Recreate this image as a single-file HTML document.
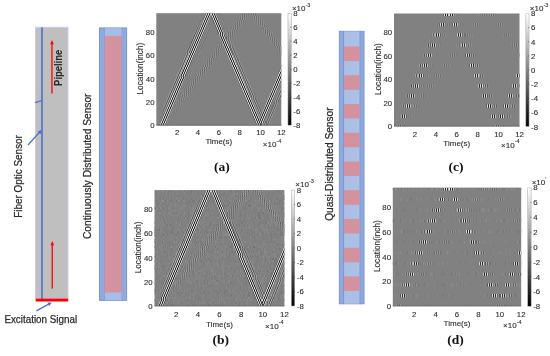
<!DOCTYPE html>
<html><head><meta charset="utf-8"><style>
html,body{margin:0;padding:0;background:#fff;}
svg{display:block;}
</style></head><body>
<svg width="550" height="356" viewBox="0 0 550 356">
<rect width="550" height="356" fill="#fff"/>
<rect x="35.5" y="27.3" width="32.5" height="271.5" fill="#bfbfbf" stroke="#c8cdf0" stroke-width="1"/>
<rect x="41.2" y="27.3" width="1.6" height="272.5" fill="#4a74c8"/>
<line x1="35" y1="102.7" x2="41.5" y2="100.6" stroke="#4a72c8" stroke-width="1.3"/>
<line x1="28" y1="145" x2="39.5" y2="132.3" stroke="#4a72c8" stroke-width="1.3"/>
<polygon points="41.8,129.8 37.6,131.6 40.6,134.3" fill="#4a72c8"/>
<line x1="36.4" y1="310.9" x2="49.2" y2="303.9" stroke="#4a72c8" stroke-width="1.3"/>
<polygon points="51.8,302.5 47.4,302.4 49.3,305.9" fill="#4a72c8"/>
<rect x="51.3" y="43.5" width="1.3" height="50" fill="#ff0000"/>
<polygon points="52,40 50.2,44.2 53.8,44.2" fill="#ff0000"/>
<rect x="51.6" y="244.5" width="1.3" height="44.2" fill="#ff0000"/>
<polygon points="52.3,241 50.5,245.2 54.1,245.2" fill="#ff0000"/>
<rect x="35.7" y="298.6" width="32.5" height="2.9" fill="#ff0000"/>
<text x="4.4" y="323" font-family="Liberation Sans, sans-serif" font-size="10.5" fill="#2b2b2b" stroke="#2b2b2b" stroke-width="0.25" textLength="72.7" lengthAdjust="spacingAndGlyphs">Excitation Signal</text>
<text transform="translate(22,217.7) rotate(-90)" font-family="Liberation Sans, sans-serif" font-size="10.2" fill="#2b2b2b" stroke="#2b2b2b" stroke-width="0.25" textLength="82.6" lengthAdjust="spacingAndGlyphs">Fiber Optic Sensor</text>
<text transform="translate(62.3,85.9) rotate(-90)" font-family="Liberation Sans, sans-serif" font-weight="bold" font-size="10.2" fill="#2b2b2b" stroke="#2b2b2b" stroke-width="0.08" textLength="36.1" lengthAdjust="spacingAndGlyphs">Pipeline</text>
<rect x="99.4" y="27.9" width="27.3" height="272.4" fill="#8eaadc" stroke="#6f89c6" stroke-width="0.8"/>
<rect x="104.6" y="27.9" width="17.2" height="272.2" fill="#a8bce8"/>
<rect x="104.6" y="36" width="17.2" height="256.4" fill="#d4929f"/>
<rect x="105.9" y="36" width="1.6" height="256.4" fill="#dc90a2"/>
<rect x="104.3" y="27.9" width="0.7" height="272.4" fill="#8a94c4" fill-opacity="0.8"/>
<rect x="121.5" y="27.9" width="0.7" height="272.4" fill="#8a94c4" fill-opacity="0.6"/>
<text transform="translate(90.8,239) rotate(-90)" font-family="Liberation Sans, sans-serif" font-size="10" fill="#2b2b2b" stroke="#2b2b2b" stroke-width="0.25" textLength="145.5" lengthAdjust="spacingAndGlyphs">Continuously Distributed Sensor</text>
<rect x="339.2" y="31.2" width="24.9" height="272.7" fill="#8eaadc" stroke="#6f89c6" stroke-width="0.7"/>
<rect x="343.8" y="31.4" width="16.4" height="272.3" fill="#abbfe7"/>
<rect x="343.3" y="30.9" width="0.8" height="273.3" fill="#7892cc"/>
<rect x="359.6" y="30.9" width="0.8" height="273.3" fill="#7892cc"/>
<rect x="344.1" y="46.50" width="15.5" height="14.5" fill="#d4919e"/>
<rect x="344.1" y="75.25" width="15.5" height="14.5" fill="#d4919e"/>
<rect x="344.1" y="104.00" width="15.5" height="14.5" fill="#d4919e"/>
<rect x="344.1" y="132.75" width="15.5" height="14.5" fill="#d4919e"/>
<rect x="344.1" y="161.50" width="15.5" height="14.5" fill="#d4919e"/>
<rect x="344.1" y="190.25" width="15.5" height="14.5" fill="#d4919e"/>
<rect x="344.1" y="219.00" width="15.5" height="14.5" fill="#d4919e"/>
<rect x="344.1" y="247.75" width="15.5" height="14.5" fill="#d4919e"/>
<rect x="344.1" y="276.50" width="15.5" height="14.5" fill="#d4919e"/>
<text transform="translate(332.7,220.8) rotate(-90)" font-family="Liberation Sans, sans-serif" font-size="10" fill="#2b2b2b" stroke="#2b2b2b" stroke-width="0.25" textLength="113.4" lengthAdjust="spacingAndGlyphs">Quasi-Distributed Sensor</text>
<rect x="156.3" y="13.2" width="125.00" height="112.40" fill="#818181"/>
<defs><clipPath id="cpa"><rect x="156.3" y="13.2" width="125.00" height="112.40"/></clipPath>
<filter id="bla" x="154.3" y="11.2" width="129.00" height="116.40" filterUnits="userSpaceOnUse" color-interpolation-filters="sRGB"><feConvolveMatrix order="3" kernelMatrix="0 0 0 0 1 0 0 0 0" divisor="1" edgeMode="none"/></filter>
</defs>
<g clip-path="url(#cpa)">
<g filter="url(#bla)">
<path fill="#292929" d="M207 13.50h1v1.74h-1zm2 0h1v1.74h-1zm3 0h1v1.74h-1zm2 0h1v1.74h-1zm-8 2.34h1v1.74h-1zm2 0h1v1.74h-1zm5 0h1v1.74h-1zm2 0h1v1.74h-1zm-10 2.34h1v1.74h-1zm2 0h1v1.74h-1zm7 0h1v1.74h-1zm2 0h1v1.74h-1zm-12 2.34h1v1.74h-1zm2 0h1v1.74h-1zm9 0h1v1.74h-1zm2 0h1v1.74h-1zm-14 2.34h1v1.74h-1zm2 0h1v1.74h-1zm11 0h1v1.74h-1zm2 0h1v1.74h-1zm-16 2.34h1v1.74h-1zm2 0h1v1.74h-1zm13 0h1v1.74h-1zm2 0h1v1.74h-1zm-18 2.34h1v1.74h-1zm2 0h1v1.74h-1zm15 0h1v1.74h-1zm2 0h1v1.74h-1zm-20 2.34h1v1.74h-1zm2 0h1v1.74h-1zm17 0h1v1.74h-1zm2 0h1v1.74h-1zm-22 2.34h1v1.74h-1zm2 0h1v1.74h-1zm19 0h1v1.74h-1zm2 0h1v1.74h-1zm-24 2.34h1v1.74h-1zm2 0h1v1.74h-1zm20 0h1v1.74h-1zm2 0h1v1.74h-1zm-25 2.34h1v1.74h-1zm2 0h1v1.74h-1zm22 0h1v1.74h-1zm2 0h1v1.74h-1zm-27 2.34h1v1.74h-1zm2 0h1v1.74h-1zm24 0h1v1.74h-1zm2 0h1v1.74h-1zm-29 2.34h1v1.74h-1zm2 0h1v1.74h-1zm26 0h1v1.74h-1zm2 0h1v1.74h-1zm-31 2.34h1v1.74h-1zm2 0h1v1.74h-1zm28 0h1v1.74h-1zm2 0h1v1.74h-1zm-33 2.34h1v1.74h-1zm2 0h1v1.74h-1zm30 0h1v1.74h-1zm2 0h1v1.74h-1zm-35 2.34h1v1.74h-1zm2 0h1v1.74h-1zm32 0h1v1.74h-1zm2 0h1v1.74h-1zm-37 2.34h1v1.74h-1zm2 0h1v1.74h-1zm34 0h1v1.74h-1zm2 0h1v1.74h-1zm-39 2.34h1v1.74h-1zm2 0h1v1.74h-1zm36 0h1v1.74h-1zm2 0h1v1.74h-1zm-41 2.34h1v1.74h-1zm2 0h1v1.74h-1zm38 0h1v1.74h-1zm2 0h1v1.74h-1zm-43 2.34h1v1.74h-1zm2 0h1v1.74h-1zm40 0h1v1.74h-1zm2 0h1v1.74h-1zm-45 2.34h1v1.74h-1zm2 0h1v1.74h-1zm42 0h1v1.74h-1zm2 0h1v1.74h-1zm-47 2.34h1v1.74h-1zm2 0h1v1.74h-1zm44 0h1v1.74h-1zm2 0h1v1.74h-1zm-49 2.34h1v1.74h-1zm2 0h1v1.74h-1zm46 0h1v1.74h-1zm2 0h1v1.74h-1zm-51 2.34h1v1.74h-1zm2 0h1v1.74h-1zm48 0h1v1.74h-1zm2 0h1v1.74h-1zm-53 2.34h1v1.74h-1zm2 0h1v1.74h-1zm50 0h1v1.74h-1zm2 0h1v1.74h-1zm44 0h1v1.74h-1zm-99 2.34h1v1.74h-1zm2 0h1v1.74h-1zm52 0h1v1.74h-1zm2 0h1v1.74h-1zm42 0h1v1.74h-1zm-99 2.34h1v1.74h-1zm2 0h1v1.74h-1zm54 0h1v1.74h-1zm2 0h1v1.74h-1zm40 0h1v1.74h-1zm2 0h1v1.74h-1zm-100 2.34h1v1.74h-1zm2 0h1v1.74h-1zm55 0h1v1.74h-1zm2 0h1v1.74h-1zm38 0h1v1.74h-1zm2 0h1v1.74h-1zm-100 2.34h1v1.74h-1zm2 0h1v1.74h-1zm57 0h1v1.74h-1zm2 0h1v1.74h-1zm36 0h1v1.74h-1zm2 0h1v1.74h-1zm-100 2.34h1v1.74h-1zm2 0h1v1.74h-1zm59 0h1v1.74h-1zm2 0h1v1.74h-1zm34 0h1v1.74h-1zm2 0h1v1.74h-1zm-100 2.34h1v1.74h-1zm2 0h1v1.74h-1zm61 0h1v1.74h-1zm2 0h1v1.74h-1zm32 0h1v1.74h-1zm2 0h1v1.74h-1zm-100 2.34h1v1.74h-1zm2 0h1v1.74h-1zm63 0h1v1.74h-1zm2 0h1v1.74h-1zm30 0h1v1.74h-1zm2 0h1v1.74h-1zm-100 2.34h1v1.74h-1zm2 0h1v1.74h-1zm65 0h1v1.74h-1zm2 0h1v1.74h-1zm28 0h1v1.74h-1zm2 0h1v1.74h-1zm-100 2.34h1v1.74h-1zm2 0h1v1.74h-1zm67 0h1v1.74h-1zm2 0h1v1.74h-1zm26 0h1v1.74h-1zm2 0h1v1.74h-1zm-100 2.34h1v1.74h-1zm2 0h1v1.74h-1zm69 0h1v1.74h-1zm2 0h1v1.74h-1zm24 0h1v1.74h-1zm2 0h1v1.74h-1zm-100 2.34h1v1.74h-1zm2 0h1v1.74h-1zm71 0h1v1.74h-1zm2 0h1v1.74h-1zm22 0h1v1.74h-1zm2 0h1v1.74h-1zm-100 2.34h1v1.74h-1zm2 0h1v1.74h-1zm73 0h1v1.74h-1zm2 0h1v1.74h-1zm20 0h1v1.74h-1zm2 0h1v1.74h-1zm-100 2.34h1v1.74h-1zm2 0h1v1.74h-1zm75 0h1v1.74h-1zm2 0h1v1.74h-1zm18 0h1v1.74h-1zm2 0h1v1.74h-1zm-100 2.34h1v1.74h-1zm2 0h1v1.74h-1zm77 0h1v1.74h-1zm2 0h1v1.74h-1zm16 0h1v1.74h-1zm2 0h1v1.74h-1zm-100 2.34h1v1.74h-1zm2 0h1v1.74h-1zm79 0h1v1.74h-1zm2 0h1v1.74h-1zm14 0h1v1.74h-1zm2 0h1v1.74h-1zm-100 2.34h1v1.74h-1zm2 0h1v1.74h-1zm81 0h1v1.74h-1zm2 0h1v1.74h-1zm12 0h1v1.74h-1zm2 0h1v1.74h-1zm-100 2.34h1v1.74h-1zm2 0h1v1.74h-1zm83 0h1v1.74h-1zm2 0h1v1.74h-1zm10 0h1v1.74h-1zm2 0h1v1.74h-1zm-100 2.34h1v1.74h-1zm2 0h1v1.74h-1zm85 0h1v1.74h-1zm2 0h1v1.74h-1zm8 0h1v1.74h-1zm2 0h1v1.74h-1zm-100 2.34h1v1.74h-1zm2 0h1v1.74h-1zm87 0h1v1.74h-1zm2 0h1v1.74h-1zm6 0h1v1.74h-1zm2 0h1v1.74h-1zm-100 2.34h1v1.74h-1zm2 0h1v1.74h-1zm89 0h1v1.74h-1zm2 0h1v1.74h-1zm4 0h1v1.74h-1zm2 0h1v1.74h-1zm-100 2.34h1v1.74h-1zm2 0h1v1.74h-1zm91 0h1v1.74h-1zm2 0h1v1.74h-1zm2 0h1v1.74h-1zm2 0h1v1.74h-1zm-100 2.34h1v1.74h-1zm2 0h1v1.74h-1zm93 0h1v1.74h-1zm2 0h1v1.74h-1zm2 0h1v1.74h-1zm-100 2.34h1v1.74h-1zm2 0h1v1.74h-1zm95 0h1v1.74h-1zm2 0h1v1.74h-1zm1 0h1v1.74h-1z"/>
<path fill="#555555" d="M217 29.89h1v1.74h-1zm1 2.34h1v1.74h-1zm-24 2.34h1v1.74h-1zm2 0h1v1.74h-1zm28 0h1v1.74h-1zm-31 2.34h1v1.74h-1zm2 0h1v1.74h-1zm30 0h1v1.74h-1zm-33 2.34h1v1.74h-1zm2 0h1v1.74h-1zm32 0h1v1.74h-1zm-35 2.34h1v1.74h-1zm2 0h1v1.74h-1zm-3 2.34h1v1.74h-1zm2 0h1v1.74h-1zm-3 2.34h1v1.74h-1zm2 0h1v1.74h-1zm-3 2.34h1v1.74h-1zm2 0h1v1.74h-1zm-1 2.34h1v1.74h-1zm-2 2.34h1v1.74h-1zm-1 2.34h1v1.74h-1zm-1 2.34h1v1.74h-1zm-1 2.34h1v1.74h-1zm-1 2.34h1v1.74h-1zm-1 2.34h1v1.74h-1zm-1 2.34h1v1.74h-1zm-1 2.34h1v1.74h-1zm7 0h1v1.74h-1zm-8 2.34h1v1.74h-1zm7 0h1v1.74h-1zm-8 2.34h1v1.74h-1zm7 0h1v1.74h-1zm-8 2.34h1v1.74h-1zm2 0h1v1.74h-1zm-3 2.34h1v1.74h-1zm2 0h1v1.74h-1zm-3 2.34h1v1.74h-1zm2 0h1v1.74h-1zm-3 2.34h1v1.74h-1zm2 0h1v1.74h-1zm-3 2.34h1v1.74h-1zm2 0h1v1.74h-1zm-3 2.34h1v1.74h-1zm2 0h1v1.74h-1zm-3 2.34h1v1.74h-1zm2 0h1v1.74h-1zm-3 2.34h1v1.74h-1zm2 0h1v1.74h-1zm-3 2.34h1v1.74h-1zm2 0h1v1.74h-1zm-3 2.34h1v1.74h-1zm2 0h1v1.74h-1zm-3 2.34h1v1.74h-1zm2 0h1v1.74h-1zm-3 2.34h1v1.74h-1zm2 0h1v1.74h-1zm97 14.05h1v1.74h-1zm-1 2.34h1v1.74h-1zm-1 2.34h1v1.74h-1zm-7 2.34h1v1.74h-1z"/>
<path fill="#5e5e5e" d="M212 18.18h1v1.74h-1zm1 2.34h1v1.74h-1zm1 2.34h1v1.74h-1zm1 2.34h1v1.74h-1zm1 2.34h1v1.74h-1zm-20 2.34h1v1.74h-1zm2 0h1v1.74h-1zm-3 2.34h1v1.74h-1zm2 0h1v1.74h-1zm30 9.37h1v1.74h-1zm1 2.34h1v1.74h-1zm1 2.34h1v1.74h-1zm1 0h1v1.74h-1zm0 2.34h1v1.74h-1zm1 0h1v1.74h-1zm2 0h1v1.74h-1zm-46 2.34h1v1.74h-1zm45 0h1v1.74h-1zm2 0h1v1.74h-1zm-1 2.34h1v1.74h-1zm2 0h1v1.74h-1zm-1 2.34h1v1.74h-1zm2 0h1v1.74h-1zm-1 2.34h1v1.74h-1zm2 0h1v1.74h-1zm-46 2.34h1v1.74h-1zm45 0h1v1.74h-1zm2 0h1v1.74h-1zm-48 2.34h1v1.74h-1zm47 0h1v1.74h-1zm2 0h1v1.74h-1zm-50 2.34h1v1.74h-1zm49 0h1v1.74h-1zm2 0h1v1.74h-1zm-52 2.34h1v1.74h-1zm51 0h1v1.74h-1zm2 0h1v1.74h-1zm-1 2.34h1v1.74h-1zm2 0h1v1.74h-1zm-1 2.34h1v1.74h-1zm2 0h1v1.74h-1zm-1 2.34h1v1.74h-1zm2 0h1v1.74h-1zm-1 2.34h1v1.74h-1zm2 0h1v1.74h-1zm-1 2.34h1v1.74h-1zm2 0h1v1.74h-1zm-1 2.34h1v1.74h-1zm2 0h1v1.74h-1zm-1 2.34h1v1.74h-1zm2 0h1v1.74h-1zm-1 2.34h1v1.74h-1zm2 0h1v1.74h-1zm-1 2.34h1v1.74h-1zm2 0h1v1.74h-1zm31 0h1v1.74h-1zm-32 2.34h1v1.74h-1zm2 0h1v1.74h-1zm29 0h1v1.74h-1zm-30 2.34h1v1.74h-1zm2 0h1v1.74h-1zm27 0h1v1.74h-1zm2 0h1v1.74h-1zm-30 2.34h1v1.74h-1zm2 0h1v1.74h-1zm25 0h1v1.74h-1zm2 0h1v1.74h-1zm-27 2.34h1v1.74h-1zm2 0h1v1.74h-1zm22 0h1v1.74h-1zm2 0h1v1.74h-1zm-25 2.34h1v1.74h-1zm2 0h1v1.74h-1zm20 0h1v1.74h-1zm2 0h1v1.74h-1zm-23 2.34h1v1.74h-1zm2 0h1v1.74h-1zm17 0h1v1.74h-1zm2 0h1v1.74h-1zm-111 2.34h1v1.74h-1zm2 0h1v1.74h-1zm89 0h1v1.74h-1zm2 0h1v1.74h-1zm15 0h1v1.74h-1zm2 0h1v1.74h-1zm-18 2.34h1v1.74h-1zm2 0h1v1.74h-1zm10 0h1v1.74h-1zm3 0h1v1.74h-1zm2 0h1v1.74h-1zm-16 2.34h1v1.74h-1zm2 0h1v1.74h-1zm8 0h1v1.74h-1zm3 0h1v1.74h-1zm2 0h1v1.74h-1zm-22 2.34h1v1.74h-1zm8 0h1v1.74h-1zm2 0h1v1.74h-1zm6 0h1v1.74h-1zm3 0h1v1.74h-1zm2 0h1v1.74h-1zm-20 2.34h1v1.74h-1zm8 0h1v1.74h-1zm6 0h1v1.74h-1zm3 0h1v1.74h-1zm2 0h1v1.74h-1zm-18 2.34h1v1.74h-1zm15 0h1v1.74h-1zm2 0h1v1.74h-1zm-16 2.34h1v1.74h-1zm13 0h1v1.74h-1zm2 0h1v1.74h-1zm-14 2.34h1v1.74h-1zm10 0h1v1.74h-1zm1 0h1v1.74h-1zm2 0h1v1.74h-1zm-4 2.34h1v1.74h-1zm2 0h1v1.74h-1zm1 0h1v1.74h-1z"/>
<path fill="#676767" d="M244 13.50h1v1.74h-1zm2 0h1v1.74h-1zm7 0h1v1.74h-1zm2 0h1v1.74h-1zm-44 2.34h1v1.74h-1zm31 0h1v1.74h-1zm2 0h1v1.74h-1zm10 0h1v1.74h-1zm2 0h1v1.74h-1zm-16 2.34h1v1.74h-1zm2 0h1v1.74h-1zm14 0h1v1.74h-1zm2 0h1v1.74h-1zm-19 2.34h1v1.74h-1zm2 0h1v1.74h-1zm17 0h1v1.74h-1zm2 0h1v1.74h-1zm-23 2.34h1v1.74h-1zm2 0h1v1.74h-1zm21 0h1v1.74h-1zm2 0h1v1.74h-1zm-27 2.34h1v1.74h-1zm2 0h1v1.74h-1zm25 0h1v1.74h-1zm2 0h1v1.74h-1zm-67 2.34h1v1.74h-1zm2 0h1v1.74h-1zm34 0h1v1.74h-1zm2 0h1v1.74h-1zm28 0h1v1.74h-1zm2 0h1v1.74h-1zm-33 2.34h1v1.74h-1zm2 0h1v1.74h-1zm31 0h1v1.74h-1zm2 0h1v1.74h-1zm-37 2.34h1v1.74h-1zm2 0h1v1.74h-1zm35 0h1v1.74h-1zm2 0h1v1.74h-1zm-41 2.34h1v1.74h-1zm2 0h1v1.74h-1zm39 0h1v1.74h-1zm2 0h1v1.74h-1zm-45 2.34h1v1.74h-1zm2 0h1v1.74h-1zm42 0h1v1.74h-1zm2 0h1v1.74h-1zm-44 2.34h1v1.74h-1zm44 0h1v1.74h-1zm2 0h1v1.74h-1zm-45 2.34h1v1.74h-1zm45 0h1v1.74h-1zm2 0h1v1.74h-1zm-55 2.34h1v1.74h-1zm9 0h1v1.74h-1zm46 0h1v1.74h-1zm2 0h1v1.74h-1zm-81 2.34h1v1.74h-1zm22 0h1v1.74h-1zm2 0h1v1.74h-1zm11 0h1v1.74h-1zm45 0h1v1.74h-1zm2 0h1v1.74h-1zm-83 2.34h1v1.74h-1zm22 0h1v1.74h-1zm2 0h1v1.74h-1zm59 0h1v1.74h-1zm2 0h1v1.74h-1zm-86 2.34h1v1.74h-1zm21 0h1v1.74h-1zm2 0h1v1.74h-1zm13 0h1v1.74h-1zm50 0h1v1.74h-1zm-87 2.34h1v1.74h-1zm20 0h1v1.74h-1zm2 0h1v1.74h-1zm16 0h1v1.74h-1zm-39 2.34h1v1.74h-1zm19 0h1v1.74h-1zm2 0h1v1.74h-1zm-22 2.34h1v1.74h-1zm19 0h1v1.74h-1zm2 0h1v1.74h-1zm-4 2.34h1v1.74h-1zm2 0h1v1.74h-1zm-4 2.34h1v1.74h-1zm2 0h1v1.74h-1zm-4 2.34h1v1.74h-1zm2 0h1v1.74h-1zm-3 2.34h1v1.74h-1zm2 0h1v1.74h-1zm-4 2.34h1v1.74h-1zm2 0h1v1.74h-1zm-4 2.34h1v1.74h-1zm2 0h1v1.74h-1zm-4 2.34h1v1.74h-1zm2 0h1v1.74h-1zm-3 2.34h1v1.74h-1zm2 0h1v1.74h-1zm-4 2.34h1v1.74h-1zm2 0h1v1.74h-1zm-4 2.34h1v1.74h-1zm2 0h1v1.74h-1zm-4 2.34h1v1.74h-1zm2 0h1v1.74h-1zm-3 2.34h1v1.74h-1zm2 0h1v1.74h-1zm-4 2.34h1v1.74h-1zm2 0h1v1.74h-1zm-4 2.34h1v1.74h-1zm2 0h1v1.74h-1zm-4 2.34h1v1.74h-1zm2 0h1v1.74h-1zm89 0h1v1.74h-1zm-93 2.34h1v1.74h-1zm2 0h1v1.74h-1zm90 0h1v1.74h-1zm-93 2.34h1v1.74h-1zm92 0h1v1.74h-1zm-27 2.34h1v1.74h-1zm26 0h1v1.74h-1zm-25 2.34h1v1.74h-1zm24 0h1v1.74h-1zm-23 2.34h1v1.74h-1zm22 0h1v1.74h-1zm-106 2.34h1v1.74h-1zm2 0h1v1.74h-1zm83 0h1v1.74h-1zm-86 2.34h1v1.74h-1zm2 0h1v1.74h-1zm85 0h1v1.74h-1z"/>
<path fill="#6f6f6f" d="M205 13.50h1v1.74h-1zm37 0h1v1.74h-1zm9 0h1v1.74h-1zm-47 2.34h1v1.74h-1zm42 0h1v1.74h-1zm12 0h1v1.74h-1zm-55 2.34h1v1.74h-1zm41 0h1v1.74h-1zm16 0h1v1.74h-1zm-58 2.34h1v1.74h-1zm35 0h1v1.74h-1zm-38 2.34h1v1.74h-1zm2 0h1v1.74h-1zm34 0h1v1.74h-1zm23 0h1v1.74h-1zm-60 2.34h1v1.74h-1zm2 0h1v1.74h-1zm39 0h1v1.74h-1zm21 0h1v1.74h-1zm-23 2.34h1v1.74h-1zm30 0h1v1.74h-1zm-37 2.34h1v1.74h-1zm39 0h1v1.74h-1zm-66 2.34h1v1.74h-1zm22 0h1v1.74h-1zm3 0h1v1.74h-1zm37 0h1v1.74h-1zm-63 2.34h1v1.74h-1zm24 0h1v1.74h-1zm6 0h1v1.74h-1zm35 0h1v1.74h-1zm-66 2.34h1v1.74h-1zm29 0h1v1.74h-1zm44 0h1v1.74h-1zm-74 2.34h1v1.74h-1zm76 0h1v1.74h-1zm-77 2.34h1v1.74h-1zm22 0h1v1.74h-1zm51 0h1v1.74h-1zm-74 2.34h1v1.74h-1zm76 0h1v1.74h-1zm-51 2.34h1v1.74h-1zm58 0h1v1.74h-1zm-65 2.34h1v1.74h-1zm-2 2.34h1v1.74h-1zm65 0h1v1.74h-1zm-61 2.34h1v1.74h-1zm63 0h1v1.74h-1zm-65 2.34h1v1.74h-1zm-7 2.34h1v1.74h-1zm-2 2.34h1v1.74h-1zm4 2.34h1v1.74h-1zm-2 2.34h1v1.74h-1zm72 0h1v1.74h-1zm-79 2.34h1v1.74h-1zm78 0h1v1.74h-1zm-80 2.34h1v1.74h-1zm79 0h1v1.74h-1zm-75 2.34h1v1.74h-1zm-2 2.34h1v1.74h-1zm-7 2.34h1v1.74h-1zm-2 2.34h1v1.74h-1zm88 0h1v1.74h-1zm-1 2.34h1v1.74h-1zm-85 2.34h1v1.74h-1zm84 0h1v1.74h-1zm-91 2.34h1v1.74h-1zm52 0h1v1.74h-1zm38 0h1v1.74h-1zm-92 2.34h1v1.74h-1zm55 0h1v1.74h-1zm36 0h1v1.74h-1zm-35 2.34h1v1.74h-1zm34 0h1v1.74h-1zm-88 2.34h1v1.74h-1zm55 0h1v1.74h-1zm-57 2.34h1v1.74h-1zm58 0h1v1.74h-1zm-61 2.34h1v1.74h-1zm62 0h1v1.74h-1zm-66 2.34h1v1.74h-1zm2 0h1v1.74h-1zm-4 2.34h1v1.74h-1zm2 0h1v1.74h-1zm-2 2.34h1v1.74h-1zm-15 7.02h1v1.74h-1zm2 0h1v1.74h-1zm-1 2.34h1v1.74h-1zm-1 2.34h1v1.74h-1z"/>
<path fill="#787878" d="M216 13.50h1v1.74h-1zm2 0h1v1.74h-1zm2 0h1v1.74h-1zm28 0h1v1.74h-1zm9 0h1v1.74h-1zm-47 2.34h1v1.74h-1zm7 0h1v1.74h-1zm2 0h1v1.74h-1zm2 0h1v1.74h-1zm19 0h1v1.74h-1zm12 0h1v1.74h-1zm-43 2.34h1v1.74h-1zm2 0h1v1.74h-1zm7 0h1v1.74h-1zm2 0h1v1.74h-1zm2 0h1v1.74h-1zm16 0h1v1.74h-1zm16 0h1v1.74h-1zm-54 2.34h1v1.74h-1zm8 0h1v1.74h-1zm2 0h1v1.74h-1zm2 0h1v1.74h-1zm7 0h1v1.74h-1zm2 0h1v1.74h-1zm2 0h1v1.74h-1zm20 0h1v1.74h-1zm13 0h1v1.74h-1zm6 0h1v1.74h-1zm-55 2.34h1v1.74h-1zm2 0h1v1.74h-1zm2 0h1v1.74h-1zm9 0h1v1.74h-1zm2 0h1v1.74h-1zm2 0h1v1.74h-1zm17 0h1v1.74h-1zm23 0h1v1.74h-1zm-58 2.34h1v1.74h-1zm2 0h1v1.74h-1zm2 0h1v1.74h-1zm11 0h1v1.74h-1zm2 0h1v1.74h-1zm2 0h1v1.74h-1zm8 0h1v1.74h-1zm33 0h1v1.74h-1zm-61 2.34h1v1.74h-1zm2 0h1v1.74h-1zm2 0h1v1.74h-1zm13 0h1v1.74h-1zm1 0h1v1.74h-1zm1 0h1v1.74h-1zm2 0h1v1.74h-1zm5 0h1v1.74h-1zm30 0h1v1.74h-1zm-57 2.34h1v1.74h-1zm2 0h1v1.74h-1zm2 0h1v1.74h-1zm16 0h1v1.74h-1zm3 0h1v1.74h-1zm9 0h1v1.74h-1zm27 0h1v1.74h-1zm-58 2.34h1v1.74h-1zm2 0h1v1.74h-1zm27 0h1v1.74h-1zm37 0h1v1.74h-1zm-67 2.34h1v1.74h-1zm2 0h1v1.74h-1zm67 0h1v1.74h-1zm-70 2.34h1v1.74h-1zm2 0h1v1.74h-1zm63 0h1v1.74h-1zm-66 2.34h1v1.74h-1zm2 0h1v1.74h-1zm26 0h1v1.74h-1zm40 0h1v1.74h-1zm-69 2.34h1v1.74h-1zm2 0h1v1.74h-1zm28 0h1v1.74h-1zm47 0h1v1.74h-1zm-78 2.34h1v1.74h-1zm2 0h1v1.74h-1zm17 0h1v1.74h-1zm13 0h1v1.74h-1zm48 0h1v1.74h-1zm-81 2.34h1v1.74h-1zm2 0h1v1.74h-1zm16 0h1v1.74h-1zm58 0h1v1.74h-1zm-77 2.34h1v1.74h-1zm2 0h1v1.74h-1zm22 0h1v1.74h-1zm55 0h1v1.74h-1zm-80 2.34h1v1.74h-1zm2 0h1v1.74h-1zm21 0h1v1.74h-1zm-35 2.34h1v1.74h-1zm11 0h1v1.74h-1zm2 0h1v1.74h-1zm14 0h1v1.74h-1zm-28 2.34h1v1.74h-1zm11 0h1v1.74h-1zm2 0h1v1.74h-1zm13 0h1v1.74h-1zm-27 2.34h1v1.74h-1zm11 0h1v1.74h-1zm2 0h1v1.74h-1zm19 0h1v1.74h-1zm-33 2.34h1v1.74h-1zm11 0h1v1.74h-1zm2 0h1v1.74h-1zm18 0h1v1.74h-1zm-32 2.34h1v1.74h-1zm11 0h1v1.74h-1zm2 0h1v1.74h-1zm11 0h1v1.74h-1zm-25 2.34h1v1.74h-1zm11 0h1v1.74h-1zm2 0h1v1.74h-1zm10 0h1v1.74h-1zm28 0h1v1.74h-1zm-52 2.34h1v1.74h-1zm11 0h1v1.74h-1zm2 0h1v1.74h-1zm16 0h1v1.74h-1zm24 0h1v1.74h-1zm-54 2.34h1v1.74h-1zm11 0h1v1.74h-1zm2 0h1v1.74h-1zm15 0h1v1.74h-1zm27 0h1v1.74h-1zm-45 2.34h1v1.74h-1zm2 0h1v1.74h-1zm8 0h1v1.74h-1zm36 0h1v1.74h-1zm44 0h1v1.74h-1zm-91 2.34h1v1.74h-1zm2 0h1v1.74h-1zm7 0h1v1.74h-1zm39 0h1v1.74h-1zm42 0h1v1.74h-1zm-92 2.34h1v1.74h-1zm2 0h1v1.74h-1zm2 0h1v1.74h-1zm12 0h1v1.74h-1zm35 0h1v1.74h-1zm40 0h1v1.74h-1zm-92 2.34h1v1.74h-1zm2 0h1v1.74h-1zm2 0h1v1.74h-1zm11 0h1v1.74h-1zm38 0h1v1.74h-1zm38 0h1v1.74h-1zm-92 2.34h1v1.74h-1zm2 0h1v1.74h-1zm2 0h1v1.74h-1zm4 0h1v1.74h-1zm6 0h1v1.74h-1zm41 0h1v1.74h-1zm36 0h1v1.74h-1zm-92 2.34h1v1.74h-1zm2 0h1v1.74h-1zm2 0h1v1.74h-1zm3 0h1v1.74h-1zm50 0h1v1.74h-1zm34 0h1v1.74h-1zm8 0h1v1.74h-1zm-100 2.34h1v1.74h-1zm2 0h1v1.74h-1zm2 0h1v1.74h-1zm9 0h1v1.74h-1zm78 0h1v1.74h-1zm8 0h1v1.74h-1zm-100 2.34h1v1.74h-1zm2 0h1v1.74h-1zm2 0h1v1.74h-1zm8 0h1v1.74h-1zm79 0h1v1.74h-1zm8 0h1v1.74h-1zm-100 2.34h1v1.74h-1zm2 0h1v1.74h-1zm3 0h1v1.74h-1zm6 0h1v1.74h-1zm63 0h1v1.74h-1zm17 0h1v1.74h-1zm8 0h1v1.74h-1zm-100 2.34h1v1.74h-1zm2 0h1v1.74h-1zm2 0h1v1.74h-1zm67 0h1v1.74h-1zm5 0h1v1.74h-1zm23 0h1v1.74h-1zm-100 2.34h1v1.74h-1zm2 0h1v1.74h-1zm1 0h1v1.74h-1zm70 0h1v1.74h-1zm5 0h1v1.74h-1zm21 0h1v1.74h-1zm-100 2.34h1v1.74h-1zm2 0h1v1.74h-1zm1 0h1v1.74h-1zm6 0h1v1.74h-1zm66 0h1v1.74h-1zm24 0h1v1.74h-1zm-100 2.34h1v1.74h-1zm2 0h1v1.74h-1zm6 0h1v1.74h-1zm69 0h1v1.74h-1zm22 0h1v1.74h-1zm-100 2.34h1v1.74h-1zm7 0h1v1.74h-1zm72 0h1v1.74h-1zm20 0h1v1.74h-1zm5 0h1v1.74h-1zm-105 2.34h1v1.74h-1zm2 0h1v1.74h-1zm4 0h1v1.74h-1zm75 0h1v1.74h-1zm18 0h1v1.74h-1zm5 0h1v1.74h-1zm-105 2.34h1v1.74h-1zm2 0h1v1.74h-1zm2 0h1v1.74h-1zm2 0h1v1.74h-1zm77 0h1v1.74h-1zm16 0h1v1.74h-1zm5 0h1v1.74h-1zm-105 2.34h1v1.74h-1zm3 0h1v1.74h-1zm2 0h1v1.74h-1zm80 0h1v1.74h-1zm-86 2.34h1v1.74h-1zm2 0h1v1.74h-1zm2 0h1v1.74h-1zm83 0h1v1.74h-1zm-96 2.34h1v1.74h-1zm8 0h1v1.74h-1zm2 0h1v1.74h-1zm2 0h1v1.74h-1zm85 0h1v1.74h-1zm-98 2.34h1v1.74h-1zm8 0h1v1.74h-1zm2 0h1v1.74h-1zm2 0h1v1.74h-1zm87 0h1v1.74h-1zm-98 2.34h1v1.74h-1zm6 0h1v1.74h-1zm2 0h1v1.74h-1zm2 0h1v1.74h-1zm-11 2.34h1v1.74h-1zm6 0h1v1.74h-1zm2 0h1v1.74h-1zm2 0h1v1.74h-1zm-11 2.34h1v1.74h-1zm6 0h1v1.74h-1zm2 0h1v1.74h-1zm2 0h1v1.74h-1z"/>
<path fill="#8a8a8a" d="M217 13.50h1v1.74h-1zm2 0h1v1.74h-1zm22 0h1v1.74h-1zm8 0h1v1.74h-1zm1 0h1v1.74h-1zm-32 2.34h1v1.74h-1zm2 0h1v1.74h-1zm19 0h1v1.74h-1zm8 0h1v1.74h-1zm12 0h1v1.74h-1zm-49 2.34h1v1.74h-1zm9 0h1v1.74h-1zm2 0h1v1.74h-1zm24 0h1v1.74h-1zm8 0h1v1.74h-1zm8 0h1v1.74h-1zm-60 2.34h1v1.74h-1zm8 0h1v1.74h-1zm2 0h1v1.74h-1zm9 0h1v1.74h-1zm2 0h1v1.74h-1zm14 0h1v1.74h-1zm19 0h1v1.74h-1zm8 0h1v1.74h-1zm-65 2.34h1v1.74h-1zm10 0h1v1.74h-1zm2 0h1v1.74h-1zm11 0h1v1.74h-1zm2 0h1v1.74h-1zm11 0h1v1.74h-1zm8 0h1v1.74h-1zm15 0h1v1.74h-1zm8 0h1v1.74h-1zm-68 2.34h1v1.74h-1zm10 0h1v1.74h-1zm2 0h1v1.74h-1zm13 0h1v1.74h-1zm2 0h1v1.74h-1zm8 0h1v1.74h-1zm8 0h1v1.74h-1zm19 0h1v1.74h-1zm-63 2.34h1v1.74h-1zm10 0h1v1.74h-1zm2 0h1v1.74h-1zm17 0h1v1.74h-1zm13 0h1v1.74h-1zm30 0h1v1.74h-1zm-73 2.34h1v1.74h-1zm10 0h1v1.74h-1zm2 0h1v1.74h-1zm16 0h1v1.74h-1zm2 0h1v1.74h-1zm1 0h1v1.74h-1zm3 0h1v1.74h-1zm33 0h1v1.74h-1zm8 0h1v1.74h-1zm-76 2.34h1v1.74h-1zm10 0h1v1.74h-1zm2 0h1v1.74h-1zm20 0h1v1.74h-1zm1 0h1v1.74h-1zm8 0h1v1.74h-1zm29 0h1v1.74h-1zm8 0h1v1.74h-1zm-69 2.34h1v1.74h-1zm2 0h1v1.74h-1zm28 0h1v1.74h-1zm33 0h1v1.74h-1zm-64 2.34h1v1.74h-1zm2 0h1v1.74h-1zm27 0h1v1.74h-1zm44 0h1v1.74h-1zm-84 2.34h1v1.74h-1zm10 0h1v1.74h-1zm2 0h1v1.74h-1zm28 0h1v1.74h-1zm38 0h1v1.74h-1zm8 0h1v1.74h-1zm-87 2.34h1v1.74h-1zm10 0h1v1.74h-1zm2 0h1v1.74h-1zm18 0h1v1.74h-1zm12 0h1v1.74h-1zm39 0h1v1.74h-1zm8 0h1v1.74h-1zm-90 2.34h1v1.74h-1zm10 0h1v1.74h-1zm2 0h1v1.74h-1zm17 0h1v1.74h-1zm15 0h1v1.74h-1zm40 0h1v1.74h-1zm-85 2.34h1v1.74h-1zm10 0h1v1.74h-1zm2 0h1v1.74h-1zm33 0h1v1.74h-1zm1 0h1v1.74h-1zm-47 2.34h1v1.74h-1zm10 0h1v1.74h-1zm2 0h1v1.74h-1zm16 0h1v1.74h-1zm19 0h1v1.74h-1zm1 0h1v1.74h-1zm41 0h1v1.74h-1zm-90 2.34h1v1.74h-1zm10 0h1v1.74h-1zm2 0h1v1.74h-1zm2 0h1v1.74h-1zm13 0h1v1.74h-1zm8 0h1v1.74h-1zm14 0h1v1.74h-1zm1 0h1v1.74h-1zm42 0h1v1.74h-1zm-83 2.34h1v1.74h-1zm2 0h1v1.74h-1zm2 0h1v1.74h-1zm12 0h1v1.74h-1zm8 0h1v1.74h-1zm17 0h1v1.74h-1zm1 0h1v1.74h-1zm43 0h1v1.74h-1zm-86 2.34h1v1.74h-1zm2 0h1v1.74h-1zm2 0h1v1.74h-1zm19 0h1v1.74h-1zm20 0h1v1.74h-1zm1 0h1v1.74h-1zm-45 2.34h1v1.74h-1zm2 0h1v1.74h-1zm2 0h1v1.74h-1zm11 0h1v1.74h-1zm30 0h1v1.74h-1zm1 0h1v1.74h-1zm-47 2.34h1v1.74h-1zm2 0h1v1.74h-1zm2 0h1v1.74h-1zm10 0h1v1.74h-1zm8 0h1v1.74h-1zm-23 2.34h1v1.74h-1zm2 0h1v1.74h-1zm2 0h1v1.74h-1zm9 0h1v1.74h-1zm8 0h1v1.74h-1zm-22 2.34h1v1.74h-1zm2 0h1v1.74h-1zm2 0h1v1.74h-1zm16 0h1v1.74h-1zm-21 2.34h1v1.74h-1zm2 0h1v1.74h-1zm2 0h1v1.74h-1zm8 0h1v1.74h-1zm-13 2.34h1v1.74h-1zm2 0h1v1.74h-1zm2 0h1v1.74h-1zm7 0h1v1.74h-1zm8 0h1v1.74h-1zm-20 2.34h1v1.74h-1zm2 0h1v1.74h-1zm2 0h1v1.74h-1zm6 0h1v1.74h-1zm8 0h1v1.74h-1zm-19 2.34h1v1.74h-1zm2 0h1v1.74h-1zm2 0h1v1.74h-1zm13 0h1v1.74h-1zm-17 2.34h1v1.74h-1zm2 0h1v1.74h-1zm6 0h1v1.74h-1zm-9 2.34h1v1.74h-1zm2 0h1v1.74h-1zm5 0h1v1.74h-1zm8 0h1v1.74h-1zm-16 2.34h1v1.74h-1zm2 0h1v1.74h-1zm4 0h1v1.74h-1zm8 0h1v1.74h-1zm83 0h1v1.74h-1zm-98 2.34h1v1.74h-1zm2 0h1v1.74h-1zm11 0h1v1.74h-1zm84 0h1v1.74h-1zm-98 2.34h1v1.74h-1zm2 0h1v1.74h-1zm3 0h1v1.74h-1zm59 0h1v1.74h-1zm33 0h1v1.74h-1zm-98 2.34h1v1.74h-1zm2 0h1v1.74h-1zm2 0h1v1.74h-1zm62 0h1v1.74h-1zm31 0h1v1.74h-1zm-98 2.34h1v1.74h-1zm2 0h1v1.74h-1zm1 0h1v1.74h-1zm8 0h1v1.74h-1zm57 0h1v1.74h-1zm29 0h1v1.74h-1zm-98 2.34h1v1.74h-1zm2 0h1v1.74h-1zm8 0h1v1.74h-1zm87 0h1v1.74h-1zm-98 2.34h1v1.74h-1zm9 0h1v1.74h-1zm88 0h1v1.74h-1zm6 0h1v1.74h-1zm-104 2.34h1v1.74h-1zm79 0h1v1.74h-1zm18 0h1v1.74h-1zm6 0h1v1.74h-1zm-104 2.34h1v1.74h-1zm81 0h1v1.74h-1zm16 0h1v1.74h-1zm6 0h1v1.74h-1zm-104 2.34h1v1.74h-1zm1 0h1v1.74h-1zm6 0h1v1.74h-1zm76 0h1v1.74h-1zm14 0h1v1.74h-1zm-98 2.34h1v1.74h-1zm4 0h1v1.74h-1zm2 0h1v1.74h-1zm79 0h1v1.74h-1zm12 0h1v1.74h-1zm-98 2.34h1v1.74h-1zm2 0h1v1.74h-1zm2 0h1v1.74h-1zm83 0h1v1.74h-1zm10 0h1v1.74h-1zm-108 2.34h1v1.74h-1zm10 0h1v1.74h-1zm1 0h1v1.74h-1zm2 0h1v1.74h-1zm94 0h1v1.74h-1zm1 0h1v1.74h-1zm-109 2.34h1v1.74h-1zm10 0h1v1.74h-1zm2 0h1v1.74h-1zm95 0h1v1.74h-1zm1 0h1v1.74h-1zm-109 2.34h1v1.74h-1zm2 0h1v1.74h-1zm8 0h1v1.74h-1zm2 0h1v1.74h-1zm95 0h1v1.74h-1zm1 0h1v1.74h-1zm-107 2.34h1v1.74h-1zm8 0h1v1.74h-1zm2 0h1v1.74h-1zm95 0h1v1.74h-1zm-98 2.34h1v1.74h-1zm2 0h1v1.74h-1zm-3 2.34h1v1.74h-1zm2 0h1v1.74h-1zm-3 2.34h1v1.74h-1zm2 0h1v1.74h-1z"/>
<path fill="#939393" d="M243 13.50h1v1.74h-1zm4 0h1v1.74h-1zm9 0h1v1.74h-1zm-15 2.34h1v1.74h-1zm4 0h1v1.74h-1zm8 0h1v1.74h-1zm-14 2.34h1v1.74h-1zm16 0h1v1.74h-1zm-13 2.34h1v1.74h-1zm15 0h1v1.74h-1zm4 0h1v1.74h-1zm-61 2.34h1v1.74h-1zm36 0h1v1.74h-1zm4 0h1v1.74h-1zm23 0h1v1.74h-1zm-64 2.34h1v1.74h-1zm35 0h1v1.74h-1zm4 0h1v1.74h-1zm27 0h1v1.74h-1zm-33 2.34h1v1.74h-1zm30 0h1v1.74h-1zm-27 2.34h1v1.74h-1zm29 0h1v1.74h-1zm4 0h1v1.74h-1zm-44 2.34h1v1.74h-1zm5 0h1v1.74h-1zm4 0h1v1.74h-1zm33 0h1v1.74h-1zm4 0h1v1.74h-1zm-77 2.34h1v1.74h-1zm32 0h1v1.74h-1zm2 0h1v1.74h-1zm4 0h1v1.74h-1zm41 0h1v1.74h-1zm-80 2.34h1v1.74h-1zm77 0h1v1.74h-1zm-40 2.34h1v1.74h-1zm42 0h1v1.74h-1zm4 0h1v1.74h-1zm-2 2.34h1v1.74h-1zm4 0h1v1.74h-1zm-57 2.34h1v1.74h-1zm59 0h1v1.74h-1zm-61 2.34h1v1.74h-1zm58 0h1v1.74h-1zm-55 2.34h1v1.74h-1zm57 0h1v1.74h-1zm-63 2.34h1v1.74h-1zm4 0h1v1.74h-1zm61 0h1v1.74h-1zm-67 2.34h1v1.74h-1zm4 0h1v1.74h-1zm-6 2.34h1v1.74h-1zm3 2.34h1v1.74h-1zm-6 2.34h1v1.74h-1zm4 0h1v1.74h-1zm27 0h1v1.74h-1zm-33 2.34h1v1.74h-1zm4 0h1v1.74h-1zm30 0h1v1.74h-1zm-36 2.34h1v1.74h-1zm37 0h1v1.74h-1zm-34 2.34h1v1.74h-1zm31 0h1v1.74h-1zm4 0h1v1.74h-1zm-41 2.34h1v1.74h-1zm4 0h1v1.74h-1zm34 0h1v1.74h-1zm4 0h1v1.74h-1zm-44 2.34h1v1.74h-1zm4 0h1v1.74h-1zm37 0h1v1.74h-1zm4 0h1v1.74h-1zm-47 2.34h1v1.74h-1zm44 0h1v1.74h-1zm4 0h1v1.74h-1zm-45 2.34h1v1.74h-1zm42 0h1v1.74h-1zm-48 2.34h1v1.74h-1zm4 0h1v1.74h-1zm45 0h1v1.74h-1zm-51 2.34h1v1.74h-1zm4 0h1v1.74h-1zm48 0h1v1.74h-1zm-54 2.34h1v1.74h-1zm55 0h1v1.74h-1zm-52 2.34h1v1.74h-1zm-2 2.34h1v1.74h-1zm-6 2.34h1v1.74h-1zm4 0h1v1.74h-1zm-6 2.34h1v1.74h-1zm-2 2.34h1v1.74h-1zm-1 2.34h1v1.74h-1zm4 0h1v1.74h-1zm-6 2.34h1v1.74h-1zm2 0h1v1.74h-1zm2 0h1v1.74h-1zm-17 2.34h1v1.74h-1zm13 0h1v1.74h-1zm2 0h1v1.74h-1zm-16 2.34h1v1.74h-1zm12 0h1v1.74h-1zm-13 2.34h1v1.74h-1zm98 2.34h1v1.74h-1zm-98 2.34h1v1.74h-1zm104 4.68h1v1.74h-1zm-2 2.34h1v1.74h-1zm1 0h1v1.74h-1zm-3 4.68h1v1.74h-1zm5 0h1v1.74h-1z"/>
<path fill="#9b9b9b" d="M245 13.50h1v1.74h-1zm7 0h1v1.74h-1zm2 0h1v1.74h-1zm-11 2.34h1v1.74h-1zm12 0h1v1.74h-1zm2 0h1v1.74h-1zm-16 2.34h1v1.74h-1zm2 0h1v1.74h-1zm14 0h1v1.74h-1zm2 0h1v1.74h-1zm-21 2.34h1v1.74h-1zm2 0h1v1.74h-1zm19 0h1v1.74h-1zm-21 2.34h1v1.74h-1zm21 0h1v1.74h-1zm2 0h1v1.74h-1zm-25 2.34h1v1.74h-1zm25 0h1v1.74h-1zm2 0h1v1.74h-1zm-65 2.34h1v1.74h-1zm36 0h1v1.74h-1zm2 0h1v1.74h-1zm28 0h1v1.74h-1zm2 0h1v1.74h-1zm-35 2.34h1v1.74h-1zm2 0h1v1.74h-1zm33 0h1v1.74h-1zm-35 2.34h1v1.74h-1zm37 0h1v1.74h-1zm-39 2.34h1v1.74h-1zm39 0h1v1.74h-1zm2 0h1v1.74h-1zm-43 2.34h1v1.74h-1zm2 0h1v1.74h-1zm42 0h1v1.74h-1zm2 0h1v1.74h-1zm-46 2.34h1v1.74h-1zm46 0h1v1.74h-1zm-45 2.34h1v1.74h-1zm2 0h1v1.74h-1zm45 0h1v1.74h-1zm-53 2.34h1v1.74h-1zm7 0h1v1.74h-1zm2 0h1v1.74h-1zm44 0h1v1.74h-1zm2 0h1v1.74h-1zm-57 2.34h1v1.74h-1zm2 0h1v1.74h-1zm56 0h1v1.74h-1zm2 0h1v1.74h-1zm-63 2.34h1v1.74h-1zm2 0h1v1.74h-1zm61 0h1v1.74h-1zm-63 2.34h1v1.74h-1zm-2 2.34h1v1.74h-1zm-2 2.34h1v1.74h-1zm2 0h1v1.74h-1zm18 0h1v1.74h-1zm-23 2.34h1v1.74h-1zm2 0h1v1.74h-1zm22 0h1v1.74h-1zm-24 2.34h1v1.74h-1zm25 0h1v1.74h-1zm-27 2.34h1v1.74h-1zm28 0h1v1.74h-1zm-30 2.34h1v1.74h-1zm2 0h1v1.74h-1zm29 0h1v1.74h-1zm-34 2.34h1v1.74h-1zm2 0h1v1.74h-1zm-2 2.34h1v1.74h-1zm-2 2.34h1v1.74h-1zm-2 2.34h1v1.74h-1zm2 0h1v1.74h-1zm-5 2.34h1v1.74h-1zm2 0h1v1.74h-1zm48 0h1v1.74h-1zm-50 2.34h1v1.74h-1zm51 0h1v1.74h-1zm-73 2.34h1v1.74h-1zm20 0h1v1.74h-1zm54 0h1v1.74h-1zm-75 2.34h1v1.74h-1zm19 0h1v1.74h-1zm2 0h1v1.74h-1zm55 0h1v1.74h-1zm-77 2.34h1v1.74h-1zm17 0h1v1.74h-1zm2 0h1v1.74h-1zm59 0h1v1.74h-1zm31 0h1v1.74h-1zm-110 2.34h1v1.74h-1zm16 0h1v1.74h-1zm2 0h1v1.74h-1zm62 0h1v1.74h-1zm29 0h1v1.74h-1zm-110 2.34h1v1.74h-1zm17 0h1v1.74h-1zm65 0h1v1.74h-1zm27 0h1v1.74h-1zm-110 2.34h1v1.74h-1zm16 0h1v1.74h-1zm2 0h1v1.74h-1zm66 0h1v1.74h-1zm25 0h1v1.74h-1zm-110 2.34h1v1.74h-1zm15 0h1v1.74h-1zm2 0h1v1.74h-1zm69 0h1v1.74h-1zm23 0h1v1.74h-1zm-110 2.34h1v1.74h-1zm15 0h1v1.74h-1zm70 0h1v1.74h-1zm24 0h1v1.74h-1zm-110 2.34h1v1.74h-1zm87 0h1v1.74h-1zm22 0h1v1.74h-1zm-21 2.34h1v1.74h-1zm1 2.34h1v1.74h-1zm21 0h1v1.74h-1zm-111 2.34h1v1.74h-1zm91 0h1v1.74h-1zm19 0h1v1.74h-1zm-111 2.34h1v1.74h-1zm93 0h1v1.74h-1zm17 0h1v1.74h-1zm-16 2.34h1v1.74h-1zm15 0h1v1.74h-1zm-14 2.34h1v1.74h-1zm13 0h1v1.74h-1zm-1 2.34h1v1.74h-1zm-1 2.34h1v1.74h-1zm-1 2.34h1v1.74h-1z"/>
<path fill="#a4a4a4" d="M197 29.89h1v1.74h-1zm-1 2.34h1v1.74h-1zm35 14.05h1v1.74h-1zm1 2.34h1v1.74h-1zm1 2.34h1v1.74h-1zm-47 2.34h1v1.74h-1zm48 0h1v1.74h-1zm-49 2.34h1v1.74h-1zm50 0h1v1.74h-1zm-51 2.34h1v1.74h-1zm52 0h1v1.74h-1zm-53 2.34h1v1.74h-1zm54 0h1v1.74h-1zm-55 2.34h1v1.74h-1zm56 0h1v1.74h-1zm-57 2.34h1v1.74h-1zm58 0h1v1.74h-1zm-59 2.34h1v1.74h-1zm60 0h1v1.74h-1zm-61 2.34h1v1.74h-1zm62 0h1v1.74h-1zm-63 2.34h1v1.74h-1zm64 0h1v1.74h-1zm-65 2.34h1v1.74h-1zm66 0h1v1.74h-1zm-67 2.34h1v1.74h-1zm68 0h1v1.74h-1zm-69 2.34h1v1.74h-1zm70 0h1v1.74h-1zm1 2.34h1v1.74h-1zm1 2.34h1v1.74h-1zm1 2.34h1v1.74h-1zm1 2.34h1v1.74h-1zm1 2.34h1v1.74h-1zm31 0h1v1.74h-1zm-30 2.34h1v1.74h-1zm29 0h1v1.74h-1zm-28 2.34h1v1.74h-1zm27 0h1v1.74h-1zm-25 2.34h1v1.74h-1zm24 0h1v1.74h-1zm-23 2.34h1v1.74h-1zm22 0h1v1.74h-1zm-21 2.34h1v1.74h-1zm19 0h1v1.74h-1zm2 0h1v1.74h-1zm-111 2.34h1v1.74h-1zm91 0h1v1.74h-1zm17 0h1v1.74h-1zm-16 2.34h1v1.74h-1zm15 0h1v1.74h-1zm-14 2.34h1v1.74h-1zm13 0h1v1.74h-1zm-12 2.34h1v1.74h-1zm11 0h1v1.74h-1zm-1 2.34h1v1.74h-1zm-1 2.34h1v1.74h-1zm-1 2.34h1v1.74h-1zm-4 2.34h1v1.74h-1zm3 0h1v1.74h-1zm-2 2.34h1v1.74h-1z"/>
<path fill="#adadad" d="M222 29.89h1v1.74h-1zm1 2.34h1v1.74h-1zm-28 2.34h1v1.74h-1zm24 0h1v1.74h-1zm-25 2.34h1v1.74h-1zm26 0h1v1.74h-1zm-27 2.34h1v1.74h-1zm28 0h1v1.74h-1zm-29 2.34h1v1.74h-1zm-1 2.34h1v1.74h-1zm-1 2.34h1v1.74h-1zm-1 2.34h1v1.74h-1zm-1 2.34h1v1.74h-1zm0 2.34h1v1.74h-1zm-1 2.34h1v1.74h-1zm-1 2.34h1v1.74h-1zm-1 2.34h1v1.74h-1zm-1 2.34h1v1.74h-1zm-1 2.34h1v1.74h-1zm-1 2.34h1v1.74h-1zm-1 2.34h1v1.74h-1zm1 0h1v1.74h-1zm-2 2.34h1v1.74h-1zm1 0h1v1.74h-1zm-2 2.34h1v1.74h-1zm1 0h1v1.74h-1zm-2 2.34h1v1.74h-1zm6 0h1v1.74h-1zm-7 2.34h1v1.74h-1zm6 0h1v1.74h-1zm-7 2.34h1v1.74h-1zm-1 2.34h1v1.74h-1zm-1 2.34h1v1.74h-1zm-1 2.34h1v1.74h-1zm-1 2.34h1v1.74h-1zm-1 2.34h1v1.74h-1zm-1 2.34h1v1.74h-1zm-1 2.34h1v1.74h-1zm-1 2.34h1v1.74h-1zm-1 2.34h1v1.74h-1zm93 14.05h1v1.74h-1zm2 7.03h1v1.74h-1z"/>
<path fill="#b6b6b6" d="M217 18.18h1v1.74h-1zm1 2.34h1v1.74h-1zm1 2.34h1v1.74h-1zm1 2.34h1v1.74h-1zm1 2.34h1v1.74h-1zm1 14.05h1v1.74h-1zm1 2.34h1v1.74h-1zm1 2.34h1v1.74h-1zm1 2.34h1v1.74h-1zm-39 11.71h1v1.74h-1zm-1 2.34h1v1.74h-1zm-1 2.34h1v1.74h-1zm-1 2.34h1v1.74h-1zm-1 14.05h1v1.74h-1zm-1 2.34h1v1.74h-1zm-1 2.34h1v1.74h-1zm-1 2.34h1v1.74h-1zm-1 2.34h1v1.74h-1zm86 16.39h1v1.74h-1zm-1 2.34h1v1.74h-1zm-7 2.34h1v1.74h-1zm6 0h1v1.74h-1zm-5 2.34h1v1.74h-1zm4 0h1v1.74h-1zm-3 2.34h1v1.74h-1zm1 2.34h1v1.74h-1z"/>
<path fill="#bfbfbf" d="M215 13.50h1v1.74h-1zm1 2.34h1v1.74h-1zm-24 30.44h1v1.74h-1zm-1 2.34h1v1.74h-1zm-1 2.34h1v1.74h-1zm36 0h1v1.74h-1zm-37 2.34h1v1.74h-1zm38 0h1v1.74h-1zm-39 2.34h1v1.74h-1zm40 0h1v1.74h-1zm-41 2.34h1v1.74h-1zm42 0h1v1.74h-1zm1 2.34h1v1.74h-1zm1 2.34h1v1.74h-1zm-54 30.44h1v1.74h-1zm93 0h1v1.74h-1zm-94 2.34h1v1.74h-1zm93 0h1v1.74h-1zm-94 2.34h1v1.74h-1zm93 0h1v1.74h-1zm-94 2.34h1v1.74h-1zm77 0h1v1.74h-1zm16 0h1v1.74h-1zm-94 2.34h1v1.74h-1zm79 0h1v1.74h-1zm14 0h1v1.74h-1zm-13 2.34h1v1.74h-1zm12 0h1v1.74h-1zm-11 2.34h1v1.74h-1zm1 2.34h1v1.74h-1z"/>
<path fill="#c7c7c7" d="M210 13.50h1v1.74h-1zm-1 2.34h1v1.74h-1zm-1 2.34h1v1.74h-1zm-1 2.34h1v1.74h-1zm-1 2.34h1v1.74h-1zm-8 9.37h1v1.74h-1zm-1 2.34h1v1.74h-1zm-1 2.34h1v1.74h-1zm-1 2.34h1v1.74h-1zm-1 2.34h1v1.74h-1zm-1 2.34h1v1.74h-1zm39 21.07h1v1.74h-1zm1 2.34h1v1.74h-1zm1 2.34h1v1.74h-1zm1 2.34h1v1.74h-1zm1 2.34h1v1.74h-1zm1 2.34h1v1.74h-1zm39 2.34h1v1.74h-1zm-1 2.34h1v1.74h-1zm-1 2.34h1v1.74h-1zm-29 2.34h1v1.74h-1zm28 0h1v1.74h-1zm-27 2.34h1v1.74h-1zm26 0h1v1.74h-1zm-25 2.34h1v1.74h-1zm24 0h1v1.74h-1zm-23 2.34h1v1.74h-1zm1 2.34h1v1.74h-1zm1 2.34h1v1.74h-1zm-78 7.03h1v1.74h-1zm-1 2.34h1v1.74h-1zm-1 2.34h1v1.74h-1zm-1 2.34h1v1.74h-1zm-1 2.34h1v1.74h-1zm-1 2.34h1v1.74h-1z"/>
<path fill="#d0d0d0" d="M206 13.50h1v1.74h-1zm-1 2.34h1v1.74h-1zm-1 2.34h1v1.74h-1zm-1 2.34h1v1.74h-1zm-1 2.34h1v1.74h-1zm-1 2.34h1v1.74h-1zm4 0h1v1.74h-1zm-5 2.34h1v1.74h-1zm4 0h1v1.74h-1zm-5 2.34h1v1.74h-1zm4 0h1v1.74h-1zm-1 2.34h1v1.74h-1zm-1 2.34h1v1.74h-1zm-1 2.34h1v1.74h-1zm-1 2.34h1v1.74h-1zm-1 2.34h1v1.74h-1zm-1 2.34h1v1.74h-1zm39 21.07h1v1.74h-1zm1 2.34h1v1.74h-1zm44 0h1v1.74h-1zm-43 2.34h1v1.74h-1zm42 0h1v1.74h-1zm-41 2.34h1v1.74h-1zm40 0h1v1.74h-1zm-39 2.34h1v1.74h-1zm38 0h1v1.74h-1zm-37 2.34h1v1.74h-1zm36 0h1v1.74h-1zm4 0h1v1.74h-1zm-43 2.34h1v1.74h-1zm4 0h1v1.74h-1zm38 0h1v1.74h-1zm-41 2.34h1v1.74h-1zm4 0h1v1.74h-1zm36 0h1v1.74h-1zm-39 2.34h1v1.74h-1zm4 0h1v1.74h-1zm34 0h1v1.74h-1zm-37 2.34h1v1.74h-1zm36 0h1v1.74h-1zm-35 2.34h1v1.74h-1zm34 0h1v1.74h-1zm-33 2.34h1v1.74h-1zm32 0h1v1.74h-1zm-31 2.34h1v1.74h-1zm1 2.34h1v1.74h-1zm-78 11.71h1v1.74h-1zm-1 2.34h1v1.74h-1zm-1 2.34h1v1.74h-1zm-1 2.34h1v1.74h-1zm-1 2.34h1v1.74h-1zm-1 2.34h1v1.74h-1zm4 0h1v1.74h-1zm-5 2.34h1v1.74h-1zm4 0h1v1.74h-1zm-5 2.34h1v1.74h-1zm4 0h1v1.74h-1z"/>
<path fill="#d9d9d9" d="M208 13.50h1v1.74h-1zm3 0h1v1.74h-1zm2 0h1v1.74h-1zm-6 2.34h1v1.74h-1zm5 0h1v1.74h-1zm2 0h1v1.74h-1zm-8 2.34h1v1.74h-1zm7 0h1v1.74h-1zm2 0h1v1.74h-1zm-10 2.34h1v1.74h-1zm9 0h1v1.74h-1zm2 0h1v1.74h-1zm-12 2.34h1v1.74h-1zm11 0h1v1.74h-1zm2 0h1v1.74h-1zm-14 2.34h1v1.74h-1zm13 0h1v1.74h-1zm2 0h1v1.74h-1zm-16 2.34h1v1.74h-1zm15 0h1v1.74h-1zm2 0h1v1.74h-1zm-18 2.34h1v1.74h-1zm17 0h1v1.74h-1zm2 0h1v1.74h-1zm-20 2.34h1v1.74h-1zm19 0h1v1.74h-1zm2 0h1v1.74h-1zm-22 2.34h1v1.74h-1zm22 0h1v1.74h-1zm2 0h1v1.74h-1zm-25 2.34h1v1.74h-1zm24 0h1v1.74h-1zm2 0h1v1.74h-1zm-27 2.34h1v1.74h-1zm26 0h1v1.74h-1zm2 0h1v1.74h-1zm-29 2.34h1v1.74h-1zm28 0h1v1.74h-1zm2 0h1v1.74h-1zm-31 2.34h1v1.74h-1zm30 0h1v1.74h-1zm2 0h1v1.74h-1zm-33 2.34h1v1.74h-1zm2 0h1v1.74h-1zm30 0h1v1.74h-1zm2 0h1v1.74h-1zm-35 2.34h1v1.74h-1zm2 0h1v1.74h-1zm32 0h1v1.74h-1zm2 0h1v1.74h-1zm-37 2.34h1v1.74h-1zm2 0h1v1.74h-1zm34 0h1v1.74h-1zm2 0h1v1.74h-1zm-39 2.34h1v1.74h-1zm2 0h1v1.74h-1zm36 0h1v1.74h-1zm2 0h1v1.74h-1zm-41 2.34h1v1.74h-1zm2 0h1v1.74h-1zm38 0h1v1.74h-1zm2 0h1v1.74h-1zm-43 2.34h1v1.74h-1zm2 0h1v1.74h-1zm40 0h1v1.74h-1zm2 0h1v1.74h-1zm-45 2.34h1v1.74h-1zm2 0h1v1.74h-1zm42 0h1v1.74h-1zm2 0h1v1.74h-1zm-47 2.34h1v1.74h-1zm2 0h1v1.74h-1zm44 0h1v1.74h-1zm2 0h1v1.74h-1zm-49 2.34h1v1.74h-1zm2 0h1v1.74h-1zm46 0h1v1.74h-1zm-49 2.34h1v1.74h-1zm2 0h1v1.74h-1zm48 0h1v1.74h-1zm-51 2.34h1v1.74h-1zm2 0h1v1.74h-1zm50 0h1v1.74h-1zm-53 2.34h1v1.74h-1zm2 0h1v1.74h-1zm52 0h1v1.74h-1zm44 0h1v1.74h-1zm-99 2.34h1v1.74h-1zm2 0h1v1.74h-1zm54 0h1v1.74h-1zm42 0h1v1.74h-1zm-100 2.34h1v1.74h-1zm2 0h1v1.74h-1zm57 0h1v1.74h-1zm40 0h1v1.74h-1zm-100 2.34h1v1.74h-1zm2 0h1v1.74h-1zm59 0h1v1.74h-1zm38 0h1v1.74h-1zm-100 2.34h1v1.74h-1zm2 0h1v1.74h-1zm61 0h1v1.74h-1zm36 0h1v1.74h-1zm-100 2.34h1v1.74h-1zm2 0h1v1.74h-1zm63 0h1v1.74h-1zm34 0h1v1.74h-1zm-100 2.34h1v1.74h-1zm2 0h1v1.74h-1zm65 0h1v1.74h-1zm32 0h1v1.74h-1zm-100 2.34h1v1.74h-1zm2 0h1v1.74h-1zm67 0h1v1.74h-1zm30 0h1v1.74h-1zm-100 2.34h1v1.74h-1zm2 0h1v1.74h-1zm69 0h1v1.74h-1zm28 0h1v1.74h-1zm-100 2.34h1v1.74h-1zm2 0h1v1.74h-1zm71 0h1v1.74h-1zm26 0h1v1.74h-1zm2 0h1v1.74h-1zm-102 2.34h1v1.74h-1zm2 0h1v1.74h-1zm73 0h1v1.74h-1zm24 0h1v1.74h-1zm2 0h1v1.74h-1zm-102 2.34h1v1.74h-1zm2 0h1v1.74h-1zm73 0h1v1.74h-1zm2 0h1v1.74h-1zm22 0h1v1.74h-1zm2 0h1v1.74h-1zm-102 2.34h1v1.74h-1zm2 0h1v1.74h-1zm75 0h1v1.74h-1zm2 0h1v1.74h-1zm20 0h1v1.74h-1zm2 0h1v1.74h-1zm-102 2.34h1v1.74h-1zm2 0h1v1.74h-1zm77 0h1v1.74h-1zm2 0h1v1.74h-1zm18 0h1v1.74h-1zm2 0h1v1.74h-1zm-102 2.34h1v1.74h-1zm2 0h1v1.74h-1zm79 0h1v1.74h-1zm2 0h1v1.74h-1zm16 0h1v1.74h-1zm2 0h1v1.74h-1zm-100 2.34h1v1.74h-1zm81 0h1v1.74h-1zm2 0h1v1.74h-1zm14 0h1v1.74h-1zm2 0h1v1.74h-1zm-100 2.34h1v1.74h-1zm83 0h1v1.74h-1zm2 0h1v1.74h-1zm12 0h1v1.74h-1zm2 0h1v1.74h-1zm-100 2.34h1v1.74h-1zm85 0h1v1.74h-1zm2 0h1v1.74h-1zm10 0h1v1.74h-1zm2 0h1v1.74h-1zm-100 2.34h1v1.74h-1zm87 0h1v1.74h-1zm2 0h1v1.74h-1zm8 0h1v1.74h-1zm2 0h1v1.74h-1zm-100 2.34h1v1.74h-1zm89 0h1v1.74h-1zm2 0h1v1.74h-1zm6 0h1v1.74h-1zm2 0h1v1.74h-1zm-100 2.34h1v1.74h-1zm91 0h1v1.74h-1zm2 0h1v1.74h-1zm4 0h1v1.74h-1zm2 0h1v1.74h-1zm-100 2.34h1v1.74h-1zm93 0h1v1.74h-1zm2 0h1v1.74h-1zm2 0h1v1.74h-1zm2 0h1v1.74h-1zm-100 2.34h1v1.74h-1zm95 0h1v1.74h-1zm2 0h1v1.74h-1z"/>
</g></g>
<rect x="156.3" y="124.50" width="125.00" height="1.1" fill="#6c6c6c" fill-opacity="0.8"/>
<defs><linearGradient id="cba" x1="0" y1="0" x2="0" y2="1"><stop offset="0" stop-color="#ffffff"/><stop offset="1" stop-color="#000000"/></linearGradient></defs>
<rect x="287.95" y="13.35" width="3.30" height="111.80" fill="url(#cba)" stroke="#a8a8a8" stroke-width="0.5"/>
<path stroke="#333" stroke-width="0.5" d="M290.40 27.14h1.1M290.40 41.18h1.1M290.40 55.21h1.1M290.40 69.25h1.1M290.40 83.29h1.1M290.40 97.33h1.1M290.40 111.36h1.1"/>
<text x="154.50" y="128.40" text-anchor="end" font-family="Liberation Sans, sans-serif" font-size="7.8" fill="#303030" stroke="#303030" stroke-width="0.12">0</text>
<text x="154.50" y="104.98" text-anchor="end" font-family="Liberation Sans, sans-serif" font-size="7.8" fill="#303030" stroke="#303030" stroke-width="0.12">20</text>
<text x="154.50" y="81.57" text-anchor="end" font-family="Liberation Sans, sans-serif" font-size="7.8" fill="#303030" stroke="#303030" stroke-width="0.12">40</text>
<text x="154.50" y="58.15" text-anchor="end" font-family="Liberation Sans, sans-serif" font-size="7.8" fill="#303030" stroke="#303030" stroke-width="0.12">60</text>
<text x="154.50" y="34.73" text-anchor="end" font-family="Liberation Sans, sans-serif" font-size="7.8" fill="#303030" stroke="#303030" stroke-width="0.12">80</text>
<text x="177.13" y="134.90" text-anchor="middle" font-family="Liberation Sans, sans-serif" font-size="7.8" fill="#303030" stroke="#303030" stroke-width="0.12">2</text>
<text x="197.97" y="134.90" text-anchor="middle" font-family="Liberation Sans, sans-serif" font-size="7.8" fill="#303030" stroke="#303030" stroke-width="0.12">4</text>
<text x="218.80" y="134.90" text-anchor="middle" font-family="Liberation Sans, sans-serif" font-size="7.8" fill="#303030" stroke="#303030" stroke-width="0.12">6</text>
<text x="239.63" y="134.90" text-anchor="middle" font-family="Liberation Sans, sans-serif" font-size="7.8" fill="#303030" stroke="#303030" stroke-width="0.12">8</text>
<text x="260.47" y="134.90" text-anchor="middle" font-family="Liberation Sans, sans-serif" font-size="7.8" fill="#303030" stroke="#303030" stroke-width="0.12">10</text>
<text x="281.30" y="134.90" text-anchor="middle" font-family="Liberation Sans, sans-serif" font-size="7.8" fill="#303030" stroke="#303030" stroke-width="0.12">12</text>
<text x="293.30" y="15.90" font-family="Liberation Sans, sans-serif" font-size="7.8" fill="#303030" stroke="#303030" stroke-width="0.12">8</text>
<text x="293.30" y="29.94" font-family="Liberation Sans, sans-serif" font-size="7.8" fill="#303030" stroke="#303030" stroke-width="0.12">6</text>
<text x="293.30" y="43.98" font-family="Liberation Sans, sans-serif" font-size="7.8" fill="#303030" stroke="#303030" stroke-width="0.12">4</text>
<text x="293.30" y="58.01" font-family="Liberation Sans, sans-serif" font-size="7.8" fill="#303030" stroke="#303030" stroke-width="0.12">2</text>
<text x="293.30" y="72.05" font-family="Liberation Sans, sans-serif" font-size="7.8" fill="#303030" stroke="#303030" stroke-width="0.12">0</text>
<text x="293.30" y="86.09" font-family="Liberation Sans, sans-serif" font-size="7.8" fill="#303030" stroke="#303030" stroke-width="0.12">-2</text>
<text x="293.30" y="100.12" font-family="Liberation Sans, sans-serif" font-size="7.8" fill="#303030" stroke="#303030" stroke-width="0.12">-4</text>
<text x="293.30" y="114.16" font-family="Liberation Sans, sans-serif" font-size="7.8" fill="#303030" stroke="#303030" stroke-width="0.12">-6</text>
<text x="293.30" y="128.20" font-family="Liberation Sans, sans-serif" font-size="7.8" fill="#303030" stroke="#303030" stroke-width="0.12">-8</text>
<text x="218.80" y="144.30" text-anchor="middle" font-family="Liberation Sans, sans-serif" font-size="8" fill="#303030" stroke="#303030" stroke-width="0.12">Time(s)</text>
<text transform="translate(142.50,68.60) rotate(-90)" text-anchor="middle" font-family="Liberation Sans, sans-serif" font-size="8.25" fill="#303030" stroke="#303030" stroke-width="0.12">Location(inch)</text>
<text x="291.90" y="10.70" font-family="Liberation Sans, sans-serif" font-size="8" fill="#303030" stroke="#303030" stroke-width="0.12">×10<tspan font-size="5.5" dy="-4.1">-3</tspan></text>
<text x="262.80" y="147.00" font-family="Liberation Sans, sans-serif" font-size="8" fill="#303030" stroke="#303030" stroke-width="0.12">×10<tspan font-size="5.5" dy="-4.1">-4</tspan></text>
<text x="221.90" y="170.80" text-anchor="middle" font-family="Liberation Serif, serif" font-weight="bold" font-size="13.5" fill="#111">(a)</text>
<rect x="154.5" y="190.1" width="129.90" height="116.20" fill="#818181"/>
<defs><clipPath id="cpb"><rect x="154.5" y="190.1" width="129.90" height="116.20"/></clipPath>
<filter id="blb" x="152.5" y="188.1" width="133.90" height="120.20" filterUnits="userSpaceOnUse" color-interpolation-filters="sRGB"><feConvolveMatrix order="3" kernelMatrix="0 0 0 0 1 0 0 0 0" divisor="1" edgeMode="none"/></filter>
</defs>
<g clip-path="url(#cpb)">
<g filter="url(#blb)">
<path fill="#202020" d="M207 190.40h1v1.82h-1zm-2 4.84h1v1.82h-1zm1 2.42h1v1.82h-1zm11 4.84h1v1.82h-1zm2 4.84h1v1.82h-1zm-19 4.84h1v1.82h-1zm-1 2.42h1v1.82h-1zm24 2.42h1v1.82h-1zm-26 2.42h1v1.82h-1zm29 0h1v1.82h-1zm-33 9.68h1v1.82h-1zm36 2.42h1v1.82h-1zm2 4.84h1v1.82h-1zm2 0h1v1.82h-1zm-1 2.42h1v1.82h-1zm-46 2.42h1v1.82h-1zm0 4.84h1v1.82h-1zm-1 2.42h1v1.82h-1zm-1 2.42h1v1.82h-1zm54 2.42h1v1.82h-1zm43 2.42h1v1.82h-1zm-104 7.26h1v1.82h-1zm103 0h1v1.82h-1zm-104 2.42h1v1.82h-1zm103 0h1v1.82h-1zm-104 2.42h1v1.82h-1zm2 0h1v1.82h-1zm99 4.84h1v1.82h-1zm-3 2.42h1v1.82h-1zm-1 2.42h1v1.82h-1zm-101 4.84h1v1.82h-1zm-3 2.42h1v1.82h-1zm84 0h1v1.82h-1zm2 0h1v1.82h-1zm-85 2.42h1v1.82h-1zm-1 2.42h1v1.82h-1zm87 2.42h1v1.82h-1zm2 0h1v1.82h-1zm9 4.84h1v1.82h-1zm-105 2.42h1v1.82h-1zm102 0h1v1.82h-1zm-101 2.42h1v1.82h-1zm99 0h1v1.82h-1z"/>
<path fill="#292929" d="M209 190.40h1v1.82h-1zm5 0h1v1.82h-1zm-8 2.42h1v1.82h-1zm9 0h1v1.82h-1zm-8 2.42h1v1.82h-1zm7 0h1v1.82h-1zm-10 2.42h1v1.82h-1zm11 0h1v1.82h-1zm2 0h1v1.82h-1zm-14 2.42h1v1.82h-1zm13 0h1v1.82h-1zm2 0h1v1.82h-1zm-16 2.42h1v1.82h-1zm2 0h1v1.82h-1zm15 0h1v1.82h-1zm-18 2.42h1v1.82h-1zm2 0h1v1.82h-1zm15 0h1v1.82h-1zm2 0h1v1.82h-1zm-20 2.42h1v1.82h-1zm21 0h1v1.82h-1zm-22 2.42h1v1.82h-1zm2 0h1v1.82h-1zm19 0h1v1.82h-1zm-22 2.42h1v1.82h-1zm23 0h1v1.82h-1zm2 0h1v1.82h-1zm-26 2.42h1v1.82h-1zm25 0h1v1.82h-1zm2 0h1v1.82h-1zm-28 2.42h1v1.82h-1zm2 0h1v1.82h-1zm27 0h1v1.82h-1zm-1 2.42h1v1.82h-1zm-30 2.42h1v1.82h-1zm2 0h1v1.82h-1zm29 0h1v1.82h-1zm2 0h1v1.82h-1zm-34 2.42h1v1.82h-1zm2 0h1v1.82h-1zm31 0h1v1.82h-1zm2 0h1v1.82h-1zm-36 2.42h1v1.82h-1zm2 0h1v1.82h-1zm33 0h1v1.82h-1zm2 0h1v1.82h-1zm-38 2.42h1v1.82h-1zm37 0h1v1.82h-1zm2 0h1v1.82h-1zm-40 2.42h1v1.82h-1zm2 0h1v1.82h-1zm39 0h1v1.82h-1zm-42 2.42h1v1.82h-1zm2 0h1v1.82h-1zm39 0h1v1.82h-1zm2 0h1v1.82h-1zm-44 2.42h1v1.82h-1zm2 0h1v1.82h-1zm-3 2.42h1v1.82h-1zm2 0h1v1.82h-1zm45 0h1v1.82h-1zm-46 2.42h1v1.82h-1zm47 0h1v1.82h-1zm-50 2.42h1v1.82h-1zm2 0h1v1.82h-1zm47 0h1v1.82h-1zm-50 2.42h1v1.82h-1zm51 0h1v1.82h-1zm2 0h1v1.82h-1zm-54 2.42h1v1.82h-1zm55 0h1v1.82h-1zm46 0h1v1.82h-1zm-102 2.42h1v1.82h-1zm55 0h1v1.82h-1zm2 0h1v1.82h-1zm44 0h1v1.82h-1zm-102 2.42h1v1.82h-1zm2 0h1v1.82h-1zm57 0h1v1.82h-1zm42 0h1v1.82h-1zm2 0h1v1.82h-1zm-104 2.42h1v1.82h-1zm2 0h1v1.82h-1zm58 0h1v1.82h-1zm2 0h1v1.82h-1zm41 0h1v1.82h-1zm-104 2.42h1v1.82h-1zm2 0h1v1.82h-1zm101 0h1v1.82h-1zm-104 2.42h1v1.82h-1zm101 0h1v1.82h-1zm2 0h1v1.82h-1zm-102 2.42h1v1.82h-1zm99 0h1v1.82h-1zm-100 2.42h1v1.82h-1zm66 0h1v1.82h-1zm2 0h1v1.82h-1zm31 0h1v1.82h-1zm-32 2.42h1v1.82h-1zm31 0h1v1.82h-1zm2 0h1v1.82h-1zm-104 2.42h1v1.82h-1zm2 0h1v1.82h-1zm70 0h1v1.82h-1zm2 0h1v1.82h-1zm27 0h1v1.82h-1zm2 0h1v1.82h-1zm-104 2.42h1v1.82h-1zm74 0h1v1.82h-1zm2 0h1v1.82h-1zm25 0h1v1.82h-1zm-102 2.42h1v1.82h-1zm2 0h1v1.82h-1zm74 0h1v1.82h-1zm2 0h1v1.82h-1zm25 0h1v1.82h-1zm-104 2.42h1v1.82h-1zm78 0h1v1.82h-1zm2 0h1v1.82h-1zm-81 2.42h1v1.82h-1zm2 0h1v1.82h-1zm78 0h1v1.82h-1zm2 0h1v1.82h-1zm19 0h1v1.82h-1zm2 0h1v1.82h-1zm-104 2.42h1v1.82h-1zm82 0h1v1.82h-1zm19 0h1v1.82h-1zm2 0h1v1.82h-1zm-102 2.42h1v1.82h-1zm99 0h1v1.82h-1zm2 0h1v1.82h-1zm-104 2.42h1v1.82h-1zm86 0h1v1.82h-1zm2 0h1v1.82h-1zm15 0h1v1.82h-1zm-104 2.42h1v1.82h-1zm88 0h1v1.82h-1zm2 0h1v1.82h-1zm11 0h1v1.82h-1zm2 0h1v1.82h-1zm-102 2.42h1v1.82h-1zm99 0h1v1.82h-1zm2 0h1v1.82h-1zm-104 2.42h1v1.82h-1zm2 0h1v1.82h-1zm90 0h1v1.82h-1zm9 0h1v1.82h-1zm2 0h1v1.82h-1zm-104 2.42h1v1.82h-1zm2 0h1v1.82h-1zm92 0h1v1.82h-1zm7 0h1v1.82h-1zm-101 2.42h1v1.82h-1zm95 0h1v1.82h-1zm2 0h1v1.82h-1zm-100 2.42h1v1.82h-1zm104 0h1v1.82h-1zm-105 2.42h1v1.82h-1zm2 0h1v1.82h-1zm99 0h1v1.82h-1zm2 0h1v1.82h-1z"/>
<path fill="#323232" d="M212 190.40h1v1.82h-1zm-4 2.42h1v1.82h-1zm5 0h1v1.82h-1zm3 2.42h1v1.82h-1zm-11 4.84h1v1.82h-1zm-3 7.26h1v1.82h-1zm20 2.42h1v1.82h-1zm-27 9.68h1v1.82h-1zm38 21.79h1v1.82h-1zm3 2.42h1v1.82h-1zm0 4.84h1v1.82h-1zm5 9.68h1v1.82h-1zm2 0h1v1.82h-1zm37 0h1v1.82h-1zm-100 2.42h1v1.82h-1zm62 0h1v1.82h-1zm2 0h1v1.82h-1zm-1 2.42h1v1.82h-1zm2 0h1v1.82h-1zm2 4.84h1v1.82h-1zm-72 4.84h1v1.82h-1zm-2 4.84h1v1.82h-1zm101 0h1v1.82h-1zm-21 4.84h1v1.82h-1zm15 4.84h1v1.82h-1zm-103 4.84h1v1.82h-1zm93 2.42h1v1.82h-1zm1 2.42h1v1.82h-1zm6 2.42h1v1.82h-1zm-6 2.42h1v1.82h-1zm3 0h1v1.82h-1zm1 2.42h1v1.82h-1z"/>
<path fill="#434343" d="M161 296.92h1v1.82h-1z"/>
<path fill="#4c4c4c" d="M190 221.87h1v1.82h-1zm-2 9.68h1v1.82h-1zm46 2.42h1v1.82h-1zm-50 2.42h1v1.82h-1zm-2 4.84h1v1.82h-1zm56 2.42h1v1.82h-1zm1 2.42h1v1.82h-1zm1 2.42h1v1.82h-1zm2 4.84h1v1.82h-1zm-3 4.84h1v1.82h-1zm-68 9.68h1v1.82h-1zm0 4.84h1v1.82h-1zm74 0h1v1.82h-1zm-79 7.26h1v1.82h-1zm2 0h1v1.82h-1zm80 0h1v1.82h-1zm-85 12.1h1v1.82h-1zm-1 2.42h1v1.82h-1zm3 4.84h1v1.82h-1z"/>
<path fill="#555555" d="M197 209.77h1v1.82h-1zm-3 2.42h1v1.82h-1zm2 0h1v1.82h-1zm-3 2.42h1v1.82h-1zm2 0h1v1.82h-1zm-3 2.42h1v1.82h-1zm-1 2.42h1v1.82h-1zm2 0h1v1.82h-1zm36 2.42h1v1.82h-1zm-40 2.42h1v1.82h-1zm2 0h1v1.82h-1zm39 0h1v1.82h-1zm-42 2.42h1v1.82h-1zm2 0h1v1.82h-1zm41 0h1v1.82h-1zm1 0h1v1.82h-1zm-43 2.42h1v1.82h-1zm44 0h1v1.82h-1zm-47 2.42h1v1.82h-1zm47 0h1v1.82h-1zm-48 2.42h1v1.82h-1zm2 0h1v1.82h-1zm-1 2.42h1v1.82h-1zm49 0h1v1.82h-1zm3 0h1v1.82h-1zm-55 2.42h1v1.82h-1zm53 0h1v1.82h-1zm3 0h1v1.82h-1zm-55 2.42h1v1.82h-1zm53 0h1v1.82h-1zm-56 2.42h1v1.82h-1zm2 0h1v1.82h-1zm-3 2.42h1v1.82h-1zm2 0h1v1.82h-1zm-3 2.42h1v1.82h-1zm2 0h1v1.82h-1zm-3 2.42h1v1.82h-1zm2 0h1v1.82h-1zm61 0h1v1.82h-1zm-64 2.42h1v1.82h-1zm2 0h1v1.82h-1zm-3 2.42h1v1.82h-1zm2 0h1v1.82h-1zm60 0h1v1.82h-1zm-61 2.42h1v1.82h-1zm-3 2.42h1v1.82h-1zm66 0h1v1.82h-1zm-67 2.42h1v1.82h-1zm2 0h1v1.82h-1zm66 0h1v1.82h-1zm9 0h1v1.82h-1zm-78 2.42h1v1.82h-1zm2 0h1v1.82h-1zm68 0h1v1.82h-1zm7 0h1v1.82h-1zm2 0h1v1.82h-1zm-78 2.42h1v1.82h-1zm70 0h1v1.82h-1zm9 0h1v1.82h-1zm-80 2.42h1v1.82h-1zm72 0h1v1.82h-1zm9 0h1v1.82h-1zm-84 2.42h1v1.82h-1zm113 0h1v1.82h-1zm-112 2.42h1v1.82h-1zm76 0h1v1.82h-1zm-79 2.42h1v1.82h-1zm2 0h1v1.82h-1zm78 0h1v1.82h-1zm-82 4.84h1v1.82h-1zm84 0h1v1.82h-1zm-83 2.42h1v1.82h-1zm92 0h1v1.82h-1zm-93 2.42h1v1.82h-1zm94 0h1v1.82h-1zm18 0h1v1.82h-1zm-113 2.42h1v1.82h-1zm89 2.42h1v1.82h-1zm22 0h1v1.82h-1zm-2 4.84h1v1.82h-1zm-109 4.84h1v1.82h-1zm-1 2.42h1v1.82h-1z"/>
<path fill="#5e5e5e" d="M248 190.40h1v1.82h-1zm12 4.84h1v1.82h-1zm-40 4.84h1v1.82h-1zm44 0h1v1.82h-1zm-42 4.84h1v1.82h-1zm13 0h1v1.82h-1zm-39 2.42h1v1.82h-1zm2 0h1v1.82h-1zm25 0h1v1.82h-1zm10 0h1v1.82h-1zm-38 2.42h1v1.82h-1zm29 0h1v1.82h-1zm45 0h1v1.82h-1zm2 0h1v1.82h-1zm-46 2.42h1v1.82h-1zm48 0h1v1.82h-1zm-79 4.84h1v1.82h-1zm33 0h1v1.82h-1zm48 0h1v1.82h-1zm-83 4.84h1v1.82h-1zm38 0h1v1.82h-1zm50 0h1v1.82h-1zm-47 2.42h1v1.82h-1zm1 2.42h1v1.82h-1zm-47 2.42h1v1.82h-1zm48 0h1v1.82h-1zm-1 2.42h1v1.82h-1zm2 0h1v1.82h-1zm-1 2.42h1v1.82h-1zm2 0h1v1.82h-1zm-26 2.42h1v1.82h-1zm25 0h1v1.82h-1zm-51 2.42h1v1.82h-1zm52 0h1v1.82h-1zm1 2.42h1v1.82h-1zm2 0h1v1.82h-1zm-1 2.42h1v1.82h-1zm1 2.42h1v1.82h-1zm2 0h1v1.82h-1zm-40 2.42h1v1.82h-1zm40 0h1v1.82h-1zm2 0h1v1.82h-1zm-1 2.42h1v1.82h-1zm2 0h1v1.82h-1zm-1 2.42h1v1.82h-1zm2 0h1v1.82h-1zm-1 2.42h1v1.82h-1zm2 0h1v1.82h-1zm-72 2.42h1v1.82h-1zm71 0h1v1.82h-1zm2 0h1v1.82h-1zm-72 2.42h1v1.82h-1zm71 0h1v1.82h-1zm2 0h1v1.82h-1zm1 7.26h1v1.82h-1zm34 0h1v1.82h-1zm-114 2.42h1v1.82h-1zm81 0h1v1.82h-1zm32 0h1v1.82h-1zm-31 2.42h1v1.82h-1zm2 0h1v1.82h-1zm30 0h1v1.82h-1zm-116 2.42h1v1.82h-1zm87 0h1v1.82h-1zm28 0h1v1.82h-1zm-28 2.42h1v1.82h-1zm25 0h1v1.82h-1zm-22 2.42h1v1.82h-1zm22 0h1v1.82h-1zm-113 2.42h1v1.82h-1zm90 0h1v1.82h-1zm2 0h1v1.82h-1zm18 0h1v1.82h-1zm2 0h1v1.82h-1zm-115 2.42h1v1.82h-1zm86 0h1v1.82h-1zm10 0h1v1.82h-1zm16 0h1v1.82h-1zm-25 2.42h1v1.82h-1zm10 0h1v1.82h-1zm14 0h1v1.82h-1zm-23 2.42h1v1.82h-1zm8 0h1v1.82h-1zm2 0h1v1.82h-1zm12 0h1v1.82h-1zm2 0h1v1.82h-1zm-13 2.42h1v1.82h-1zm10 0h1v1.82h-1zm-19 2.42h1v1.82h-1zm8 0h1v1.82h-1zm10 0h1v1.82h-1zm2 0h1v1.82h-1zm-19 2.42h1v1.82h-1zm16 0h1v1.82h-1zm-1 2.42h1v1.82h-1zm2 0h1v1.82h-1zm-15 2.42h1v1.82h-1zm10 0h1v1.82h-1zm2 0h1v1.82h-1zm2 0h1v1.82h-1zm-4 2.42h1v1.82h-1zm3 0h1v1.82h-1z"/>
<path fill="#676767" d="M216 190.40h1v1.82h-1zm30 0h1v1.82h-1zm9 0h1v1.82h-1zm2 0h1v1.82h-1zm-47 2.42h1v1.82h-1zm7 0h1v1.82h-1zm27 0h1v1.82h-1zm13 0h1v1.82h-1zm-39 2.42h1v1.82h-1zm24 0h1v1.82h-1zm2 0h1v1.82h-1zm14 0h1v1.82h-1zm-18 2.42h1v1.82h-1zm2 0h1v1.82h-1zm18 0h1v1.82h-1zm2 0h1v1.82h-1zm2 0h1v1.82h-1zm-26 2.42h1v1.82h-1zm-40 2.42h1v1.82h-1zm2 0h1v1.82h-1zm6 0h1v1.82h-1zm15 0h1v1.82h-1zm16 0h1v1.82h-1zm2 0h1v1.82h-1zm25 0h1v1.82h-1zm2 0h1v1.82h-1zm-69 2.42h1v1.82h-1zm2 0h1v1.82h-1zm38 0h1v1.82h-1zm29 0h1v1.82h-1zm2 0h1v1.82h-1zm-33 2.42h1v1.82h-1zm33 0h1v1.82h-1zm2 0h1v1.82h-1zm-39 2.42h1v1.82h-1zm2 0h1v1.82h-1zm-6 2.42h1v1.82h-1zm2 0h1v1.82h-1zm2 0h1v1.82h-1zm40 0h1v1.82h-1zm-45 2.42h1v1.82h-1zm1 0h1v1.82h-1zm2 0h1v1.82h-1zm2 0h1v1.82h-1zm46 2.42h1v1.82h-1zm-49 2.42h1v1.82h-1zm2 0h1v1.82h-1zm47 0h1v1.82h-1zm2 0h1v1.82h-1zm-57 2.42h1v1.82h-1zm10 0h1v1.82h-1zm46 0h1v1.82h-1zm-58 2.42h1v1.82h-1zm2 0h1v1.82h-1zm9 0h1v1.82h-1zm49 0h1v1.82h-1zm2 0h1v1.82h-1zm-64 2.42h1v1.82h-1zm2 0h1v1.82h-1zm62 0h1v1.82h-1zm2 0h1v1.82h-1zm-68 2.42h1v1.82h-1zm2 0h1v1.82h-1zm14 0h1v1.82h-1zm52 0h1v1.82h-1zm-69 2.42h1v1.82h-1zm2 0h1v1.82h-1zm-2 2.42h1v1.82h-1zm-2 2.42h1v1.82h-1zm-4 2.42h1v1.82h-1zm2 0h1v1.82h-1zm-4 2.42h1v1.82h-1zm2 0h1v1.82h-1zm-4 2.42h1v1.82h-1zm2 0h1v1.82h-1zm34 0h1v1.82h-1zm-37 2.42h1v1.82h-1zm2 0h1v1.82h-1zm-6 4.84h1v1.82h-1zm-2 2.42h1v1.82h-1zm2 0h1v1.82h-1zm-4 2.42h1v1.82h-1zm2 0h1v1.82h-1zm-3 2.42h1v1.82h-1zm-2 2.42h1v1.82h-1zm2 0h1v1.82h-1zm-4 2.42h1v1.82h-1zm57 0h1v1.82h-1zm28 0h1v1.82h-1zm-87 2.42h1v1.82h-1zm2 0h1v1.82h-1zm-4 2.42h1v1.82h-1zm2 0h1v1.82h-1zm-4 2.42h1v1.82h-1zm2 0h1v1.82h-1zm86 0h1v1.82h-1zm-89 2.42h1v1.82h-1zm2 0h1v1.82h-1zm86 0h1v1.82h-1zm-90 2.42h1v1.82h-1zm2 0h1v1.82h-1zm69 0h1v1.82h-1zm18 0h1v1.82h-1zm10 0h1v1.82h-1zm-101 2.42h1v1.82h-1zm77 0h1v1.82h-1zm13 0h1v1.82h-1zm12 0h1v1.82h-1zm-102 2.42h1v1.82h-1zm76 0h1v1.82h-1zm13 0h1v1.82h-1zm-1 2.42h1v1.82h-1zm10 2.42h1v1.82h-1zm-115 2.42h1v1.82h-1zm103 0h1v1.82h-1zm-5 4.84h1v1.82h-1zm1 4.84h1v1.82h-1zm-6 2.42h1v1.82h-1zm2 4.84h1v1.82h-1z"/>
<path fill="#6f6f6f" d="M205 190.40h1v1.82h-1zm39 0h1v1.82h-1zm9 0h1v1.82h-1zm-11 2.42h1v1.82h-1zm4 0h1v1.82h-1zm9 0h1v1.82h-1zm4 0h1v1.82h-1zm-56 2.42h1v1.82h-1zm6 0h1v1.82h-1zm2 0h1v1.82h-1zm29 0h1v1.82h-1zm6 0h1v1.82h-1zm16 0h1v1.82h-1zm-60 2.42h1v1.82h-1zm6 0h1v1.82h-1zm11 0h1v1.82h-1zm19 0h1v1.82h-1zm-44 2.42h1v1.82h-1zm5 0h1v1.82h-1zm2 0h1v1.82h-1zm6 0h1v1.82h-1zm2 0h1v1.82h-1zm27 0h1v1.82h-1zm4 0h1v1.82h-1zm22 0h1v1.82h-1zm-54 2.42h1v1.82h-1zm15 0h1v1.82h-1zm12 0h1v1.82h-1zm-30 2.42h1v1.82h-1zm19 0h1v1.82h-1zm9 0h1v1.82h-1zm31 0h1v1.82h-1zm-60 2.42h1v1.82h-1zm27 0h1v1.82h-1zm35 0h1v1.82h-1zm-63 2.42h1v1.82h-1zm2 0h1v1.82h-1zm-3 2.42h1v1.82h-1zm31 0h1v1.82h-1zm42 0h1v1.82h-1zm-74 2.42h1v1.82h-1zm72 0h1v1.82h-1zm2 0h1v1.82h-1zm-75 2.42h1v1.82h-1zm29 0h1v1.82h-1zm2 0h1v1.82h-1zm42 0h1v1.82h-1zm6 0h1v1.82h-1zm-80 2.42h1v1.82h-1zm23 0h1v1.82h-1zm53 0h1v1.82h-1zm-77 2.42h1v1.82h-1zm22 0h1v1.82h-1zm62 0h1v1.82h-1zm-64 2.42h1v1.82h-1zm18 0h1v1.82h-1zm48 0h1v1.82h-1zm-68 2.42h1v1.82h-1zm6 0h1v1.82h-1zm58 0h1v1.82h-1zm-85 2.42h1v1.82h-1zm2 0h1v1.82h-1zm23 0h1v1.82h-1zm-7 2.42h1v1.82h-1zm71 0h1v1.82h-1zm-121 2.42h1v1.82h-1zm30 0h1v1.82h-1zm18 0h1v1.82h-1zm2 0h1v1.82h-1zm4 0h1v1.82h-1zm-23 2.42h1v1.82h-1zm15 0h1v1.82h-1zm6 0h1v1.82h-1zm-20 2.42h1v1.82h-1zm12 0h1v1.82h-1zm4 2.42h1v1.82h-1zm-8 2.42h1v1.82h-1zm81 0h1v1.82h-1zm-82 2.42h1v1.82h-1zm6 0h1v1.82h-1zm46 0h1v1.82h-1zm-50 2.42h1v1.82h-1zm2 0h1v1.82h-1zm-8 2.42h1v1.82h-1zm4 0h1v1.82h-1zm2 0h1v1.82h-1zm18 0h1v1.82h-1zm59 0h1v1.82h-1zm-79 2.42h1v1.82h-1zm78 0h1v1.82h-1zm-96 2.42h1v1.82h-1zm16 0h1v1.82h-1zm-15 2.42h1v1.82h-1zm8 0h1v1.82h-1zm4 0h1v1.82h-1zm68 0h1v1.82h-1zm19 0h1v1.82h-1zm-7 2.42h1v1.82h-1zm6 0h1v1.82h-1zm-94 2.42h1v1.82h-1zm4 0h1v1.82h-1zm89 0h1v1.82h-1zm2 0h1v1.82h-1zm-102 2.42h1v1.82h-1zm5 0h1v1.82h-1zm6 0h1v1.82h-1zm82 0h1v1.82h-1zm-84 2.42h1v1.82h-1zm50 0h1v1.82h-1zm33 0h1v1.82h-1zm6 0h1v1.82h-1zm-100 2.42h1v1.82h-1zm9 0h1v1.82h-1zm78 0h1v1.82h-1zm12 0h1v1.82h-1zm-97 2.42h1v1.82h-1zm4 2.42h1v1.82h-1zm91 0h1v1.82h-1zm-102 2.42h1v1.82h-1zm7 0h1v1.82h-1zm2 0h1v1.82h-1zm94 0h1v1.82h-1zm-114 2.42h1v1.82h-1zm14 0h1v1.82h-1zm76 0h1v1.82h-1zm21 0h1v1.82h-1zm3 0h1v1.82h-1zm-100 2.42h1v1.82h-1zm2 0h1v1.82h-1zm-6 2.42h1v1.82h-1zm2 0h1v1.82h-1zm91 0h1v1.82h-1zm-94 2.42h1v1.82h-1zm28 0h1v1.82h-1zm56 0h1v1.82h-1zm-95 2.42h1v1.82h-1zm103 0h1v1.82h-1zm-104 2.42h1v1.82h-1zm10 0h1v1.82h-1zm93 0h1v1.82h-1zm-96 2.42h1v1.82h-1zm100 2.42h1v1.82h-1zm-60 7.26h1v1.82h-1zm37 0h1v1.82h-1z"/>
<path fill="#787878" d="M155 190.40h1v1.82h-1zm10 0h1v1.82h-1zm4 0h1v1.82h-1zm2 0h1v1.82h-1zm9 0h1v1.82h-1zm4 0h1v1.82h-1zm4 0h1v1.82h-1zm2 0h1v1.82h-1zm1 0h1v1.82h-1zm2 0h1v1.82h-1zm3 0h1v1.82h-1zm2 0h1v1.82h-1zm3 0h1v1.82h-1zm19 0h1v1.82h-1zm9 0h1v1.82h-1zm1 0h1v1.82h-1zm1 0h1v1.82h-1zm4 0h1v1.82h-1zm2 0h1v1.82h-1zm1 0h1v1.82h-1zm2 0h1v1.82h-1zm10 0h1v1.82h-1zm11 0h1v1.82h-1zm14 0h1v1.82h-1zm3 0h1v1.82h-1zm1 0h1v1.82h-1zm-111 2.42h1v1.82h-1zm3 0h1v1.82h-1zm3 0h1v1.82h-1zm13 0h1v1.82h-1zm4 0h1v1.82h-1zm6 0h1v1.82h-1zm7 0h1v1.82h-1zm15 0h1v1.82h-1zm2 0h1v1.82h-1zm2 0h1v1.82h-1zm1 0h1v1.82h-1zm4 0h1v1.82h-1zm12 0h1v1.82h-1zm8 0h1v1.82h-1zm4 0h1v1.82h-1zm1 0h1v1.82h-1zm8 0h1v1.82h-1zm7 0h1v1.82h-1zm5 0h1v1.82h-1zm-113 2.42h1v1.82h-1zm4 0h1v1.82h-1zm8 0h1v1.82h-1zm5 0h1v1.82h-1zm13 0h1v1.82h-1zm2 0h1v1.82h-1zm28 0h1v1.82h-1zm2 0h1v1.82h-1zm5 0h1v1.82h-1zm8 0h1v1.82h-1zm3 0h1v1.82h-1zm18 0h1v1.82h-1zm11 0h1v1.82h-1zm17 0h1v1.82h-1zm-124 2.42h1v1.82h-1zm3 0h1v1.82h-1zm20 0h1v1.82h-1zm4 0h1v1.82h-1zm4 0h1v1.82h-1zm3 0h1v1.82h-1zm16 0h1v1.82h-1zm2 0h1v1.82h-1zm1 0h1v1.82h-1zm8 0h1v1.82h-1zm2 0h1v1.82h-1zm9 0h1v1.82h-1zm12 0h1v1.82h-1zm6 0h1v1.82h-1zm1 0h1v1.82h-1zm7 0h1v1.82h-1zm12 0h1v1.82h-1zm6 0h1v1.82h-1zm1 0h1v1.82h-1zm1 0h1v1.82h-1zm6 0h1v1.82h-1zm-128 2.42h1v1.82h-1zm1 0h1v1.82h-1zm8 0h1v1.82h-1zm5 0h1v1.82h-1zm1 0h1v1.82h-1zm5 0h1v1.82h-1zm6 0h1v1.82h-1zm7 0h1v1.82h-1zm3 0h1v1.82h-1zm21 0h1v1.82h-1zm1 0h1v1.82h-1zm8 0h1v1.82h-1zm2 0h1v1.82h-1zm2 0h1v1.82h-1zm16 0h1v1.82h-1zm7 0h1v1.82h-1zm11 0h1v1.82h-1zm6 0h1v1.82h-1zm2 0h1v1.82h-1zm3 0h1v1.82h-1zm8 0h1v1.82h-1zm2 0h1v1.82h-1zm-123 2.42h1v1.82h-1zm6 0h1v1.82h-1zm15 0h1v1.82h-1zm7 0h1v1.82h-1zm1 0h1v1.82h-1zm1 0h1v1.82h-1zm2 0h1v1.82h-1zm20 0h1v1.82h-1zm2 0h1v1.82h-1zm17 0h1v1.82h-1zm4 0h1v1.82h-1zm8 0h1v1.82h-1zm5 0h1v1.82h-1zm14 0h1v1.82h-1zm2 0h1v1.82h-1zm6 0h1v1.82h-1zm6 0h1v1.82h-1zm1 0h1v1.82h-1zm2 0h1v1.82h-1zm2 0h1v1.82h-1zm-122 2.42h1v1.82h-1zm1 0h1v1.82h-1zm8 0h1v1.82h-1zm6 0h1v1.82h-1zm19 0h1v1.82h-1zm16 0h1v1.82h-1zm2 0h1v1.82h-1zm5 0h1v1.82h-1zm2 0h1v1.82h-1zm10 0h1v1.82h-1zm2 0h1v1.82h-1zm3 0h1v1.82h-1zm17 0h1v1.82h-1zm1 0h1v1.82h-1zm1 0h1v1.82h-1zm9 0h1v1.82h-1zm2 0h1v1.82h-1zm1 0h1v1.82h-1zm8 0h1v1.82h-1zm12 0h1v1.82h-1zm-128 2.42h1v1.82h-1zm1 0h1v1.82h-1zm4 0h1v1.82h-1zm3 0h1v1.82h-1zm1 0h1v1.82h-1zm11 0h1v1.82h-1zm20 0h1v1.82h-1zm12 0h1v1.82h-1zm2 0h1v1.82h-1zm9 0h1v1.82h-1zm8 0h1v1.82h-1zm4 0h1v1.82h-1zm8 0h1v1.82h-1zm7 0h1v1.82h-1zm1 0h1v1.82h-1zm9 0h1v1.82h-1zm18 0h1v1.82h-1zm9 0h1v1.82h-1zm-125 2.42h1v1.82h-1zm3 0h1v1.82h-1zm1 0h1v1.82h-1zm7 0h1v1.82h-1zm40 0h1v1.82h-1zm2 0h1v1.82h-1zm8 0h1v1.82h-1zm1 0h1v1.82h-1zm8 0h1v1.82h-1zm3 0h1v1.82h-1zm6 0h1v1.82h-1zm11 0h1v1.82h-1zm8 0h1v1.82h-1zm7 0h1v1.82h-1zm6 0h1v1.82h-1zm6 0h1v1.82h-1zm8 0h1v1.82h-1zm-109 2.42h1v1.82h-1zm1 0h1v1.82h-1zm3 0h1v1.82h-1zm12 0h1v1.82h-1zm1 0h1v1.82h-1zm15 0h1v1.82h-1zm2 0h1v1.82h-1zm34 0h1v1.82h-1zm18 0h1v1.82h-1zm1 0h1v1.82h-1zm3 0h1v1.82h-1zm1 0h1v1.82h-1zm15 0h1v1.82h-1zm1 0h1v1.82h-1zm-121 2.42h1v1.82h-1zm3 0h1v1.82h-1zm21 0h1v1.82h-1zm3 0h1v1.82h-1zm3 0h1v1.82h-1zm15 0h1v1.82h-1zm7 0h1v1.82h-1zm7 0h1v1.82h-1zm1 0h1v1.82h-1zm15 0h1v1.82h-1zm7 0h1v1.82h-1zm1 0h1v1.82h-1zm3 0h1v1.82h-1zm14 0h1v1.82h-1zm1 0h1v1.82h-1zm8 0h1v1.82h-1zm2 0h1v1.82h-1zm2 0h1v1.82h-1zm6 0h1v1.82h-1zm7 0h1v1.82h-1zm-121 2.42h1v1.82h-1zm3 0h1v1.82h-1zm5 0h1v1.82h-1zm7 0h1v1.82h-1zm2 0h1v1.82h-1zm4 0h1v1.82h-1zm3 0h1v1.82h-1zm1 0h1v1.82h-1zm2 0h1v1.82h-1zm12 0h1v1.82h-1zm4 0h1v1.82h-1zm2 0h1v1.82h-1zm13 0h1v1.82h-1zm12 0h1v1.82h-1zm12 0h1v1.82h-1zm6 0h1v1.82h-1zm4 0h1v1.82h-1zm3 0h1v1.82h-1zm1 0h1v1.82h-1zm1 0h1v1.82h-1zm7 0h1v1.82h-1zm1 0h1v1.82h-1zm-105 2.42h1v1.82h-1zm4 0h1v1.82h-1zm2 0h1v1.82h-1zm8 0h1v1.82h-1zm1 0h1v1.82h-1zm10 0h1v1.82h-1zm13 0h1v1.82h-1zm19 0h1v1.82h-1zm20 0h1v1.82h-1zm4 0h1v1.82h-1zm7 0h1v1.82h-1zm14 0h1v1.82h-1zm4 0h1v1.82h-1zm12 0h1v1.82h-1zm2 0h1v1.82h-1zm-119 2.42h1v1.82h-1zm1 0h1v1.82h-1zm8 0h1v1.82h-1zm8 0h1v1.82h-1zm7 0h1v1.82h-1zm22 0h1v1.82h-1zm31 0h1v1.82h-1zm1 0h1v1.82h-1zm11 0h1v1.82h-1zm6 0h1v1.82h-1zm2 0h1v1.82h-1zm2 0h1v1.82h-1zm2 0h1v1.82h-1zm1 0h1v1.82h-1zm-100 2.42h1v1.82h-1zm1 0h1v1.82h-1zm2 0h1v1.82h-1zm1 0h1v1.82h-1zm12 0h1v1.82h-1zm3 0h1v1.82h-1zm12 0h1v1.82h-1zm2 0h1v1.82h-1zm2 0h1v1.82h-1zm8 0h1v1.82h-1zm1 0h1v1.82h-1zm4 0h1v1.82h-1zm2 0h1v1.82h-1zm8 0h1v1.82h-1zm15 0h1v1.82h-1zm5 0h1v1.82h-1zm3 0h1v1.82h-1zm6 0h1v1.82h-1zm5 0h1v1.82h-1zm6 0h1v1.82h-1zm9 0h1v1.82h-1zm5 0h1v1.82h-1zm-124 2.42h1v1.82h-1zm5 0h1v1.82h-1zm7 0h1v1.82h-1zm7 0h1v1.82h-1zm7 0h1v1.82h-1zm16 0h1v1.82h-1zm2 0h1v1.82h-1zm2 0h1v1.82h-1zm6 0h1v1.82h-1zm3 0h1v1.82h-1zm15 0h1v1.82h-1zm30 0h1v1.82h-1zm4 0h1v1.82h-1zm10 0h1v1.82h-1zm3 0h1v1.82h-1zm3 0h1v1.82h-1zm3 0h1v1.82h-1zm-123 2.42h1v1.82h-1zm3 0h1v1.82h-1zm1 0h1v1.82h-1zm1 0h1v1.82h-1zm5 0h1v1.82h-1zm2 0h1v1.82h-1zm6 0h1v1.82h-1zm9 0h1v1.82h-1zm4 0h1v1.82h-1zm17 0h1v1.82h-1zm4 0h1v1.82h-1zm8 0h1v1.82h-1zm12 0h1v1.82h-1zm15 0h1v1.82h-1zm10 0h1v1.82h-1zm9 0h1v1.82h-1zm9 0h1v1.82h-1zm8 0h1v1.82h-1zm1 0h1v1.82h-1zm2 0h1v1.82h-1zm2 0h1v1.82h-1zm-128 2.42h1v1.82h-1zm11 0h1v1.82h-1zm2 0h1v1.82h-1zm3 0h1v1.82h-1zm1 0h1v1.82h-1zm1 0h1v1.82h-1zm1 0h1v1.82h-1zm4 0h1v1.82h-1zm1 0h1v1.82h-1zm1 0h1v1.82h-1zm3 0h1v1.82h-1zm1 0h1v1.82h-1zm11 0h1v1.82h-1zm2 0h1v1.82h-1zm2 0h1v1.82h-1zm2 0h1v1.82h-1zm4 0h1v1.82h-1zm2 0h1v1.82h-1zm1 0h1v1.82h-1zm12 0h1v1.82h-1zm2 0h1v1.82h-1zm19 0h1v1.82h-1zm7 0h1v1.82h-1zm2 0h1v1.82h-1zm3 0h1v1.82h-1zm10 0h1v1.82h-1zm4 0h1v1.82h-1zm5 0h1v1.82h-1zm3 0h1v1.82h-1zm6 0h1v1.82h-1zm1 0h1v1.82h-1zm-127 2.42h1v1.82h-1zm2 0h1v1.82h-1zm8 0h1v1.82h-1zm3 0h1v1.82h-1zm9 0h1v1.82h-1zm19 0h1v1.82h-1zm2 0h1v1.82h-1zm5 0h1v1.82h-1zm2 0h1v1.82h-1zm45 0h1v1.82h-1zm3 0h1v1.82h-1zm5 0h1v1.82h-1zm6 0h1v1.82h-1zm7 0h1v1.82h-1zm1 0h1v1.82h-1zm3 0h1v1.82h-1zm2 0h1v1.82h-1zm4 0h1v1.82h-1zm1 0h1v1.82h-1zm1 0h1v1.82h-1zm-121 2.42h1v1.82h-1zm18 0h1v1.82h-1zm13 0h1v1.82h-1zm6 0h1v1.82h-1zm3 0h1v1.82h-1zm4 0h1v1.82h-1zm14 0h1v1.82h-1zm1 0h1v1.82h-1zm1 0h1v1.82h-1zm1 0h1v1.82h-1zm3 0h1v1.82h-1zm1 0h1v1.82h-1zm2 0h1v1.82h-1zm15 0h1v1.82h-1zm4 0h1v1.82h-1zm6 0h1v1.82h-1zm1 0h1v1.82h-1zm13 0h1v1.82h-1zm4 0h1v1.82h-1zm6 0h1v1.82h-1zm-102 2.42h1v1.82h-1zm16 0h1v1.82h-1zm2 0h1v1.82h-1zm20 0h1v1.82h-1zm17 0h1v1.82h-1zm24 0h1v1.82h-1zm6 0h1v1.82h-1zm2 0h1v1.82h-1zm9 0h1v1.82h-1zm-117 2.42h1v1.82h-1zm1 0h1v1.82h-1zm7 0h1v1.82h-1zm4 0h1v1.82h-1zm3 0h1v1.82h-1zm3 0h1v1.82h-1zm18 0h1v1.82h-1zm2 0h1v1.82h-1zm2 0h1v1.82h-1zm2 0h1v1.82h-1zm2 0h1v1.82h-1zm2 0h1v1.82h-1zm1 0h1v1.82h-1zm4 0h1v1.82h-1zm38 0h1v1.82h-1zm9 0h1v1.82h-1zm8 0h1v1.82h-1zm6 0h1v1.82h-1zm1 0h1v1.82h-1zm2 0h1v1.82h-1zm2 0h1v1.82h-1zm2 0h1v1.82h-1zm2 0h1v1.82h-1zm-110 2.42h1v1.82h-1zm4 0h1v1.82h-1zm3 0h1v1.82h-1zm17 0h1v1.82h-1zm4 0h1v1.82h-1zm2 0h1v1.82h-1zm6 0h1v1.82h-1zm8 0h1v1.82h-1zm11 0h1v1.82h-1zm8 0h1v1.82h-1zm3 0h1v1.82h-1zm1 0h1v1.82h-1zm45 0h1v1.82h-1zm1 0h1v1.82h-1zm4 0h1v1.82h-1zm-128 2.42h1v1.82h-1zm2 0h1v1.82h-1zm7 0h1v1.82h-1zm2 0h1v1.82h-1zm2 0h1v1.82h-1zm11 0h1v1.82h-1zm10 0h1v1.82h-1zm2 0h1v1.82h-1zm2 0h1v1.82h-1zm8 0h1v1.82h-1zm15 0h1v1.82h-1zm14 0h1v1.82h-1zm1 0h1v1.82h-1zm1 0h1v1.82h-1zm13 0h1v1.82h-1zm1 0h1v1.82h-1zm5 0h1v1.82h-1zm3 0h1v1.82h-1zm22 0h1v1.82h-1zm8 0h1v1.82h-1zm-128 2.42h1v1.82h-1zm16 0h1v1.82h-1zm1 0h1v1.82h-1zm17 0h1v1.82h-1zm4 0h1v1.82h-1zm7 0h1v1.82h-1zm8 0h1v1.82h-1zm4 0h1v1.82h-1zm5 0h1v1.82h-1zm9 0h1v1.82h-1zm21 0h1v1.82h-1zm9 0h1v1.82h-1zm1 0h1v1.82h-1zm2 0h1v1.82h-1zm4 0h1v1.82h-1zm12 0h1v1.82h-1zm4 0h1v1.82h-1zm1 0h1v1.82h-1zm2 0h1v1.82h-1zm-122 2.42h1v1.82h-1zm3 0h1v1.82h-1zm1 0h1v1.82h-1zm2 0h1v1.82h-1zm5 0h1v1.82h-1zm15 0h1v1.82h-1zm2 0h1v1.82h-1zm2 0h1v1.82h-1zm2 0h1v1.82h-1zm17 0h1v1.82h-1zm1 0h1v1.82h-1zm2 0h1v1.82h-1zm19 0h1v1.82h-1zm1 0h1v1.82h-1zm2 0h1v1.82h-1zm1 0h1v1.82h-1zm13 0h1v1.82h-1zm1 0h1v1.82h-1zm2 0h1v1.82h-1zm2 0h1v1.82h-1zm4 0h1v1.82h-1zm3 0h1v1.82h-1zm2 0h1v1.82h-1zm11 0h1v1.82h-1zm-117 2.42h1v1.82h-1zm11 0h1v1.82h-1zm2 0h1v1.82h-1zm16 0h1v1.82h-1zm2 0h1v1.82h-1zm4 0h1v1.82h-1zm3 0h1v1.82h-1zm2 0h1v1.82h-1zm8 0h1v1.82h-1zm13 0h1v1.82h-1zm9 0h1v1.82h-1zm3 0h1v1.82h-1zm5 0h1v1.82h-1zm16 0h1v1.82h-1zm10 0h1v1.82h-1zm1 0h1v1.82h-1zm7 0h1v1.82h-1zm9 0h1v1.82h-1zm-122 2.42h1v1.82h-1zm6 0h1v1.82h-1zm5 0h1v1.82h-1zm7 0h1v1.82h-1zm1 0h1v1.82h-1zm12 0h1v1.82h-1zm2 0h1v1.82h-1zm2 0h1v1.82h-1zm4 0h1v1.82h-1zm10 0h1v1.82h-1zm23 0h1v1.82h-1zm1 0h1v1.82h-1zm7 0h1v1.82h-1zm15 0h1v1.82h-1zm2 0h1v1.82h-1zm5 0h1v1.82h-1zm1 0h1v1.82h-1zm21 0h1v1.82h-1zm-96 2.42h1v1.82h-1zm4 0h1v1.82h-1zm2 0h1v1.82h-1zm10 0h1v1.82h-1zm6 0h1v1.82h-1zm3 0h1v1.82h-1zm1 0h1v1.82h-1zm13 0h1v1.82h-1zm6 0h1v1.82h-1zm5 0h1v1.82h-1zm28 0h1v1.82h-1zm11 0h1v1.82h-1zm1 0h1v1.82h-1zm2 0h1v1.82h-1zm1 0h1v1.82h-1zm2 0h1v1.82h-1zm-117 2.42h1v1.82h-1zm7 0h1v1.82h-1zm14 0h1v1.82h-1zm2 0h1v1.82h-1zm5 0h1v1.82h-1zm2 0h1v1.82h-1zm6 0h1v1.82h-1zm3 0h1v1.82h-1zm1 0h1v1.82h-1zm9 0h1v1.82h-1zm1 0h1v1.82h-1zm8 0h1v1.82h-1zm8 0h1v1.82h-1zm3 0h1v1.82h-1zm5 0h1v1.82h-1zm3 0h1v1.82h-1zm19 0h1v1.82h-1zm8 0h1v1.82h-1zm9 0h1v1.82h-1zm1 0h1v1.82h-1zm1 0h1v1.82h-1zm-120 2.42h1v1.82h-1zm15 0h1v1.82h-1zm10 0h1v1.82h-1zm2 0h1v1.82h-1zm2 0h1v1.82h-1zm10 0h1v1.82h-1zm8 0h1v1.82h-1zm1 0h1v1.82h-1zm51 0h1v1.82h-1zm12 0h1v1.82h-1zm4 0h1v1.82h-1zm2 0h1v1.82h-1zm2 0h1v1.82h-1zm-113 2.42h1v1.82h-1zm1 0h1v1.82h-1zm1 0h1v1.82h-1zm6 0h1v1.82h-1zm10 0h1v1.82h-1zm4 0h1v1.82h-1zm17 0h1v1.82h-1zm4 0h1v1.82h-1zm15 0h1v1.82h-1zm21 0h1v1.82h-1zm15 0h1v1.82h-1zm5 0h1v1.82h-1zm2 0h1v1.82h-1zm7 0h1v1.82h-1zm3 0h1v1.82h-1zm8 0h1v1.82h-1zm2 0h1v1.82h-1zm-129 2.42h1v1.82h-1zm3 0h1v1.82h-1zm12 0h1v1.82h-1zm10 0h1v1.82h-1zm2 0h1v1.82h-1zm2 0h1v1.82h-1zm2 0h1v1.82h-1zm32 0h1v1.82h-1zm8 0h1v1.82h-1zm6 0h1v1.82h-1zm5 0h1v1.82h-1zm3 0h1v1.82h-1zm31 0h1v1.82h-1zm3 0h1v1.82h-1zm9 0h1v1.82h-1zm-126 2.42h1v1.82h-1zm7 0h1v1.82h-1zm5 0h1v1.82h-1zm10 0h1v1.82h-1zm4 0h1v1.82h-1zm1 0h1v1.82h-1zm9 0h1v1.82h-1zm1 0h1v1.82h-1zm13 0h1v1.82h-1zm13 0h1v1.82h-1zm15 0h1v1.82h-1zm21 0h1v1.82h-1zm3 0h1v1.82h-1zm1 0h1v1.82h-1zm1 0h1v1.82h-1zm2 0h1v1.82h-1zm-96 2.42h1v1.82h-1zm11 0h1v1.82h-1zm2 0h1v1.82h-1zm9 0h1v1.82h-1zm4 0h1v1.82h-1zm1 0h1v1.82h-1zm6 0h1v1.82h-1zm8 0h1v1.82h-1zm2 0h1v1.82h-1zm8 0h1v1.82h-1zm5 0h1v1.82h-1zm2 0h1v1.82h-1zm32 0h1v1.82h-1zm1 0h1v1.82h-1zm11 0h1v1.82h-1zm2 0h1v1.82h-1zm1 0h1v1.82h-1zm7 0h1v1.82h-1zm2 0h1v1.82h-1zm-121 2.42h1v1.82h-1zm7 0h1v1.82h-1zm10 0h1v1.82h-1zm4 0h1v1.82h-1zm9 0h1v1.82h-1zm5 0h1v1.82h-1zm9 0h1v1.82h-1zm2 0h1v1.82h-1zm1 0h1v1.82h-1zm8 0h1v1.82h-1zm12 0h1v1.82h-1zm2 0h1v1.82h-1zm4 0h1v1.82h-1zm1 0h1v1.82h-1zm5 0h1v1.82h-1zm3 0h1v1.82h-1zm11 0h1v1.82h-1zm5 0h1v1.82h-1zm8 0h1v1.82h-1zm5 0h1v1.82h-1zm9 0h1v1.82h-1zm-123 2.42h1v1.82h-1zm7 0h1v1.82h-1zm2 0h1v1.82h-1zm12 0h1v1.82h-1zm1 0h1v1.82h-1zm27 0h1v1.82h-1zm7 0h1v1.82h-1zm2 0h1v1.82h-1zm1 0h1v1.82h-1zm6 0h1v1.82h-1zm11 0h1v1.82h-1zm7 0h1v1.82h-1zm5 0h1v1.82h-1zm1 0h1v1.82h-1zm22 0h1v1.82h-1zm9 0h1v1.82h-1zm8 0h1v1.82h-1zm-125 2.42h1v1.82h-1zm3 0h1v1.82h-1zm12 0h1v1.82h-1zm22 0h1v1.82h-1zm2 0h1v1.82h-1zm6 0h1v1.82h-1zm3 0h1v1.82h-1zm9 0h1v1.82h-1zm1 0h1v1.82h-1zm8 0h1v1.82h-1zm20 0h1v1.82h-1zm37 0h1v1.82h-1zm1 0h1v1.82h-1zm-125 2.42h1v1.82h-1zm3 0h1v1.82h-1zm2 0h1v1.82h-1zm10 0h1v1.82h-1zm23 0h1v1.82h-1zm8 0h1v1.82h-1zm3 0h1v1.82h-1zm13 0h1v1.82h-1zm10 0h1v1.82h-1zm1 0h1v1.82h-1zm2 0h1v1.82h-1zm2 0h1v1.82h-1zm8 0h1v1.82h-1zm2 0h1v1.82h-1zm1 0h1v1.82h-1zm21 0h1v1.82h-1zm7 0h1v1.82h-1zm7 0h1v1.82h-1zm-125 2.42h1v1.82h-1zm2 0h1v1.82h-1zm4 0h1v1.82h-1zm10 0h1v1.82h-1zm10 0h1v1.82h-1zm6 0h1v1.82h-1zm5 0h1v1.82h-1zm4 0h1v1.82h-1zm12 0h1v1.82h-1zm2 0h1v1.82h-1zm11 0h1v1.82h-1zm6 0h1v1.82h-1zm5 0h1v1.82h-1zm13 0h1v1.82h-1zm10 0h1v1.82h-1zm10 0h1v1.82h-1zm7 0h1v1.82h-1zm8 0h1v1.82h-1zm2 0h1v1.82h-1zm-128 2.42h1v1.82h-1zm6 0h1v1.82h-1zm10 0h1v1.82h-1zm4 0h1v1.82h-1zm14 0h1v1.82h-1zm8 0h1v1.82h-1zm31 0h1v1.82h-1zm12 0h1v1.82h-1zm3 0h1v1.82h-1zm4 0h1v1.82h-1zm25 0h1v1.82h-1zm9 0h1v1.82h-1zm-127 2.42h1v1.82h-1zm1 0h1v1.82h-1zm2 0h1v1.82h-1zm13 0h1v1.82h-1zm3 0h1v1.82h-1zm3 0h1v1.82h-1zm15 0h1v1.82h-1zm1 0h1v1.82h-1zm6 0h1v1.82h-1zm6 0h1v1.82h-1zm10 0h1v1.82h-1zm2 0h1v1.82h-1zm4 0h1v1.82h-1zm4 0h1v1.82h-1zm1 0h1v1.82h-1zm1 0h1v1.82h-1zm5 0h1v1.82h-1zm13 0h1v1.82h-1zm20 0h1v1.82h-1zm7 0h1v1.82h-1zm10 0h1v1.82h-1zm-112 2.42h1v1.82h-1zm4 0h1v1.82h-1zm4 0h1v1.82h-1zm1 0h1v1.82h-1zm3 0h1v1.82h-1zm4 0h1v1.82h-1zm4 0h1v1.82h-1zm11 0h1v1.82h-1zm3 0h1v1.82h-1zm1 0h1v1.82h-1zm4 0h1v1.82h-1zm9 0h1v1.82h-1zm1 0h1v1.82h-1zm6 0h1v1.82h-1zm3 0h1v1.82h-1zm11 0h1v1.82h-1zm10 0h1v1.82h-1zm1 0h1v1.82h-1zm10 0h1v1.82h-1zm11 0h1v1.82h-1zm10 0h1v1.82h-1zm1 0h1v1.82h-1zm-123 2.42h1v1.82h-1zm2 0h1v1.82h-1zm10 0h1v1.82h-1zm9 0h1v1.82h-1zm7 0h1v1.82h-1zm11 0h1v1.82h-1zm8 0h1v1.82h-1zm11 0h1v1.82h-1zm2 0h1v1.82h-1zm7 0h1v1.82h-1zm2 0h1v1.82h-1zm3 0h1v1.82h-1zm1 0h1v1.82h-1zm12 0h1v1.82h-1zm5 0h1v1.82h-1zm1 0h1v1.82h-1zm3 0h1v1.82h-1zm8 0h1v1.82h-1zm9 0h1v1.82h-1zm10 0h1v1.82h-1zm-122 2.42h1v1.82h-1zm2 0h1v1.82h-1zm8 0h1v1.82h-1zm6 0h1v1.82h-1zm5 0h1v1.82h-1zm13 0h1v1.82h-1zm4 0h1v1.82h-1zm3 0h1v1.82h-1zm1 0h1v1.82h-1zm1 0h1v1.82h-1zm5 0h1v1.82h-1zm9 0h1v1.82h-1zm4 0h1v1.82h-1zm16 0h1v1.82h-1zm8 0h1v1.82h-1zm12 0h1v1.82h-1zm7 0h1v1.82h-1zm17 0h1v1.82h-1zm1 0h1v1.82h-1zm-125 2.42h1v1.82h-1zm13 0h1v1.82h-1zm2 0h1v1.82h-1zm2 0h1v1.82h-1zm16 0h1v1.82h-1zm2 0h1v1.82h-1zm9 0h1v1.82h-1zm3 0h1v1.82h-1zm8 0h1v1.82h-1zm16 0h1v1.82h-1zm8 0h1v1.82h-1zm45 0h1v1.82h-1zm2 0h1v1.82h-1zm-125 2.42h1v1.82h-1zm13 0h1v1.82h-1zm2 0h1v1.82h-1zm2 0h1v1.82h-1zm10 0h1v1.82h-1zm4 0h1v1.82h-1zm5 0h1v1.82h-1zm2 0h1v1.82h-1zm14 0h1v1.82h-1zm5 0h1v1.82h-1zm1 0h1v1.82h-1zm7 0h1v1.82h-1zm7 0h1v1.82h-1zm4 0h1v1.82h-1zm4 0h1v1.82h-1zm4 0h1v1.82h-1zm5 0h1v1.82h-1zm8 0h1v1.82h-1zm2 0h1v1.82h-1zm-89 2.42h1v1.82h-1zm2 0h1v1.82h-1zm2 0h1v1.82h-1zm2 0h1v1.82h-1zm1 0h1v1.82h-1zm15 0h1v1.82h-1zm5 0h1v1.82h-1zm2 0h1v1.82h-1zm9 0h1v1.82h-1zm11 0h1v1.82h-1zm3 0h1v1.82h-1zm2 0h1v1.82h-1zm2 0h1v1.82h-1zm6 0h1v1.82h-1zm10 0h1v1.82h-1zm2 0h1v1.82h-1zm9 0h1v1.82h-1zm9 0h1v1.82h-1z"/>
<path fill="#8a8a8a" d="M158 190.40h1v1.82h-1zm5 0h1v1.82h-1zm4 0h1v1.82h-1zm27 0h1v1.82h-1zm23 0h1v1.82h-1zm2 0h1v1.82h-1zm2 0h1v1.82h-1zm22 0h1v1.82h-1zm8 0h1v1.82h-1zm1 0h1v1.82h-1zm8 0h1v1.82h-1zm2 0h1v1.82h-1zm9 0h1v1.82h-1zm3 0h1v1.82h-1zm-116 2.42h1v1.82h-1zm8 0h1v1.82h-1zm3 0h1v1.82h-1zm1 0h1v1.82h-1zm2 0h1v1.82h-1zm5 0h1v1.82h-1zm7 0h1v1.82h-1zm8 0h1v1.82h-1zm4 0h1v1.82h-1zm15 0h1v1.82h-1zm11 0h1v1.82h-1zm5 0h1v1.82h-1zm6 0h1v1.82h-1zm1 0h1v1.82h-1zm3 0h1v1.82h-1zm4 0h1v1.82h-1zm23 0h1v1.82h-1zm18 0h1v1.82h-1zm-124 2.42h1v1.82h-1zm3 0h1v1.82h-1zm4 0h1v1.82h-1zm8 0h1v1.82h-1zm18 0h1v1.82h-1zm2 0h1v1.82h-1zm7 0h1v1.82h-1zm1 0h1v1.82h-1zm18 0h1v1.82h-1zm2 0h1v1.82h-1zm8 0h1v1.82h-1zm2 0h1v1.82h-1zm1 0h1v1.82h-1zm1 0h1v1.82h-1zm6 0h1v1.82h-1zm8 0h1v1.82h-1zm31 0h1v1.82h-1zm2 0h1v1.82h-1zm-125 2.42h1v1.82h-1zm6 0h1v1.82h-1zm3 0h1v1.82h-1zm12 0h1v1.82h-1zm1 0h1v1.82h-1zm3 0h1v1.82h-1zm8 0h1v1.82h-1zm5 0h1v1.82h-1zm8 0h1v1.82h-1zm10 0h1v1.82h-1zm9 0h1v1.82h-1zm4 0h1v1.82h-1zm4 0h1v1.82h-1zm6 0h1v1.82h-1zm3 0h1v1.82h-1zm8 0h1v1.82h-1zm4 0h1v1.82h-1zm5 0h1v1.82h-1zm11 0h1v1.82h-1zm10 0h1v1.82h-1zm4 0h1v1.82h-1zm-118 2.42h1v1.82h-1zm1 0h1v1.82h-1zm1 0h1v1.82h-1zm1 0h1v1.82h-1zm3 0h1v1.82h-1zm11 0h1v1.82h-1zm1 0h1v1.82h-1zm4 0h1v1.82h-1zm1 0h1v1.82h-1zm11 0h1v1.82h-1zm3 0h1v1.82h-1zm10 0h1v1.82h-1zm15 0h1v1.82h-1zm2 0h1v1.82h-1zm5 0h1v1.82h-1zm13 0h1v1.82h-1zm2 0h1v1.82h-1zm1 0h1v1.82h-1zm9 0h1v1.82h-1zm2 0h1v1.82h-1zm2 0h1v1.82h-1zm14 0h1v1.82h-1zm3 0h1v1.82h-1zm7 0h1v1.82h-1zm-123 2.42h1v1.82h-1zm6 0h1v1.82h-1zm9 0h1v1.82h-1zm3 0h1v1.82h-1zm19 0h1v1.82h-1zm10 0h1v1.82h-1zm2 0h1v1.82h-1zm2 0h1v1.82h-1zm13 0h1v1.82h-1zm2 0h1v1.82h-1zm5 0h1v1.82h-1zm3 0h1v1.82h-1zm8 0h1v1.82h-1zm10 0h1v1.82h-1zm9 0h1v1.82h-1zm8 0h1v1.82h-1zm15 0h1v1.82h-1zm-128 2.42h1v1.82h-1zm3 0h1v1.82h-1zm4 0h1v1.82h-1zm11 0h1v1.82h-1zm1 0h1v1.82h-1zm2 0h1v1.82h-1zm5 0h1v1.82h-1zm1 0h1v1.82h-1zm1 0h1v1.82h-1zm10 0h1v1.82h-1zm2 0h1v1.82h-1zm12 0h1v1.82h-1zm4 0h1v1.82h-1zm11 0h1v1.82h-1zm6 0h1v1.82h-1zm11 0h1v1.82h-1zm6 0h1v1.82h-1zm8 0h1v1.82h-1zm6 0h1v1.82h-1zm3 0h1v1.82h-1zm8 0h1v1.82h-1zm4 0h1v1.82h-1zm8 0h1v1.82h-1zm-126 2.42h1v1.82h-1zm3 0h1v1.82h-1zm1 0h1v1.82h-1zm7 0h1v1.82h-1zm1 0h1v1.82h-1zm6 0h1v1.82h-1zm5 0h1v1.82h-1zm1 0h1v1.82h-1zm9 0h1v1.82h-1zm2 0h1v1.82h-1zm1 0h1v1.82h-1zm12 0h1v1.82h-1zm2 0h1v1.82h-1zm2 0h1v1.82h-1zm3 0h1v1.82h-1zm12 0h1v1.82h-1zm2 0h1v1.82h-1zm2 0h1v1.82h-1zm2 0h1v1.82h-1zm8 0h1v1.82h-1zm2 0h1v1.82h-1zm8 0h1v1.82h-1zm3 0h1v1.82h-1zm2 0h1v1.82h-1zm5 0h1v1.82h-1zm1 0h1v1.82h-1zm3 0h1v1.82h-1zm11 0h1v1.82h-1zm3 0h1v1.82h-1zm8 0h1v1.82h-1zm-129 2.42h1v1.82h-1zm15 0h1v1.82h-1zm2 0h1v1.82h-1zm2 0h1v1.82h-1zm5 0h1v1.82h-1zm13 0h1v1.82h-1zm1 0h1v1.82h-1zm45 0h1v1.82h-1zm9 0h1v1.82h-1zm11 0h1v1.82h-1zm5 0h1v1.82h-1zm11 0h1v1.82h-1zm-119 2.42h1v1.82h-1zm4 0h1v1.82h-1zm1 0h1v1.82h-1zm4 0h1v1.82h-1zm4 0h1v1.82h-1zm1 0h1v1.82h-1zm1 0h1v1.82h-1zm8 0h1v1.82h-1zm6 0h1v1.82h-1zm1 0h1v1.82h-1zm5 0h1v1.82h-1zm1 0h1v1.82h-1zm12 0h1v1.82h-1zm2 0h1v1.82h-1zm2 0h1v1.82h-1zm4 0h1v1.82h-1zm6 0h1v1.82h-1zm17 0h1v1.82h-1zm9 0h1v1.82h-1zm25 0h1v1.82h-1zm8 0h1v1.82h-1zm8 0h1v1.82h-1zm-127 2.42h1v1.82h-1zm5 0h1v1.82h-1zm2 0h1v1.82h-1zm6 0h1v1.82h-1zm2 0h1v1.82h-1zm5 0h1v1.82h-1zm6 0h1v1.82h-1zm1 0h1v1.82h-1zm18 0h1v1.82h-1zm2 0h1v1.82h-1zm1 0h1v1.82h-1zm1 0h1v1.82h-1zm2 0h1v1.82h-1zm24 0h1v1.82h-1zm15 0h1v1.82h-1zm3 0h1v1.82h-1zm3 0h1v1.82h-1zm15 0h1v1.82h-1zm2 0h1v1.82h-1zm8 0h1v1.82h-1zm-122 2.42h1v1.82h-1zm9 0h1v1.82h-1zm16 0h1v1.82h-1zm4 0h1v1.82h-1zm4 0h1v1.82h-1zm14 0h1v1.82h-1zm6 0h1v1.82h-1zm3 0h1v1.82h-1zm6 0h1v1.82h-1zm18 0h1v1.82h-1zm6 0h1v1.82h-1zm4 0h1v1.82h-1zm3 0h1v1.82h-1zm1 0h1v1.82h-1zm6 0h1v1.82h-1zm1 0h1v1.82h-1zm5 0h1v1.82h-1zm8 0h1v1.82h-1zm2 0h1v1.82h-1zm8 0h1v1.82h-1zm-118 2.42h1v1.82h-1zm4 0h1v1.82h-1zm2 0h1v1.82h-1zm32 0h1v1.82h-1zm2 0h1v1.82h-1zm2 0h1v1.82h-1zm5 0h1v1.82h-1zm12 0h1v1.82h-1zm11 0h1v1.82h-1zm3 0h1v1.82h-1zm6 0h1v1.82h-1zm7 0h1v1.82h-1zm7 0h1v1.82h-1zm3 0h1v1.82h-1zm12 0h1v1.82h-1zm1 0h1v1.82h-1zm3 0h1v1.82h-1zm-120 2.42h1v1.82h-1zm6 0h1v1.82h-1zm3 0h1v1.82h-1zm3 0h1v1.82h-1zm10 0h1v1.82h-1zm4 0h1v1.82h-1zm21 0h1v1.82h-1zm2 0h1v1.82h-1zm10 0h1v1.82h-1zm1 0h1v1.82h-1zm5 0h1v1.82h-1zm17 0h1v1.82h-1zm11 0h1v1.82h-1zm4 0h1v1.82h-1zm16 0h1v1.82h-1zm1 0h1v1.82h-1zm3 0h1v1.82h-1zm3 0h1v1.82h-1zm1 0h1v1.82h-1zm-120 2.42h1v1.82h-1zm3 0h1v1.82h-1zm3 0h1v1.82h-1zm2 0h1v1.82h-1zm5 0h1v1.82h-1zm11 0h1v1.82h-1zm1 0h1v1.82h-1zm6 0h1v1.82h-1zm12 0h1v1.82h-1zm2 0h1v1.82h-1zm2 0h1v1.82h-1zm4 0h1v1.82h-1zm29 0h1v1.82h-1zm11 0h1v1.82h-1zm3 0h1v1.82h-1zm3 0h1v1.82h-1zm9 0h1v1.82h-1zm1 0h1v1.82h-1zm8 0h1v1.82h-1zm5 0h1v1.82h-1zm2 0h1v1.82h-1zm-119 2.42h1v1.82h-1zm3 0h1v1.82h-1zm8 0h1v1.82h-1zm6 0h1v1.82h-1zm6 0h1v1.82h-1zm3 0h1v1.82h-1zm13 0h1v1.82h-1zm2 0h1v1.82h-1zm4 0h1v1.82h-1zm7 0h1v1.82h-1zm5 0h1v1.82h-1zm8 0h1v1.82h-1zm12 0h1v1.82h-1zm3 0h1v1.82h-1zm2 0h1v1.82h-1zm5 0h1v1.82h-1zm3 0h1v1.82h-1zm1 0h1v1.82h-1zm2 0h1v1.82h-1zm2 0h1v1.82h-1zm4 0h1v1.82h-1zm2 0h1v1.82h-1zm1 0h1v1.82h-1zm3 0h1v1.82h-1zm3 0h1v1.82h-1zm13 0h1v1.82h-1zm-119 2.42h1v1.82h-1zm17 0h1v1.82h-1zm2 0h1v1.82h-1zm4 0h1v1.82h-1zm15 0h1v1.82h-1zm2 0h1v1.82h-1zm8 0h1v1.82h-1zm1 0h1v1.82h-1zm1 0h1v1.82h-1zm11 0h1v1.82h-1zm34 0h1v1.82h-1zm1 0h1v1.82h-1zm6 0h1v1.82h-1zm2 0h1v1.82h-1zm2 0h1v1.82h-1zm1 0h1v1.82h-1zm3 0h1v1.82h-1zm11 0h1v1.82h-1zm-121 2.42h1v1.82h-1zm3 0h1v1.82h-1zm11 0h1v1.82h-1zm6 0h1v1.82h-1zm1 0h1v1.82h-1zm16 0h1v1.82h-1zm2 0h1v1.82h-1zm23 0h1v1.82h-1zm1 0h1v1.82h-1zm2 0h1v1.82h-1zm13 0h1v1.82h-1zm3 0h1v1.82h-1zm15 0h1v1.82h-1zm3 0h1v1.82h-1zm5 0h1v1.82h-1zm1 0h1v1.82h-1zm2 0h1v1.82h-1zm1 0h1v1.82h-1zm10 0h1v1.82h-1zm5 0h1v1.82h-1zm-118 2.42h1v1.82h-1zm6 0h1v1.82h-1zm23 0h1v1.82h-1zm4 0h1v1.82h-1zm2 0h1v1.82h-1zm3 0h1v1.82h-1zm4 0h1v1.82h-1zm1 0h1v1.82h-1zm1 0h1v1.82h-1zm1 0h1v1.82h-1zm8 0h1v1.82h-1zm5 0h1v1.82h-1zm1 0h1v1.82h-1zm1 0h1v1.82h-1zm1 0h1v1.82h-1zm1 0h1v1.82h-1zm1 0h1v1.82h-1zm11 0h1v1.82h-1zm20 0h1v1.82h-1zm1 0h1v1.82h-1zm24 0h1v1.82h-1zm-121 2.42h1v1.82h-1zm7 0h1v1.82h-1zm3 0h1v1.82h-1zm3 0h1v1.82h-1zm2 0h1v1.82h-1zm2 0h1v1.82h-1zm19 0h1v1.82h-1zm5 0h1v1.82h-1zm4 0h1v1.82h-1zm8 0h1v1.82h-1zm7 0h1v1.82h-1zm17 0h1v1.82h-1zm10 0h1v1.82h-1zm6 0h1v1.82h-1zm25 0h1v1.82h-1zm1 0h1v1.82h-1zm-128 2.42h1v1.82h-1zm3 0h1v1.82h-1zm4 0h1v1.82h-1zm8 0h1v1.82h-1zm2 0h1v1.82h-1zm7 0h1v1.82h-1zm14 0h1v1.82h-1zm2 0h1v1.82h-1zm2 0h1v1.82h-1zm2 0h1v1.82h-1zm6 0h1v1.82h-1zm2 0h1v1.82h-1zm16 0h1v1.82h-1zm31 0h1v1.82h-1zm6 0h1v1.82h-1zm2 0h1v1.82h-1zm12 0h1v1.82h-1zm1 0h1v1.82h-1zm2 0h1v1.82h-1zm2 0h1v1.82h-1zm4 0h1v1.82h-1zm-126 2.42h1v1.82h-1zm8 0h1v1.82h-1zm9 0h1v1.82h-1zm1 0h1v1.82h-1zm2 0h1v1.82h-1zm3 0h1v1.82h-1zm14 0h1v1.82h-1zm11 0h1v1.82h-1zm8 0h1v1.82h-1zm3 0h1v1.82h-1zm1 0h1v1.82h-1zm6 0h1v1.82h-1zm1 0h1v1.82h-1zm19 0h1v1.82h-1zm2 0h1v1.82h-1zm1 0h1v1.82h-1zm5 0h1v1.82h-1zm13 0h1v1.82h-1zm2 0h1v1.82h-1zm12 0h1v1.82h-1zm4 0h1v1.82h-1zm2 0h1v1.82h-1zm1 0h1v1.82h-1zm-123 2.42h1v1.82h-1zm5 0h1v1.82h-1zm12 0h1v1.82h-1zm12 0h1v1.82h-1zm2 0h1v1.82h-1zm2 0h1v1.82h-1zm5 0h1v1.82h-1zm11 0h1v1.82h-1zm5 0h1v1.82h-1zm15 0h1v1.82h-1zm20 0h1v1.82h-1zm5 0h1v1.82h-1zm2 0h1v1.82h-1zm6 0h1v1.82h-1zm2 0h1v1.82h-1zm6 0h1v1.82h-1zm3 0h1v1.82h-1zm-115 2.42h1v1.82h-1zm2 0h1v1.82h-1zm3 0h1v1.82h-1zm2 0h1v1.82h-1zm4 0h1v1.82h-1zm1 0h1v1.82h-1zm1 0h1v1.82h-1zm4 0h1v1.82h-1zm15 0h1v1.82h-1zm2 0h1v1.82h-1zm1 0h1v1.82h-1zm5 0h1v1.82h-1zm2 0h1v1.82h-1zm8 0h1v1.82h-1zm7 0h1v1.82h-1zm4 0h1v1.82h-1zm5 0h1v1.82h-1zm23 0h1v1.82h-1zm11 0h1v1.82h-1zm1 0h1v1.82h-1zm2 0h1v1.82h-1zm14 0h1v1.82h-1zm4 0h1v1.82h-1zm-120 2.42h1v1.82h-1zm1 0h1v1.82h-1zm3 0h1v1.82h-1zm10 0h1v1.82h-1zm14 0h1v1.82h-1zm2 0h1v1.82h-1zm9 0h1v1.82h-1zm16 0h1v1.82h-1zm7 0h1v1.82h-1zm2 0h1v1.82h-1zm6 0h1v1.82h-1zm3 0h1v1.82h-1zm12 0h1v1.82h-1zm17 0h1v1.82h-1zm2 0h1v1.82h-1zm9 0h1v1.82h-1zm1 0h1v1.82h-1zm-119 2.42h1v1.82h-1zm2 0h1v1.82h-1zm4 0h1v1.82h-1zm8 0h1v1.82h-1zm7 0h1v1.82h-1zm13 0h1v1.82h-1zm5 0h1v1.82h-1zm3 0h1v1.82h-1zm8 0h1v1.82h-1zm10 0h1v1.82h-1zm2 0h1v1.82h-1zm1 0h1v1.82h-1zm5 0h1v1.82h-1zm2 0h1v1.82h-1zm25 0h1v1.82h-1zm8 0h1v1.82h-1zm1 0h1v1.82h-1zm5 0h1v1.82h-1zm1 0h1v1.82h-1zm1 0h1v1.82h-1zm3 0h1v1.82h-1zm-107 2.42h1v1.82h-1zm6 0h1v1.82h-1zm6 0h1v1.82h-1zm12 0h1v1.82h-1zm4 0h1v1.82h-1zm2 0h1v1.82h-1zm3 0h1v1.82h-1zm2 0h1v1.82h-1zm6 0h1v1.82h-1zm4 0h1v1.82h-1zm2 0h1v1.82h-1zm11 0h1v1.82h-1zm2 0h1v1.82h-1zm2 0h1v1.82h-1zm3 0h1v1.82h-1zm8 0h1v1.82h-1zm13 0h1v1.82h-1zm1 0h1v1.82h-1zm2 0h1v1.82h-1zm2 0h1v1.82h-1zm3 0h1v1.82h-1zm2 0h1v1.82h-1zm6 0h1v1.82h-1zm2 0h1v1.82h-1zm7 0h1v1.82h-1zm1 0h1v1.82h-1zm1 0h1v1.82h-1zm-121 2.42h1v1.82h-1zm3 0h1v1.82h-1zm11 0h1v1.82h-1zm17 0h1v1.82h-1zm2 0h1v1.82h-1zm2 0h1v1.82h-1zm4 0h1v1.82h-1zm8 0h1v1.82h-1zm5 0h1v1.82h-1zm2 0h1v1.82h-1zm7 0h1v1.82h-1zm2 0h1v1.82h-1zm3 0h1v1.82h-1zm4 0h1v1.82h-1zm1 0h1v1.82h-1zm9 0h1v1.82h-1zm2 0h1v1.82h-1zm1 0h1v1.82h-1zm11 0h1v1.82h-1zm11 0h1v1.82h-1zm3 0h1v1.82h-1zm1 0h1v1.82h-1zm3 0h1v1.82h-1zm2 0h1v1.82h-1zm1 0h1v1.82h-1zm6 0h1v1.82h-1zm-116 2.42h1v1.82h-1zm10 0h1v1.82h-1zm15 0h1v1.82h-1zm4 0h1v1.82h-1zm29 0h1v1.82h-1zm21 0h1v1.82h-1zm14 0h1v1.82h-1zm11 0h1v1.82h-1zm1 0h1v1.82h-1zm4 0h1v1.82h-1zm9 0h1v1.82h-1zm-123 2.42h1v1.82h-1zm16 0h1v1.82h-1zm17 0h1v1.82h-1zm3 0h1v1.82h-1zm8 0h1v1.82h-1zm10 0h1v1.82h-1zm8 0h1v1.82h-1zm7 0h1v1.82h-1zm29 0h1v1.82h-1zm2 0h1v1.82h-1zm15 0h1v1.82h-1zm4 0h1v1.82h-1zm11 0h1v1.82h-1zm-129 2.42h1v1.82h-1zm4 0h1v1.82h-1zm6 0h1v1.82h-1zm3 0h1v1.82h-1zm14 0h1v1.82h-1zm2 0h1v1.82h-1zm2 0h1v1.82h-1zm2 0h1v1.82h-1zm11 0h1v1.82h-1zm1 0h1v1.82h-1zm5 0h1v1.82h-1zm2 0h1v1.82h-1zm2 0h1v1.82h-1zm4 0h1v1.82h-1zm9 0h1v1.82h-1zm15 0h1v1.82h-1zm3 0h1v1.82h-1zm22 0h1v1.82h-1zm4 0h1v1.82h-1zm17 0h1v1.82h-1zm-129 2.42h1v1.82h-1zm2 0h1v1.82h-1zm1 0h1v1.82h-1zm2 0h1v1.82h-1zm22 0h1v1.82h-1zm13 0h1v1.82h-1zm12 0h1v1.82h-1zm3 0h1v1.82h-1zm5 0h1v1.82h-1zm3 0h1v1.82h-1zm1 0h1v1.82h-1zm3 0h1v1.82h-1zm1 0h1v1.82h-1zm2 0h1v1.82h-1zm3 0h1v1.82h-1zm2 0h1v1.82h-1zm28 0h1v1.82h-1zm5 0h1v1.82h-1zm9 0h1v1.82h-1zm1 0h1v1.82h-1zm10 0h1v1.82h-1zm-127 2.42h1v1.82h-1zm5 0h1v1.82h-1zm7 0h1v1.82h-1zm13 0h1v1.82h-1zm2 0h1v1.82h-1zm10 0h1v1.82h-1zm9 0h1v1.82h-1zm4 0h1v1.82h-1zm4 0h1v1.82h-1zm2 0h1v1.82h-1zm1 0h1v1.82h-1zm6 0h1v1.82h-1zm3 0h1v1.82h-1zm2 0h1v1.82h-1zm6 0h1v1.82h-1zm11 0h1v1.82h-1zm2 0h1v1.82h-1zm12 0h1v1.82h-1zm5 0h1v1.82h-1zm3 0h1v1.82h-1zm19 0h1v1.82h-1zm-123 2.42h1v1.82h-1zm2 0h1v1.82h-1zm2 0h1v1.82h-1zm17 0h1v1.82h-1zm2 0h1v1.82h-1zm9 0h1v1.82h-1zm4 0h1v1.82h-1zm5 0h1v1.82h-1zm1 0h1v1.82h-1zm2 0h1v1.82h-1zm3 0h1v1.82h-1zm6 0h1v1.82h-1zm1 0h1v1.82h-1zm1 0h1v1.82h-1zm10 0h1v1.82h-1zm14 0h1v1.82h-1zm3 0h1v1.82h-1zm1 0h1v1.82h-1zm16 0h1v1.82h-1zm13 0h1v1.82h-1zm10 0h1v1.82h-1zm-121 2.42h1v1.82h-1zm21 0h1v1.82h-1zm1 0h1v1.82h-1zm8 0h1v1.82h-1zm2 0h1v1.82h-1zm4 0h1v1.82h-1zm1 0h1v1.82h-1zm7 0h1v1.82h-1zm1 0h1v1.82h-1zm7 0h1v1.82h-1zm2 0h1v1.82h-1zm1 0h1v1.82h-1zm1 0h1v1.82h-1zm12 0h1v1.82h-1zm1 0h1v1.82h-1zm9 0h1v1.82h-1zm6 0h1v1.82h-1zm17 0h1v1.82h-1zm5 0h1v1.82h-1zm4 0h1v1.82h-1zm-106 2.42h1v1.82h-1zm1 0h1v1.82h-1zm13 0h1v1.82h-1zm10 0h1v1.82h-1zm8 0h1v1.82h-1zm4 0h1v1.82h-1zm9 0h1v1.82h-1zm10 0h1v1.82h-1zm2 0h1v1.82h-1zm3 0h1v1.82h-1zm6 0h1v1.82h-1zm2 0h1v1.82h-1zm3 0h1v1.82h-1zm6 0h1v1.82h-1zm2 0h1v1.82h-1zm3 0h1v1.82h-1zm14 0h1v1.82h-1zm5 0h1v1.82h-1zm14 0h1v1.82h-1zm6 0h1v1.82h-1zm-124 2.42h1v1.82h-1zm23 0h1v1.82h-1zm2 0h1v1.82h-1zm4 0h1v1.82h-1zm4 0h1v1.82h-1zm4 0h1v1.82h-1zm2 0h1v1.82h-1zm1 0h1v1.82h-1zm3 0h1v1.82h-1zm10 0h1v1.82h-1zm6 0h1v1.82h-1zm7 0h1v1.82h-1zm7 0h1v1.82h-1zm5 0h1v1.82h-1zm20 0h1v1.82h-1zm4 0h1v1.82h-1zm1 0h1v1.82h-1zm2 0h1v1.82h-1zm12 0h1v1.82h-1zm6 0h1v1.82h-1zm-108 2.42h1v1.82h-1zm6 0h1v1.82h-1zm6 0h1v1.82h-1zm2 0h1v1.82h-1zm5 0h1v1.82h-1zm5 0h1v1.82h-1zm13 0h1v1.82h-1zm2 0h1v1.82h-1zm8 0h1v1.82h-1zm2 0h1v1.82h-1zm4 0h1v1.82h-1zm1 0h1v1.82h-1zm10 0h1v1.82h-1zm5 0h1v1.82h-1zm15 0h1v1.82h-1zm1 0h1v1.82h-1zm1 0h1v1.82h-1zm2 0h1v1.82h-1zm5 0h1v1.82h-1zm8 0h1v1.82h-1zm1 0h1v1.82h-1zm-123 2.42h1v1.82h-1zm23 0h1v1.82h-1zm11 0h1v1.82h-1zm2 0h1v1.82h-1zm1 0h1v1.82h-1zm4 0h1v1.82h-1zm3 0h1v1.82h-1zm10 0h1v1.82h-1zm1 0h1v1.82h-1zm6 0h1v1.82h-1zm1 0h1v1.82h-1zm1 0h1v1.82h-1zm5 0h1v1.82h-1zm7 0h1v1.82h-1zm12 0h1v1.82h-1zm6 0h1v1.82h-1zm15 0h1v1.82h-1zm13 0h1v1.82h-1zm8 0h1v1.82h-1zm-122 2.42h1v1.82h-1zm12 0h1v1.82h-1zm4 0h1v1.82h-1zm2 0h1v1.82h-1zm17 0h1v1.82h-1zm3 0h1v1.82h-1zm3 0h1v1.82h-1zm2 0h1v1.82h-1zm57 0h1v1.82h-1zm3 0h1v1.82h-1zm10 0h1v1.82h-1zm10 0h1v1.82h-1zm-110 2.42h1v1.82h-1zm5 0h1v1.82h-1zm1 0h1v1.82h-1zm8 0h1v1.82h-1zm14 0h1v1.82h-1zm15 0h1v1.82h-1zm9 0h1v1.82h-1zm1 0h1v1.82h-1zm2 0h1v1.82h-1zm5 0h1v1.82h-1zm2 0h1v1.82h-1zm6 0h1v1.82h-1zm3 0h1v1.82h-1zm3 0h1v1.82h-1zm2 0h1v1.82h-1zm23 0h1v1.82h-1zm-113 2.42h1v1.82h-1zm1 0h1v1.82h-1zm10 0h1v1.82h-1zm1 0h1v1.82h-1zm2 0h1v1.82h-1zm3 0h1v1.82h-1zm7 0h1v1.82h-1zm2 0h1v1.82h-1zm24 0h1v1.82h-1zm19 0h1v1.82h-1zm1 0h1v1.82h-1zm2 0h1v1.82h-1zm40 0h1v1.82h-1zm11 0h1v1.82h-1zm1 0h1v1.82h-1zm-124 2.42h1v1.82h-1zm14 0h1v1.82h-1zm10 0h1v1.82h-1zm6 0h1v1.82h-1zm4 0h1v1.82h-1zm34 0h1v1.82h-1zm6 0h1v1.82h-1zm3 0h1v1.82h-1zm3 0h1v1.82h-1zm6 0h1v1.82h-1zm5 0h1v1.82h-1zm20 0h1v1.82h-1zm13 0h1v1.82h-1zm-128 2.42h1v1.82h-1zm3 0h1v1.82h-1zm10 0h1v1.82h-1zm2 0h1v1.82h-1zm4 0h1v1.82h-1zm8 0h1v1.82h-1zm10 0h1v1.82h-1zm9 0h1v1.82h-1zm2 0h1v1.82h-1zm10 0h1v1.82h-1zm3 0h1v1.82h-1zm2 0h1v1.82h-1zm19 0h1v1.82h-1zm4 0h1v1.82h-1zm28 0h1v1.82h-1zm11 0h1v1.82h-1zm1 0h1v1.82h-1zm1 0h1v1.82h-1zm-128 2.42h1v1.82h-1zm15 0h1v1.82h-1zm2 0h1v1.82h-1zm2 0h1v1.82h-1zm1 0h1v1.82h-1zm2 0h1v1.82h-1zm2 0h1v1.82h-1zm7 0h1v1.82h-1zm3 0h1v1.82h-1zm4 0h1v1.82h-1zm26 0h1v1.82h-1zm2 0h1v1.82h-1zm6 0h1v1.82h-1zm6 0h1v1.82h-1zm3 0h1v1.82h-1zm3 0h1v1.82h-1zm9 0h1v1.82h-1zm1 0h1v1.82h-1zm20 0h1v1.82h-1zm5 0h1v1.82h-1zm2 0h1v1.82h-1zm4 0h1v1.82h-1zm-124 2.42h1v1.82h-1zm17 0h1v1.82h-1zm5 0h1v1.82h-1zm5 0h1v1.82h-1zm29 0h1v1.82h-1zm1 0h1v1.82h-1zm6 0h1v1.82h-1zm2 0h1v1.82h-1zm2 0h1v1.82h-1zm12 0h1v1.82h-1zm1 0h1v1.82h-1zm4 0h1v1.82h-1zm4 0h1v1.82h-1zm3 0h1v1.82h-1zm3 0h1v1.82h-1zm1 0h1v1.82h-1zm17 0h1v1.82h-1zm8 0h1v1.82h-1zm8 0h1v1.82h-1zm-126 2.42h1v1.82h-1zm7 0h1v1.82h-1zm8 0h1v1.82h-1zm5 0h1v1.82h-1zm9 0h1v1.82h-1zm9 0h1v1.82h-1zm3 0h1v1.82h-1zm2 0h1v1.82h-1zm1 0h1v1.82h-1zm2 0h1v1.82h-1zm6 0h1v1.82h-1zm1 0h1v1.82h-1zm7 0h1v1.82h-1zm1 0h1v1.82h-1zm5 0h1v1.82h-1zm22 0h1v1.82h-1zm1 0h1v1.82h-1zm25 0h1v1.82h-1zm-106 2.42h1v1.82h-1zm2 0h1v1.82h-1zm11 0h1v1.82h-1zm12 0h1v1.82h-1zm7 0h1v1.82h-1zm14 0h1v1.82h-1zm18 0h1v1.82h-1zm5 0h1v1.82h-1zm1 0h1v1.82h-1zm5 0h1v1.82h-1zm5 0h1v1.82h-1zm3 0h1v1.82h-1zm16 0h1v1.82h-1zm6 0h1v1.82h-1zm2 0h1v1.82h-1zm8 0h1v1.82h-1zm1 0h1v1.82h-1z"/>
<path fill="#939393" d="M249 190.40h1v1.82h-1zm5 0h1v1.82h-1zm4 0h1v1.82h-1zm-40 2.42h1v1.82h-1zm29 0h1v1.82h-1zm7 0h1v1.82h-1zm2 0h1v1.82h-1zm4 0h1v1.82h-1zm-19 2.42h1v1.82h-1zm4 0h1v1.82h-1zm12 0h1v1.82h-1zm2 0h1v1.82h-1zm4 0h1v1.82h-1zm-54 2.42h1v1.82h-1zm13 0h1v1.82h-1zm17 0h1v1.82h-1zm4 0h1v1.82h-1zm-43 2.42h1v1.82h-1zm21 0h1v1.82h-1zm16 0h1v1.82h-1zm4 0h1v1.82h-1zm20 0h1v1.82h-1zm8 0h1v1.82h-1zm-47 2.42h1v1.82h-1zm18 0h1v1.82h-1zm27 0h1v1.82h-1zm-96 2.42h1v1.82h-1zm63 0h1v1.82h-1zm4 0h1v1.82h-1zm31 0h1v1.82h-1zm-74 2.42h1v1.82h-1zm41 0h1v1.82h-1zm29 0h1v1.82h-1zm2 0h1v1.82h-1zm-73 2.42h1v1.82h-1zm10 0h1v1.82h-1zm21 0h1v1.82h-1zm2 0h1v1.82h-1zm3 0h1v1.82h-1zm2 0h1v1.82h-1zm2 0h1v1.82h-1zm34 0h1v1.82h-1zm-42 2.42h1v1.82h-1zm2 0h1v1.82h-1zm4 0h1v1.82h-1zm38 0h1v1.82h-1zm4 0h1v1.82h-1zm-46 2.42h1v1.82h-1zm2 0h1v1.82h-1zm42 0h1v1.82h-1zm-42 2.42h1v1.82h-1zm48 0h1v1.82h-1zm-88 2.42h1v1.82h-1zm9 2.42h1v1.82h-1zm22 0h1v1.82h-1zm12 0h1v1.82h-1zm44 0h1v1.82h-1zm4 0h1v1.82h-1zm-58 2.42h1v1.82h-1zm11 0h1v1.82h-1zm45 0h1v1.82h-1zm4 0h1v1.82h-1zm-66 2.42h1v1.82h-1zm4 0h1v1.82h-1zm60 0h1v1.82h-1zm2 0h1v1.82h-1zm-97 2.42h1v1.82h-1zm29 0h1v1.82h-1zm21 0h1v1.82h-1zm47 0h1v1.82h-1zm-88 2.42h1v1.82h-1zm42 0h1v1.82h-1zm-41 2.42h1v1.82h-1zm20 0h1v1.82h-1zm22 0h1v1.82h-1zm-45 2.42h1v1.82h-1zm17 0h1v1.82h-1zm4 0h1v1.82h-1zm-12 2.42h1v1.82h-1zm10 0h1v1.82h-1zm28 0h1v1.82h-1zm-49 2.42h1v1.82h-1zm15 0h1v1.82h-1zm4 0h1v1.82h-1zm-6 2.42h1v1.82h-1zm4 0h1v1.82h-1zm-19 2.42h1v1.82h-1zm14 0h1v1.82h-1zm4 0h1v1.82h-1zm-20 4.84h1v1.82h-1zm12 0h1v1.82h-1zm4 0h1v1.82h-1zm43 0h1v1.82h-1zm-45 2.42h1v1.82h-1zm46 0h1v1.82h-1zm-52 2.42h1v1.82h-1zm-9 2.42h1v1.82h-1zm6 0h1v1.82h-1zm2 0h1v1.82h-1zm4 0h1v1.82h-1zm51 0h1v1.82h-1zm-64 2.42h1v1.82h-1zm11 0h1v1.82h-1zm-6 2.42h1v1.82h-1zm2 0h1v1.82h-1zm2 0h1v1.82h-1zm23 0h1v1.82h-1zm-34 2.42h1v1.82h-1zm9 0h1v1.82h-1zm56 0h1v1.82h-1zm-62 2.42h1v1.82h-1zm63 0h1v1.82h-1zm34 0h1v1.82h-1zm-95 2.42h1v1.82h-1zm62 0h1v1.82h-1zm4 0h1v1.82h-1zm7 0h1v1.82h-1zm-83 2.42h1v1.82h-1zm9 0h1v1.82h-1zm36 0h1v1.82h-1zm28 0h1v1.82h-1zm-72 4.84h1v1.82h-1zm-2 2.42h1v1.82h-1zm-3 2.42h1v1.82h-1zm1 0h1v1.82h-1zm4 0h1v1.82h-1zm77 0h1v1.82h-1zm4 0h1v1.82h-1zm16 0h1v1.82h-1zm-101 2.42h1v1.82h-1zm100 0h1v1.82h-1zm-13 2.42h1v1.82h-1zm12 0h1v1.82h-1zm-111 2.42h1v1.82h-1zm110 0h1v1.82h-1zm-119 2.42h1v1.82h-1zm16 0h1v1.82h-1zm2 0h1v1.82h-1zm88 0h1v1.82h-1zm12 0h1v1.82h-1zm4 0h1v1.82h-1zm-115 2.42h1v1.82h-1zm114 0h1v1.82h-1zm-107 2.42h1v1.82h-1zm22 0h1v1.82h-1zm-22 2.42h1v1.82h-1zm105 0h1v1.82h-1zm-106 2.42h1v1.82h-1zm-3 2.42h1v1.82h-1z"/>
<path fill="#9b9b9b" d="M245 190.40h1v1.82h-1zm2 0h1v1.82h-1zm9 0h1v1.82h-1zm2 2.42h1v1.82h-1zm-15 2.42h1v1.82h-1zm18 0h1v1.82h-1zm-20 2.42h1v1.82h-1zm18 0h1v1.82h-1zm2 0h1v1.82h-1zm2 0h1v1.82h-1zm0 2.42h1v1.82h-1zm2 0h1v1.82h-1zm-66 2.42h1v1.82h-1zm37 0h1v1.82h-1zm27 0h1v1.82h-1zm-65 2.42h1v1.82h-1zm38 0h1v1.82h-1zm29 0h1v1.82h-1zm2 0h1v1.82h-1zm-35 2.42h1v1.82h-1zm2 0h1v1.82h-1zm37 0h1v1.82h-1zm-75 2.42h1v1.82h-1zm74 0h1v1.82h-1zm2 0h1v1.82h-1zm-79 2.42h1v1.82h-1zm37 0h1v1.82h-1zm-38 2.42h1v1.82h-1zm84 0h1v1.82h-1zm-48 2.42h1v1.82h-1zm46 0h1v1.82h-1zm2 0h1v1.82h-1zm-45 2.42h1v1.82h-1zm45 0h1v1.82h-1zm2 0h1v1.82h-1zm2 0h1v1.82h-1zm-91 2.42h1v1.82h-1zm90 0h1v1.82h-1zm-91 2.42h1v1.82h-1zm31 0h1v1.82h-1zm2 0h1v1.82h-1zm60 0h1v1.82h-1zm-64 4.84h1v1.82h-1zm2 0h1v1.82h-1zm-34 2.42h1v1.82h-1zm29 0h1v1.82h-1zm2 0h1v1.82h-1zm2 0h1v1.82h-1zm-6 2.42h1v1.82h-1zm2 0h1v1.82h-1zm-2 2.42h1v1.82h-1zm27 0h1v1.82h-1zm-57 2.42h1v1.82h-1zm26 0h1v1.82h-1zm2 0h1v1.82h-1zm29 2.42h1v1.82h-1zm-33 2.42h1v1.82h-1zm36 0h1v1.82h-1zm1 2.42h1v1.82h-1zm-65 2.42h1v1.82h-1zm23 0h1v1.82h-1zm2 0h1v1.82h-1zm2 0h1v1.82h-1zm38 0h1v1.82h-1zm-1 2.42h1v1.82h-1zm-43 2.42h1v1.82h-1zm-2 2.42h1v1.82h-1zm2 0h1v1.82h-1zm45 0h1v1.82h-1zm1 2.42h1v1.82h-1zm-53 2.42h1v1.82h-1zm2 0h1v1.82h-1zm52 0h1v1.82h-1zm4 0h1v1.82h-1zm-3 2.42h1v1.82h-1zm4 0h1v1.82h-1zm-63 2.42h1v1.82h-1zm2 0h1v1.82h-1zm62 0h1v1.82h-1zm32 0h1v1.82h-1zm-114 2.42h1v1.82h-1zm18 0h1v1.82h-1zm2 0h1v1.82h-1zm61 0h1v1.82h-1zm2 0h1v1.82h-1zm-84 2.42h1v1.82h-1zm15 0h1v1.82h-1zm98 0h1v1.82h-1zm-99 2.42h1v1.82h-1zm72 0h1v1.82h-1zm-74 2.42h1v1.82h-1zm2 0h1v1.82h-1zm2 0h1v1.82h-1zm95 0h1v1.82h-1zm-99 2.42h1v1.82h-1zm73 0h1v1.82h-1zm25 0h1v1.82h-1zm2 0h1v1.82h-1zm-102 2.42h1v1.82h-1zm101 2.42h1v1.82h-1zm-117 2.42h1v1.82h-1zm94 0h1v1.82h-1zm22 0h1v1.82h-1zm-117 2.42h1v1.82h-1zm96 0h1v1.82h-1zm20 0h1v1.82h-1zm-19 2.42h1v1.82h-1zm4 0h1v1.82h-1zm14 0h1v1.82h-1zm-16 4.84h1v1.82h-1zm9 2.42h1v1.82h-1zm2 0h1v1.82h-1zm-3 2.42h1v1.82h-1zm-3 2.42h1v1.82h-1zm0 2.42h1v1.82h-1z"/>
<path fill="#a4a4a4" d="M243 192.82h1v1.82h-1zm2 0h1v1.82h-1zm-6 7.26h1v1.82h-1zm-1 2.42h1v1.82h-1zm27 0h1v1.82h-1zm-68 4.84h1v1.82h-1zm72 0h1v1.82h-1zm3 4.84h1v1.82h-1zm2 2.42h1v1.82h-1zm-83 2.42h1v1.82h-1zm2 0h1v1.82h-1zm36 2.42h1v1.82h-1zm-6 2.42h1v1.82h-1zm8 0h1v1.82h-1zm1 2.42h1v1.82h-1zm-45 2.42h1v1.82h-1zm32 0h1v1.82h-1zm14 0h1v1.82h-1zm1 2.42h1v1.82h-1zm1 2.42h1v1.82h-1zm-51 2.42h1v1.82h-1zm52 0h1v1.82h-1zm-53 2.42h1v1.82h-1zm1 2.42h1v1.82h-1zm54 0h1v1.82h-1zm-57 2.42h1v1.82h-1zm27 0h1v1.82h-1zm33 0h1v1.82h-1zm-61 2.42h1v1.82h-1zm60 0h1v1.82h-1zm-61 2.42h1v1.82h-1zm26 0h1v1.82h-1zm36 0h1v1.82h-1zm0 2.42h1v1.82h-1zm-64 2.42h1v1.82h-1zm24 0h1v1.82h-1zm43 0h1v1.82h-1zm-68 2.42h1v1.82h-1zm67 0h1v1.82h-1zm-68 2.42h1v1.82h-1zm71 0h1v1.82h-1zm-50 2.42h1v1.82h-1zm51 0h1v1.82h-1zm-75 4.84h1v1.82h-1zm77 0h1v1.82h-1zm-78 2.42h1v1.82h-1zm79 0h1v1.82h-1zm-64 4.84h1v1.82h-1zm98 0h1v1.82h-1zm-116 2.42h1v1.82h-1zm17 0h1v1.82h-1zm68 0h1v1.82h-1zm28 0h1v1.82h-1zm2 0h1v1.82h-1zm-29 2.42h1v1.82h-1zm2 0h1v1.82h-1zm-88 2.42h1v1.82h-1zm88 0h1v1.82h-1zm-91 2.42h1v1.82h-1zm90 0h1v1.82h-1zm2 0h1v1.82h-1zm22 0h1v1.82h-1zm2 0h1v1.82h-1zm-117 2.42h1v1.82h-1zm2 0h1v1.82h-1zm92 0h1v1.82h-1zm1 2.42h1v1.82h-1zm18 0h1v1.82h-1zm-113 2.42h1v1.82h-1zm96 0h1v1.82h-1zm16 0h1v1.82h-1zm-15 2.42h1v1.82h-1zm14 0h1v1.82h-1zm-113 2.42h1v1.82h-1zm112 0h1v1.82h-1zm-11 2.42h1v1.82h-1zm8 0h1v1.82h-1zm-4 4.84h1v1.82h-1zm4 0h1v1.82h-1zm-3 2.42h1v1.82h-1zm0 2.42h1v1.82h-1zm1 0h1v1.82h-1z"/>
<path fill="#adadad" d="M195 212.19h1v1.82h-1zm-1 2.42h1v1.82h-1zm-3 7.26h1v1.82h-1zm-1 2.42h1v1.82h-1zm-1 2.42h1v1.82h-1zm-1 2.42h1v1.82h-1zm-1 2.42h1v1.82h-1zm-2 4.84h1v1.82h-1zm52 0h1v1.82h-1zm-54 4.84h1v1.82h-1zm-1 2.42h1v1.82h-1zm-1 2.42h1v1.82h-1zm-1 2.42h1v1.82h-1zm55 0h1v1.82h-1zm-56 2.42h1v1.82h-1zm66 2.42h1v1.82h-1zm-71 4.84h1v1.82h-1zm2 0h1v1.82h-1zm-3 2.42h1v1.82h-1zm75 0h1v1.82h-1zm-74 2.42h1v1.82h-1zm-1 2.42h1v1.82h-1zm-1 2.42h1v1.82h-1zm-1 2.42h1v1.82h-1zm81 0h1v1.82h-1zm-82 2.42h1v1.82h-1zm-3 2.42h1v1.82h-1zm2 0h1v1.82h-1zm113 0h1v1.82h-1zm-116 2.42h1v1.82h-1zm1 2.42h1v1.82h-1zm111 2.42h1v1.82h-1zm-113 2.42h1v1.82h-1zm4 4.84h1v1.82h-1zm93 2.42h1v1.82h-1zm11 2.42h1v1.82h-1zm-107 2.42h1v1.82h-1zm104 4.84h1v1.82h-1z"/>
<path fill="#b6b6b6" d="M192 219.45h1v1.82h-1zm35 9.68h1v1.82h-1zm1 2.42h1v1.82h-1zm-42 2.42h1v1.82h-1zm43 0h1v1.82h-1zm1 2.42h1v1.82h-1zm1 2.42h1v1.82h-1zm1 2.42h1v1.82h-1zm1 2.42h1v1.82h-1zm3 7.26h1v1.82h-1zm-58 2.42h1v1.82h-1zm59 0h1v1.82h-1zm-60 2.42h1v1.82h-1zm66 0h1v1.82h-1zm1 2.42h1v1.82h-1zm-69 2.42h1v1.82h-1zm70 0h1v1.82h-1zm1 2.42h1v1.82h-1zm1 2.42h1v1.82h-1zm1 2.42h1v1.82h-1zm1 2.42h1v1.82h-1zm1 2.42h1v1.82h-1zm3 7.26h1v1.82h-1zm-82 4.84h1v1.82h-1zm84 0h1v1.82h-1zm-85 2.42h1v1.82h-1zm-2 4.84h1v1.82h-1zm-1 2.42h1v1.82h-1zm-7 4.84h1v1.82h-1zm-1 2.42h1v1.82h-1zm-1 2.42h1v1.82h-1z"/>
<path fill="#bfbfbf" d="M214 197.66h1v1.82h-1zm1 2.42h1v1.82h-1zm3 7.26h1v1.82h-1zm2 4.84h1v1.82h-1zm4 9.68h1v1.82h-1zm1 2.42h1v1.82h-1zm1 2.42h1v1.82h-1zm-33 4.84h1v1.82h-1zm41 14.53h1v1.82h-1zm-48 2.42h1v1.82h-1zm-4 9.68h1v1.82h-1zm-1 2.42h1v1.82h-1zm-2 4.84h1v1.82h-1zm-1 2.42h1v1.82h-1zm-1 2.42h1v1.82h-1zm-1 2.42h1v1.82h-1zm-1 2.42h1v1.82h-1zm76 0h1v1.82h-1zm-77 2.42h1v1.82h-1zm78 0h1v1.82h-1zm-79 2.42h1v1.82h-1zm-1 2.42h1v1.82h-1zm82 0h1v1.82h-1zm2 4.84h1v1.82h-1zm1 2.42h1v1.82h-1zm2 4.84h1v1.82h-1z"/>
<path fill="#c7c7c7" d="M212 192.82h1v1.82h-1zm-8 2.42h1v1.82h-1zm12 7.26h1v1.82h-1zm-12 2.42h1v1.82h-1zm13 0h1v1.82h-1zm2 4.84h1v1.82h-1zm2 4.84h1v1.82h-1zm1 2.42h1v1.82h-1zm1 2.42h1v1.82h-1zm-29 9.68h1v1.82h-1zm-2 4.84h1v1.82h-1zm-2 4.84h1v1.82h-1zm-1 2.42h1v1.82h-1zm-1 2.42h1v1.82h-1zm-1 2.42h1v1.82h-1zm97 0h1v1.82h-1zm-99 4.84h1v1.82h-1zm-1 2.42h1v1.82h-1zm-1 2.42h1v1.82h-1zm96 2.42h1v1.82h-1zm-99 4.84h1v1.82h-1zm96 2.42h1v1.82h-1zm-2 14.52h1v1.82h-1zm-2 4.84h1v1.82h-1zm-1 2.42h1v1.82h-1zm-13 4.84h1v1.82h-1zm10 2.42h1v1.82h-1zm-8 2.42h1v1.82h-1zm7 0h1v1.82h-1zm-6 2.42h1v1.82h-1zm5 0h1v1.82h-1zm-2 4.84h1v1.82h-1z"/>
<path fill="#d0d0d0" d="M206 190.40h1v1.82h-1zm5 0h1v1.82h-1zm-2 2.42h1v1.82h-1zm-1 2.42h1v1.82h-1zm5 0h1v1.82h-1zm-6 2.42h1v1.82h-1zm-5 2.42h1v1.82h-1zm4 0h1v1.82h-1zm-6 4.84h1v1.82h-1zm-1 2.42h1v1.82h-1zm-1 2.42h1v1.82h-1zm4 0h1v1.82h-1zm-5 2.42h1v1.82h-1zm2 0h1v1.82h-1zm2 0h1v1.82h-1zm-1 2.42h1v1.82h-1zm-1 2.42h1v1.82h-1zm-3 2.42h1v1.82h-1zm2 0h1v1.82h-1zm-5 2.42h1v1.82h-1zm2 0h1v1.82h-1zm2 0h1v1.82h-1zm-6 4.84h1v1.82h-1zm4 0h1v1.82h-1zm-5 2.42h1v1.82h-1zm0 4.84h1v1.82h-1zm1 2.42h1v1.82h-1zm-9 12.1h1v1.82h-1zm101 0h1v1.82h-1zm-1 2.42h1v1.82h-1zm-41 2.42h1v1.82h-1zm40 0h1v1.82h-1zm2 0h1v1.82h-1zm-3 2.42h1v1.82h-1zm-102 2.42h1v1.82h-1zm105 0h1v1.82h-1zm-5 2.42h1v1.82h-1zm-100 2.42h1v1.82h-1zm101 0h1v1.82h-1zm2 0h1v1.82h-1zm-38 2.42h1v1.82h-1zm32 2.42h1v1.82h-1zm4 0h1v1.82h-1zm-32 2.42h1v1.82h-1zm27 0h1v1.82h-1zm4 0h1v1.82h-1zm-5 2.42h1v1.82h-1zm4 0h1v1.82h-1zm-106 2.42h1v1.82h-1zm101 0h1v1.82h-1zm2 0h1v1.82h-1zm2 0h1v1.82h-1zm-26 2.42h1v1.82h-1zm25 0h1v1.82h-1zm-106 2.42h1v1.82h-1zm82 0h1v1.82h-1zm-83 2.42h1v1.82h-1zm84 0h1v1.82h-1zm21 0h1v1.82h-1zm-20 2.42h1v1.82h-1zm15 0h1v1.82h-1zm1 2.42h1v1.82h-1zm-104 2.42h1v1.82h-1zm105 0h1v1.82h-1zm-5 2.42h1v1.82h-1zm4 0h1v1.82h-1zm-106 2.42h1v1.82h-1zm-1 4.84h1v1.82h-1zm97 0h1v1.82h-1zm6 2.42h1v1.82h-1zm-4 2.42h1v1.82h-1z"/>
<path fill="#d9d9d9" d="M208 190.40h1v1.82h-1zm2 0h1v1.82h-1zm3 0h1v1.82h-1zm2 0h1v1.82h-1zm-10 2.42h1v1.82h-1zm2 0h1v1.82h-1zm7 0h1v1.82h-1zm2 0h1v1.82h-1zm-10 2.42h1v1.82h-1zm9 0h1v1.82h-1zm2 0h1v1.82h-1zm-14 2.42h1v1.82h-1zm13 0h1v1.82h-1zm2 0h1v1.82h-1zm-14 2.42h1v1.82h-1zm13 0h1v1.82h-1zm2 0h1v1.82h-1zm-18 2.42h1v1.82h-1zm2 0h1v1.82h-1zm2 0h1v1.82h-1zm13 0h1v1.82h-1zm2 0h1v1.82h-1zm-18 2.42h1v1.82h-1zm17 0h1v1.82h-1zm2 0h1v1.82h-1zm-20 2.42h1v1.82h-1zm2 0h1v1.82h-1zm17 0h1v1.82h-1zm2 0h1v1.82h-1zm-22 2.42h1v1.82h-1zm23 0h1v1.82h-1zm-1 2.42h1v1.82h-1zm2 0h1v1.82h-1zm-28 2.42h1v1.82h-1zm27 0h1v1.82h-1zm2 0h1v1.82h-1zm-30 2.42h1v1.82h-1zm2 0h1v1.82h-1zm27 0h1v1.82h-1zm2 0h1v1.82h-1zm-32 2.42h1v1.82h-1zm31 0h1v1.82h-1zm1 2.42h1v1.82h-1zm2 0h1v1.82h-1zm-36 2.42h1v1.82h-1zm2 0h1v1.82h-1zm2 0h1v1.82h-1zm31 0h1v1.82h-1zm2 0h1v1.82h-1zm-1 2.42h1v1.82h-1zm2 0h1v1.82h-1zm1 2.42h1v1.82h-1zm-42 2.42h1v1.82h-1zm41 0h1v1.82h-1zm2 0h1v1.82h-1zm-44 2.42h1v1.82h-1zm43 0h1v1.82h-1zm1 2.42h1v1.82h-1zm2 0h1v1.82h-1zm-48 2.42h1v1.82h-1zm2 0h1v1.82h-1zm45 0h1v1.82h-1zm2 0h1v1.82h-1zm-50 2.42h1v1.82h-1zm2 0h1v1.82h-1zm49 0h1v1.82h-1zm-52 2.42h1v1.82h-1zm51 0h1v1.82h-1zm2 0h1v1.82h-1zm-54 2.42h1v1.82h-1zm2 0h1v1.82h-1zm53 0h1v1.82h-1zm-1 2.42h1v1.82h-1zm-56 2.42h1v1.82h-1zm2 0h1v1.82h-1zm55 0h1v1.82h-1zm2 0h1v1.82h-1zm-58 2.42h1v1.82h-1zm-3 2.42h1v1.82h-1zm60 0h1v1.82h-1zm2 0h1v1.82h-1zm41 0h1v1.82h-1zm2 0h1v1.82h-1zm-104 2.42h1v1.82h-1zm60 0h1v1.82h-1zm2 0h1v1.82h-1zm39 0h1v1.82h-1zm-104 2.42h1v1.82h-1zm2 0h1v1.82h-1zm62 0h1v1.82h-1zm2 0h1v1.82h-1zm37 0h1v1.82h-1zm2 0h1v1.82h-1zm-106 2.42h1v1.82h-1zm66 0h1v1.82h-1zm2 0h1v1.82h-1zm33 0h1v1.82h-1zm-102 2.42h1v1.82h-1zm2 0h1v1.82h-1zm68 0h1v1.82h-1zm35 0h1v1.82h-1zm-104 2.42h1v1.82h-1zm68 0h1v1.82h-1zm2 0h1v1.82h-1zm31 0h1v1.82h-1zm-104 2.42h1v1.82h-1zm2 0h1v1.82h-1zm70 0h1v1.82h-1zm31 0h1v1.82h-1zm-104 2.42h1v1.82h-1zm2 0h1v1.82h-1zm72 0h1v1.82h-1zm2 0h1v1.82h-1zm27 0h1v1.82h-1zm-102 2.42h1v1.82h-1zm74 0h1v1.82h-1zm-75 2.42h1v1.82h-1zm99 0h1v1.82h-1zm2 0h1v1.82h-1zm-102 2.42h1v1.82h-1zm78 0h1v1.82h-1zm21 0h1v1.82h-1zm-100 2.42h1v1.82h-1zm99 0h1v1.82h-1zm-102 2.42h1v1.82h-1zm2 0h1v1.82h-1zm82 0h1v1.82h-1zm-85 2.42h1v1.82h-1zm2 0h1v1.82h-1zm84 0h1v1.82h-1zm15 0h1v1.82h-1zm-100 2.42h1v1.82h-1zm86 0h1v1.82h-1zm2 0h1v1.82h-1zm11 0h1v1.82h-1zm2 0h1v1.82h-1zm-104 2.42h1v1.82h-1zm90 0h1v1.82h-1zm2 0h1v1.82h-1zm11 0h1v1.82h-1zm-102 2.42h1v1.82h-1zm90 0h1v1.82h-1zm2 0h1v1.82h-1zm7 0h1v1.82h-1zm2 0h1v1.82h-1zm-104 2.42h1v1.82h-1zm2 0h1v1.82h-1zm92 0h1v1.82h-1zm2 0h1v1.82h-1zm5 0h1v1.82h-1zm2 0h1v1.82h-1zm-8 2.42h1v1.82h-1zm7 0h1v1.82h-1zm-103 2.42h1v1.82h-1zm2 0h1v1.82h-1zm95 0h1v1.82h-1zm5 0h1v1.82h-1zm-103 2.42h1v1.82h-1zm2 0h1v1.82h-1zm97 0h1v1.82h-1z"/>
<path fill="#e2e2e2" d="M205 197.66h1v1.82h-1zm16 12.1h1v1.82h-1zm-23 4.84h1v1.82h-1zm29 4.84h1v1.82h-1zm-34 7.26h1v1.82h-1zm-1 2.42h1v1.82h-1zm37 0h1v1.82h-1zm-38 2.42h1v1.82h-1zm42 2.42h1v1.82h-1zm-46 2.42h1v1.82h-1zm2 0h1v1.82h-1zm45 4.84h1v1.82h-1zm-48 2.42h1v1.82h-1zm50 2.42h1v1.82h-1zm-52 2.42h1v1.82h-1zm55 0h1v1.82h-1zm45 2.42h1v1.82h-1zm-104 2.42h1v1.82h-1zm59 0h1v1.82h-1zm-58 2.42h1v1.82h-1zm97 9.68h1v1.82h-1zm-104 2.42h1v1.82h-1zm75 7.26h1v1.82h-1zm-79 2.42h1v1.82h-1zm78 0h1v1.82h-1zm24 2.42h1v1.82h-1zm-22 2.42h1v1.82h-1zm21 0h1v1.82h-1zm-1 2.42h1v1.82h-1zm-16 2.42h1v1.82h-1zm-88 4.84h1v1.82h-1zm-2 7.26h1v1.82h-1zm98 0h1v1.82h-1zm-2 2.42h1v1.82h-1z"/>
</g></g>
<rect x="154.5" y="305.20" width="129.90" height="1.1" fill="#6c6c6c" fill-opacity="0.8"/>
<defs><linearGradient id="cbb" x1="0" y1="0" x2="0" y2="1"><stop offset="0" stop-color="#ffffff"/><stop offset="1" stop-color="#000000"/></linearGradient></defs>
<rect x="291.35" y="190.05" width="3.40" height="115.90" fill="url(#cbb)" stroke="#a8a8a8" stroke-width="0.5"/>
<path stroke="#333" stroke-width="0.5" d="M293.90 204.35h1.1M293.90 218.90h1.1M293.90 233.45h1.1M293.90 248.00h1.1M293.90 262.55h1.1M293.90 277.10h1.1M293.90 291.65h1.1"/>
<text x="152.70" y="309.10" text-anchor="end" font-family="Liberation Sans, sans-serif" font-size="7.8" fill="#303030" stroke="#303030" stroke-width="0.12">0</text>
<text x="152.70" y="284.89" text-anchor="end" font-family="Liberation Sans, sans-serif" font-size="7.8" fill="#303030" stroke="#303030" stroke-width="0.12">20</text>
<text x="152.70" y="260.68" text-anchor="end" font-family="Liberation Sans, sans-serif" font-size="7.8" fill="#303030" stroke="#303030" stroke-width="0.12">40</text>
<text x="152.70" y="236.48" text-anchor="end" font-family="Liberation Sans, sans-serif" font-size="7.8" fill="#303030" stroke="#303030" stroke-width="0.12">60</text>
<text x="152.70" y="212.27" text-anchor="end" font-family="Liberation Sans, sans-serif" font-size="7.8" fill="#303030" stroke="#303030" stroke-width="0.12">80</text>
<text x="176.15" y="316.90" text-anchor="middle" font-family="Liberation Sans, sans-serif" font-size="7.8" fill="#303030" stroke="#303030" stroke-width="0.12">2</text>
<text x="197.80" y="316.90" text-anchor="middle" font-family="Liberation Sans, sans-serif" font-size="7.8" fill="#303030" stroke="#303030" stroke-width="0.12">4</text>
<text x="219.45" y="316.90" text-anchor="middle" font-family="Liberation Sans, sans-serif" font-size="7.8" fill="#303030" stroke="#303030" stroke-width="0.12">6</text>
<text x="241.10" y="316.90" text-anchor="middle" font-family="Liberation Sans, sans-serif" font-size="7.8" fill="#303030" stroke="#303030" stroke-width="0.12">8</text>
<text x="262.75" y="316.90" text-anchor="middle" font-family="Liberation Sans, sans-serif" font-size="7.8" fill="#303030" stroke="#303030" stroke-width="0.12">10</text>
<text x="284.40" y="316.90" text-anchor="middle" font-family="Liberation Sans, sans-serif" font-size="7.8" fill="#303030" stroke="#303030" stroke-width="0.12">12</text>
<text x="296.80" y="192.60" font-family="Liberation Sans, sans-serif" font-size="7.8" fill="#303030" stroke="#303030" stroke-width="0.12">8</text>
<text x="296.80" y="207.15" font-family="Liberation Sans, sans-serif" font-size="7.8" fill="#303030" stroke="#303030" stroke-width="0.12">6</text>
<text x="296.80" y="221.70" font-family="Liberation Sans, sans-serif" font-size="7.8" fill="#303030" stroke="#303030" stroke-width="0.12">4</text>
<text x="296.80" y="236.25" font-family="Liberation Sans, sans-serif" font-size="7.8" fill="#303030" stroke="#303030" stroke-width="0.12">2</text>
<text x="296.80" y="250.80" font-family="Liberation Sans, sans-serif" font-size="7.8" fill="#303030" stroke="#303030" stroke-width="0.12">0</text>
<text x="296.80" y="265.35" font-family="Liberation Sans, sans-serif" font-size="7.8" fill="#303030" stroke="#303030" stroke-width="0.12">-2</text>
<text x="296.80" y="279.90" font-family="Liberation Sans, sans-serif" font-size="7.8" fill="#303030" stroke="#303030" stroke-width="0.12">-4</text>
<text x="296.80" y="294.45" font-family="Liberation Sans, sans-serif" font-size="7.8" fill="#303030" stroke="#303030" stroke-width="0.12">-6</text>
<text x="296.80" y="309.00" font-family="Liberation Sans, sans-serif" font-size="7.8" fill="#303030" stroke="#303030" stroke-width="0.12">-8</text>
<text x="219.45" y="326.50" text-anchor="middle" font-family="Liberation Sans, sans-serif" font-size="8" fill="#303030" stroke="#303030" stroke-width="0.12">Time(s)</text>
<text transform="translate(140.70,247.40) rotate(-90)" text-anchor="middle" font-family="Liberation Sans, sans-serif" font-size="8.25" fill="#303030" stroke="#303030" stroke-width="0.12">Location(inch)</text>
<text x="295.30" y="187.40" font-family="Liberation Sans, sans-serif" font-size="8" fill="#303030" stroke="#303030" stroke-width="0.12">×10<tspan font-size="5.5" dy="-4.1">-3</tspan></text>
<text x="265.10" y="328.50" font-family="Liberation Sans, sans-serif" font-size="8" fill="#303030" stroke="#303030" stroke-width="0.12">×10<tspan font-size="5.5" dy="-4.1">-4</tspan></text>
<text x="220.80" y="344.30" text-anchor="middle" font-family="Liberation Serif, serif" font-weight="bold" font-size="13.5" fill="#111">(b)</text>
<rect x="394.0" y="13.5" width="125.50" height="113.00" fill="#818181"/>
<defs><clipPath id="cpc"><rect x="394.0" y="13.5" width="125.50" height="113.00"/></clipPath>
<filter id="blc" x="392.0" y="11.5" width="129.50" height="117.00" filterUnits="userSpaceOnUse" color-interpolation-filters="sRGB"><feConvolveMatrix order="3" kernelMatrix="0 0 0 0 1 0 0 0 0" divisor="1" edgeMode="none"/></filter>
</defs>
<g clip-path="url(#cpc)">
<g filter="url(#blc)">
<path fill="#292929" d="M398 124.90h1v1.3h-1zm2 0h1v1.3h-1zm96 0h1v1.3h-1zm2 0h1v1.3h-1zm-96-10.18h1v3.2h-1zm2 0h1v3.2h-1zm88 0h1v3.2h-1zm2 0h1v3.2h-1zm6 0h1v3.2h-1zm2 0h1v3.2h-1zm-95-10.18h1v3.2h-1zm2 0h1v3.2h-1zm79 0h1v3.2h-1zm2 0h1v3.2h-1zm15 0h1v3.2h-1zm2 0h1v3.2h-1zm-96-10.18h1v3.2h-1zm2 0h1v3.2h-1zm70 0h1v3.2h-1zm2 0h1v3.2h-1zm24 0h1v3.2h-1zm2 0h1v3.2h-1zm-96-10.18h1v3.2h-1zm2 0h1v3.2h-1zm62 0h1v3.2h-1zm2 0h1v3.2h-1zm32 0h1v3.2h-1zm2 0h1v3.2h-1zm-96-10.18h1v3.2h-1zm2 0h1v3.2h-1zm54 0h1v3.2h-1zm2 0h1v3.2h-1zm40 0h1v3.2h-1zm2 0h1v3.2h-1zm-95-10.18h1v3.2h-1zm2 0h1v3.2h-1zm45 0h1v3.2h-1zm2 0h1v3.2h-1zm-45-10.18h1v3.2h-1zm2 0h1v3.2h-1zm37 0h1v3.2h-1zm2 0h1v3.2h-1zm-37-10.18h1v3.2h-1zm2 0h1v3.2h-1zm28 0h1v3.2h-1zm2 0h1v3.2h-1zm-28-10.18h1v3.2h-1zm2 0h1v3.2h-1zm20 0h1v3.2h-1zm2 0h1v3.2h-1zm-19-10.18h1v3.2h-1zm2 0h1v3.2h-1zm11 0h1v3.2h-1zm2 0h1v3.2h-1zm-11-9.3h1v2.32h-1zm2 0h1v2.32h-1zm3 0h1v2.32h-1zm2 0h1v2.32h-1z"/>
<path fill="#555555" d="M406 114.72h1v3.2h-1zm1-20.36h1v3.2h-1zm2 0h1v3.2h-1zm78 0h1v3.2h-1zm-76-10.18h1v3.2h-1zm2 0h1v3.2h-1zm3-10.18h1v3.2h-1zm4-10.18h1v3.2h-1zm2 0h1v3.2h-1zm2-10.18h1v3.2h-1zm2 0h1v3.2h-1zm39 0h1v3.2h-1zm-37-10.18h1v3.2h-1zm2 0h1v3.2h-1zm3-10.18h1v3.2h-1z"/>
<path fill="#5e5e5e" d="M503 124.90h1v1.3h-1zm2 0h1v1.3h-1zm-7-10.18h1v3.2h-1zm6 0h1v3.2h-1zm3 0h1v3.2h-1zm2 0h1v3.2h-1zm-106-10.18h1v3.2h-1zm2 0h1v3.2h-1zm81 0h1v3.2h-1zm8 0h1v3.2h-1zm2 0h1v3.2h-1zm7 0h1v3.2h-1zm9 0h1v3.2h-1zm2 0h1v3.2h-1zm-25-10.18h1v3.2h-1zm2 0h1v3.2h-1zm25 0h1v3.2h-1zm2 0h1v3.2h-1zm-33-10.18h1v3.2h-1zm2 0h1v3.2h-1zm-64-10.18h1v3.2h-1zm57 0h1v3.2h-1zm2 0h1v3.2h-1zm-7-10.18h1v3.2h-1zm2 0h1v3.2h-1zm-6-10.18h1v3.2h-1zm2 0h1v3.2h-1zm-33-20.36h1v3.2h-1zm-1-10.18h1v3.2h-1z"/>
<path fill="#676767" d="M402 124.90h1v1.3h-1zm19-30.54h1v3.2h-1zm2 0h1v3.2h-1zm-4-10.18h1v3.2h-1zm10 0h1v3.2h-1zm2 0h1v3.2h-1zm52 0h1v3.2h-1zm-47-10.18h1v3.2h-1zm2 0h1v3.2h-1zm6-10.18h1v3.2h-1zm2 0h1v3.2h-1zm23 0h1v3.2h-1zm-17-10.18h1v3.2h-1zm2 0h1v3.2h-1zm5-10.18h1v3.2h-1zm7 0h1v3.2h-1zm2 0h1v3.2h-1zm46 0h1v3.2h-1zm2 0h1v3.2h-1zm-49-10.18h1v3.2h-1zm2 0h1v3.2h-1zm37 0h1v3.2h-1zm2 0h1v3.2h-1zm-56-10.18h1v3.2h-1zm23 0h1v3.2h-1zm2 0h1v3.2h-1zm21 0h1v3.2h-1zm2 0h1v3.2h-1zm-57-9.3h1v2.32h-1zm39 0h1v2.32h-1zm2 0h1v2.32h-1zm7 0h1v2.32h-1zm2 0h1v2.32h-1z"/>
<path fill="#6f6f6f" d="M500 124.90h1v1.3h-1zm-10-10.18h1v3.2h-1zm-76-10.18h1v3.2h-1zm2 0h1v3.2h-1zm9-10.18h1v3.2h-1zm82 0h1v3.2h-1zm-80-10.18h1v3.2h-1zm90 0h1v3.2h-1zm-77-10.18h1v3.2h-1zm10-20.36h1v3.2h-1zm-14-10.18h1v3.2h-1zm76 0h1v3.2h-1zm-50-10.18h1v3.2h-1zm2 0h1v3.2h-1zm1 0h1v3.2h-1zm39 0h1v3.2h-1zm-67-10.18h1v3.2h-1zm36 0h1v3.2h-1zm29 0h1v3.2h-1zm-16-9.3h1v2.32h-1zm3 0h1v2.32h-1z"/>
<path fill="#787878" d="M404 124.90h1v1.3h-1zm2 0h1v1.3h-1zm88 0h1v1.3h-1zm-95-10.18h1v3.2h-1zm9 0h1v3.2h-1zm2 0h1v3.2h-1zm86 0h1v3.2h-1zm-85-10.18h1v3.2h-1zm7 0h1v3.2h-1zm74 0h1v3.2h-1zm17 0h1v3.2h-1zm-94-10.18h1v3.2h-1zm2 0h1v3.2h-1zm2 0h1v3.2h-1zm94 0h1v3.2h-1zm-92-10.18h1v3.2h-1zm2 0h1v3.2h-1zm10 0h1v3.2h-1zm78 0h1v3.2h-1zm8 0h1v3.2h-1zm-105-10.18h1v3.2h-1zm11 0h1v3.2h-1zm2 0h1v3.2h-1zm7 0h1v3.2h-1zm39 0h1v3.2h-1zm-45-10.18h1v3.2h-1zm2 0h1v3.2h-1zm2 0h1v3.2h-1zm10 0h1v3.2h-1zm6 0h1v3.2h-1zm31 0h1v3.2h-1zm-47-10.18h1v3.2h-1zm2 0h1v3.2h-1zm2 0h1v3.2h-1zm20 0h1v3.2h-1zm19 0h1v3.2h-1zm44 0h1v3.2h-1zm-81-10.18h1v3.2h-1zm2 0h1v3.2h-1zm17 0h1v3.2h-1zm13 0h1v3.2h-1zm48 0h1v3.2h-1zm-87-10.18h1v3.2h-1zm11 0h1v3.2h-1zm2 0h1v3.2h-1zm12 0h1v3.2h-1zm15 0h1v3.2h-1zm39 0h1v3.2h-1zm-65-10.18h1v3.2h-1zm2 0h1v3.2h-1zm2 0h1v3.2h-1zm9 0h1v3.2h-1zm2 0h1v3.2h-1zm2 0h1v3.2h-1zm17 0h1v3.2h-1zm17 0h1v3.2h-1zm-42-9.3h1v2.32h-1zm2 0h1v2.32h-1zm2 0h1v2.32h-1zm22 0h1v2.32h-1zm15 0h1v2.32h-1z"/>
<path fill="#8a8a8a" d="M403 124.90h1v1.3h-1zm2 0h1v1.3h-1zm2 0h1v1.3h-1zm94 0h1v1.3h-1zm5 0h1v1.3h-1zm-108-10.18h1v3.2h-1zm2 0h1v3.2h-1zm7 0h1v3.2h-1zm2 0h1v3.2h-1zm2 0h1v3.2h-1zm94 0h1v3.2h-1zm-93-10.18h1v3.2h-1zm5 0h1v3.2h-1zm80 0h1v3.2h-1zm13 0h1v3.2h-1zm-94-10.18h1v3.2h-1zm2 0h1v3.2h-1zm8 0h1v3.2h-1zm88 0h1v3.2h-1zm1 0h1v3.2h-1zm-105-10.18h1v3.2h-1zm10 0h1v3.2h-1zm2 0h1v3.2h-1zm4 0h1v3.2h-1zm8 0h1v3.2h-1zm54 0h1v3.2h-1zm30 0h1v3.2h-1zm-94-10.18h1v3.2h-1zm2 0h1v3.2h-1zm2 0h1v3.2h-1zm13 0h1v3.2h-1zm-12-10.18h1v3.2h-1zm2 0h1v3.2h-1zm10 0h1v3.2h-1zm8 0h1v3.2h-1zm-16-10.18h1v3.2h-1zm2 0h1v3.2h-1zm14 0h1v3.2h-1zm69 0h1v3.2h-1zm-81-10.18h1v3.2h-1zm2 0h1v3.2h-1zm17 0h1v3.2h-1zm15 0h1v3.2h-1zm40 0h1v3.2h-1zm-70-10.18h1v3.2h-1zm2 0h1v3.2h-1zm2 0h1v3.2h-1zm27 0h1v3.2h-1zm31 0h1v3.2h-1zm8 0h1v3.2h-1zm-75-10.18h1v3.2h-1zm10 0h1v3.2h-1zm2 0h1v3.2h-1zm11 0h1v3.2h-1zm2 0h1v3.2h-1zm11 0h1v3.2h-1zm31 0h1v3.2h-1zm-48-9.3h1v2.32h-1zm2 0h1v2.32h-1zm22 0h1v2.32h-1zm8 0h1v2.32h-1zm1 0h1v2.32h-1z"/>
<path fill="#939393" d="M497 114.72h1v3.2h-1zm9 0h1v3.2h-1zm-104-10.18h1v3.2h-1zm11 0h1v3.2h-1zm2 0h1v3.2h-1zm100 0h1v3.2h-1zm-109-10.18h1v3.2h-1zm14 0h1v3.2h-1zm4 0h1v3.2h-1zm64 0h1v3.2h-1zm4 0h1v3.2h-1zm-60-10.18h1v3.2h-1zm3-10.18h1v3.2h-1zm44 0h1v3.2h-1zm4 0h1v3.2h-1zm-40-10.18h1v3.2h-1zm4 0h1v3.2h-1zm-24-10.18h1v3.2h-1zm32 0h1v3.2h-1zm19 0h1v3.2h-1zm-47-10.18h1v3.2h-1zm31 0h1v3.2h-1zm59 0h1v3.2h-1zm-54-10.18h1v3.2h-1zm3 0h1v3.2h-1zm4 0h1v3.2h-1zm35 0h1v3.2h-1zm4 0h1v3.2h-1zm-71-10.18h1v3.2h-1zm40 0h1v3.2h-1zm19 0h1v3.2h-1zm-16-9.3h1v2.32h-1zm4 0h1v2.32h-1zm9 0h1v2.32h-1z"/>
<path fill="#9b9b9b" d="M502 124.90h1v1.3h-1zm8-10.18h1v3.2h-1zm-17-10.18h1v3.2h-1zm18 0h1v3.2h-1zm-89-10.18h1v3.2h-1zm97 0h1v3.2h-1zm-91-10.18h1v3.2h-1zm2 0h1v3.2h-1zm7-10.18h1v3.2h-1zm2 0h1v3.2h-1zm-20-10.18h1v3.2h-1zm26 0h1v3.2h-1zm33 0h1v3.2h-1zm-27-10.18h1v3.2h-1zm2 0h1v3.2h-1zm7-10.18h1v3.2h-1zm7 0h1v3.2h-1zm2 0h1v3.2h-1zm44 0h1v3.2h-1zm2 0h1v3.2h-1zm-47-10.18h1v3.2h-1zm39 0h1v3.2h-1zm-33-10.18h1v3.2h-1zm2 0h1v3.2h-1zm23 0h1v3.2h-1zm2 0h1v3.2h-1zm-18-9.3h1v2.32h-1zm7 0h1v2.32h-1zm2 0h1v2.32h-1z"/>
<path fill="#a4a4a4" d="M504 124.90h1v1.3h-1zm4-10.18h1v3.2h-1zm-104-10.18h1v3.2h-1zm91 0h1v3.2h-1zm18 0h1v3.2h-1zm-23-10.18h1v3.2h-1zm27 0h1v3.2h-1zm-33-10.18h1v3.2h-1zm2 0h1v3.2h-1zm-71-10.18h1v3.2h-1zm66 0h1v3.2h-1zm-5-10.18h1v3.2h-1zm-4-10.18h1v3.2h-1zm-40-20.36h1v3.2h-1z"/>
<path fill="#adadad" d="M401 114.72h1v3.2h-1zm7-20.36h1v3.2h-1zm4-10.18h1v3.2h-1zm5-10.18h1v3.2h-1zm4-10.18h1v3.2h-1zm4-10.18h1v3.2h-1zm45 0h1v3.2h-1zm-41-10.18h1v3.2h-1zm5-10.18h1v3.2h-1z"/>
<path fill="#b6b6b6" d="M499 114.72h1v3.2h-1zm9-10.18h1v3.2h-1zm-26-10.18h1v3.2h-1zm-64-20.36h1v3.2h-1zm9-10.18h1v3.2h-1zm8-30.54h1v3.2h-1zm9-10.18h1v3.2h-1zm9-9.3h1v2.32h-1z"/>
<path fill="#bfbfbf" d="M397 124.90h1v1.3h-1zm13-20.36h1v3.2h-1zm81 0h1v3.2h-1zm-13-20.36h1v3.2h-1zm38-10.18h1v3.2h-1zm-42-10.18h1v3.2h-1zm-13-20.36h1v3.2h-1z"/>
<path fill="#c7c7c7" d="M495 124.90h1v1.3h-1zm0-10.18h1v3.2h-1zm-81-20.36h1v3.2h-1zm98 0h1v3.2h-1zm-98-10.18h1v3.2h-1zm98 0h1v3.2h-1zm-81-30.54h1v3.2h-1zm0-10.18h1v3.2h-1zm26-20.36h1v3.2h-1zm-9-9.3h1v2.32h-1z"/>
<path fill="#d0d0d0" d="M499 124.90h1v1.3h-1zm-8-10.18h1v3.2h-1zm-81-20.36h1v3.2h-1zm98 0h1v3.2h-1zm8-10.18h1v3.2h-1zm-42-10.18h1v3.2h-1zm4 0h1v3.2h-1zm-51-20.36h1v3.2h-1zm8-10.18h1v3.2h-1zm22-10.18h1v3.2h-1zm4 0h1v3.2h-1z"/>
<path fill="#d9d9d9" d="M399 124.90h1v1.3h-1zm2 0h1v1.3h-1zm96 0h1v1.3h-1zm-94-10.18h1v3.2h-1zm2 0h1v3.2h-1zm88 0h1v3.2h-1zm8 0h1v3.2h-1zm2 0h1v3.2h-1zm-97-10.18h1v3.2h-1zm2 0h1v3.2h-1zm79 0h1v3.2h-1zm2 0h1v3.2h-1zm15 0h1v3.2h-1zm2 0h1v3.2h-1zm-94-10.18h1v3.2h-1zm72 0h1v3.2h-1zm2 0h1v3.2h-1zm24 0h1v3.2h-1zm-94-10.18h1v3.2h-1zm2 0h1v3.2h-1zm62 0h1v3.2h-1zm2 0h1v3.2h-1zm32 0h1v3.2h-1zm-94-10.18h1v3.2h-1zm2 0h1v3.2h-1zm54 0h1v3.2h-1zm42 0h1v3.2h-1zm-95-10.18h1v3.2h-1zm2 0h1v3.2h-1zm45 0h1v3.2h-1zm2 0h1v3.2h-1zm-43-10.18h1v3.2h-1zm37 0h1v3.2h-1zm2 0h1v3.2h-1zm-35-10.18h1v3.2h-1zm30 0h1v3.2h-1zm2 0h1v3.2h-1zm-28-10.18h1v3.2h-1zm2 0h1v3.2h-1zm20 0h1v3.2h-1zm-19-10.18h1v3.2h-1zm2 0h1v3.2h-1zm11 0h1v3.2h-1zm2 0h1v3.2h-1zm-11-9.3h1v2.32h-1zm2 0h1v2.32h-1zm3 0h1v2.32h-1zm2 0h1v2.32h-1z"/>
</g></g>
<rect x="394.0" y="125.40" width="125.50" height="1.1" fill="#6c6c6c" fill-opacity="0.8"/>
<defs><linearGradient id="cbc" x1="0" y1="0" x2="0" y2="1"><stop offset="0" stop-color="#ffffff"/><stop offset="1" stop-color="#000000"/></linearGradient></defs>
<rect x="525.85" y="13.75" width="3.20" height="112.70" fill="url(#cbc)" stroke="#a8a8a8" stroke-width="0.5"/>
<path stroke="#333" stroke-width="0.5" d="M528.20 27.65h1.1M528.20 41.80h1.1M528.20 55.95h1.1M528.20 70.10h1.1M528.20 84.25h1.1M528.20 98.40h1.1M528.20 112.55h1.1"/>
<text x="392.20" y="129.30" text-anchor="end" font-family="Liberation Sans, sans-serif" font-size="7.8" fill="#303030" stroke="#303030" stroke-width="0.12">0</text>
<text x="392.20" y="105.76" text-anchor="end" font-family="Liberation Sans, sans-serif" font-size="7.8" fill="#303030" stroke="#303030" stroke-width="0.12">20</text>
<text x="392.20" y="82.22" text-anchor="end" font-family="Liberation Sans, sans-serif" font-size="7.8" fill="#303030" stroke="#303030" stroke-width="0.12">40</text>
<text x="392.20" y="58.67" text-anchor="end" font-family="Liberation Sans, sans-serif" font-size="7.8" fill="#303030" stroke="#303030" stroke-width="0.12">60</text>
<text x="392.20" y="35.13" text-anchor="end" font-family="Liberation Sans, sans-serif" font-size="7.8" fill="#303030" stroke="#303030" stroke-width="0.12">80</text>
<text x="414.92" y="136.50" text-anchor="middle" font-family="Liberation Sans, sans-serif" font-size="7.8" fill="#303030" stroke="#303030" stroke-width="0.12">2</text>
<text x="435.83" y="136.50" text-anchor="middle" font-family="Liberation Sans, sans-serif" font-size="7.8" fill="#303030" stroke="#303030" stroke-width="0.12">4</text>
<text x="456.75" y="136.50" text-anchor="middle" font-family="Liberation Sans, sans-serif" font-size="7.8" fill="#303030" stroke="#303030" stroke-width="0.12">6</text>
<text x="477.67" y="136.50" text-anchor="middle" font-family="Liberation Sans, sans-serif" font-size="7.8" fill="#303030" stroke="#303030" stroke-width="0.12">8</text>
<text x="498.58" y="136.50" text-anchor="middle" font-family="Liberation Sans, sans-serif" font-size="7.8" fill="#303030" stroke="#303030" stroke-width="0.12">10</text>
<text x="519.50" y="136.50" text-anchor="middle" font-family="Liberation Sans, sans-serif" font-size="7.8" fill="#303030" stroke="#303030" stroke-width="0.12">12</text>
<text x="531.10" y="16.30" font-family="Liberation Sans, sans-serif" font-size="7.8" fill="#303030" stroke="#303030" stroke-width="0.12">8</text>
<text x="531.10" y="30.45" font-family="Liberation Sans, sans-serif" font-size="7.8" fill="#303030" stroke="#303030" stroke-width="0.12">6</text>
<text x="531.10" y="44.60" font-family="Liberation Sans, sans-serif" font-size="7.8" fill="#303030" stroke="#303030" stroke-width="0.12">4</text>
<text x="531.10" y="58.75" font-family="Liberation Sans, sans-serif" font-size="7.8" fill="#303030" stroke="#303030" stroke-width="0.12">2</text>
<text x="531.10" y="72.90" font-family="Liberation Sans, sans-serif" font-size="7.8" fill="#303030" stroke="#303030" stroke-width="0.12">0</text>
<text x="531.10" y="87.05" font-family="Liberation Sans, sans-serif" font-size="7.8" fill="#303030" stroke="#303030" stroke-width="0.12">-2</text>
<text x="531.10" y="101.20" font-family="Liberation Sans, sans-serif" font-size="7.8" fill="#303030" stroke="#303030" stroke-width="0.12">-4</text>
<text x="531.10" y="115.35" font-family="Liberation Sans, sans-serif" font-size="7.8" fill="#303030" stroke="#303030" stroke-width="0.12">-6</text>
<text x="531.10" y="129.50" font-family="Liberation Sans, sans-serif" font-size="7.8" fill="#303030" stroke="#303030" stroke-width="0.12">-8</text>
<text x="456.75" y="145.70" text-anchor="middle" font-family="Liberation Sans, sans-serif" font-size="8" fill="#303030" stroke="#303030" stroke-width="0.12">Time(s)</text>
<text transform="translate(381.20,69.20) rotate(-90)" text-anchor="middle" font-family="Liberation Sans, sans-serif" font-size="8.25" fill="#303030" stroke="#303030" stroke-width="0.12">Location(inch)</text>
<text x="529.80" y="11.10" font-family="Liberation Sans, sans-serif" font-size="8" fill="#303030" stroke="#303030" stroke-width="0.12">×10<tspan font-size="5.5" dy="-4.1">-3</tspan></text>
<text x="501.10" y="147.50" font-family="Liberation Sans, sans-serif" font-size="8" fill="#303030" stroke="#303030" stroke-width="0.12">×10<tspan font-size="5.5" dy="-4.1">-4</tspan></text>
<text x="455.90" y="170.50" text-anchor="middle" font-family="Liberation Serif, serif" font-weight="bold" font-size="13.5" fill="#111">(c)</text>
<rect x="392.8" y="187.6" width="128.40" height="118.70" fill="#818181"/>
<defs><clipPath id="cpd"><rect x="392.8" y="187.6" width="128.40" height="118.70"/></clipPath>
<filter id="bld" x="390.8" y="185.6" width="132.40" height="122.70" filterUnits="userSpaceOnUse" color-interpolation-filters="sRGB"><feConvolveMatrix order="3" kernelMatrix="0 0 0 0 1 0 0 0 0" divisor="1" edgeMode="none"/></filter>
</defs>
<g clip-path="url(#cpd)">
<g filter="url(#bld)">
<path fill="#202020" d="M493 294.02h1v3.2h-1zm-9-21.36h1v3.2h-1zm-55-42.72h1v3.2h-1zm40 0h1v3.2h-1zm-15-32.04h1v3.2h-1z"/>
<path fill="#292929" d="M397 304.70h1v1.3h-1zm2 0h1v1.3h-1zm100 0h1v1.3h-1zm-97-10.68h1v3.2h-1zm2 0h1v3.2h-1zm91 0h1v3.2h-1zm7 0h1v3.2h-1zm2 0h1v3.2h-1zm-96-10.68h1v3.2h-1zm81 0h1v3.2h-1zm2 0h1v3.2h-1zm15 0h1v3.2h-1zm2 0h1v3.2h-1zm-98-10.68h1v3.2h-1zm2 0h1v3.2h-1zm74 0h1v3.2h-1zm24 0h1v3.2h-1zm2 0h1v3.2h-1zm-96-10.68h1v3.2h-1zm66 0h1v3.2h-1zm33 0h1v3.2h-1zm2 0h1v3.2h-1zm-98-10.68h1v3.2h-1zm57 0h1v3.2h-1zm2 0h1v3.2h-1zm41 0h1v3.2h-1zm2 0h1v3.2h-1zm-98-10.68h1v3.2h-1zm2 0h1v3.2h-1zm46 0h1v3.2h-1zm2 0h1v3.2h-1zm-46-10.68h1v3.2h-1zm40 0h1v3.2h-1zm-35-10.68h1v3.2h-1zm2 0h1v3.2h-1zm29 0h1v3.2h-1zm2 0h1v3.2h-1zm-29-10.68h1v3.2h-1zm2 0h1v3.2h-1zm22 0h1v3.2h-1zm-20-10.68h1v3.2h-1zm2 0h1v3.2h-1zm14 0h1v3.2h-1zm-11-10h1v2.52h-1zm2 0h1v2.52h-1zm5 0h1v2.52h-1z"/>
<path fill="#323232" d="M497 304.70h1v1.3h-1zm-91-21.36h1v3.2h-1zm8-21.36h1v3.2h-1zm66 0h1v3.2h-1zm-59-10.68h1v3.2h-1zm37-42.72h1v3.2h-1zm-8-20.68h1v2.52h-1z"/>
<path fill="#4c4c4c" d="M400 294.02h1v3.2h-1zm18-32.04h1v3.2h-1zm3-21.36h1v3.2h-1zm10-10.68h1v3.2h-1z"/>
<path fill="#555555" d="M487 283.34h1v3.2h-1zm8 0h1v3.2h-1zm-84-21.36h1v3.2h-1zm4-10.68h1v3.2h-1zm2 0h1v3.2h-1zm2-10.68h1v3.2h-1zm5-10.68h1v3.2h-1zm4-10.68h1v3.2h-1zm2 0h1v3.2h-1zm2-10.68h1v3.2h-1zm2 0h1v3.2h-1zm10-10.68h1v3.2h-1z"/>
<path fill="#5e5e5e" d="M501 304.70h1v1.3h-1zm3 0h1v1.3h-1zm-5-10.68h1v3.2h-1zm1 0h1v3.2h-1zm9 0h1v3.2h-1zm-107-10.68h1v3.2h-1zm2 0h1v3.2h-1zm93 0h1v3.2h-1zm16 0h1v3.2h-1zm2 0h1v3.2h-1zm-109-10.68h1v3.2h-1zm2 0h1v3.2h-1zm80 0h1v3.2h-1zm4 0h1v3.2h-1zm26 0h1v3.2h-1zm2 0h1v3.2h-1zm-35-10.68h1v3.2h-1zm2 0h1v3.2h-1zm26 0h1v3.2h-1zm-39-10.68h1v3.2h-1zm7 0h1v3.2h-1zm2 0h1v3.2h-1zm-8-10.68h1v3.2h-1zm3 0h1v3.2h-1zm-26-10.68h1v3.2h-1zm20 0h1v3.2h-1zm-11-10.68h1v3.2h-1zm6 0h1v3.2h-1zm2 0h1v3.2h-1zm-29-10.68h1v3.2h-1zm22 0h1v3.2h-1zm-19-20.68h1v2.52h-1zm51 0h1v2.52h-1z"/>
<path fill="#676767" d="M401 304.70h1v1.3h-1zm105 0h1v1.3h-1zm5-10.68h1v3.2h-1zm-90-21.36h1v3.2h-1zm2 0h1v3.2h-1zm67 0h1v3.2h-1zm24 0h1v3.2h-1zm-86-10.68h1v3.2h-1zm2 0h1v3.2h-1zm6-10.68h1v3.2h-1zm2 0h1v3.2h-1zm-11-10.68h1v3.2h-1zm17 0h1v3.2h-1zm2 0h1v3.2h-1zm30 0h1v3.2h-1zm-22-10.68h1v3.2h-1zm20 0h1v3.2h-1zm-14-10.68h1v3.2h-1zm57 0h1v3.2h-1zm-48-10.68h1v3.2h-1zm38 0h1v3.2h-1zm2 0h1v3.2h-1zm-34-10.68h1v3.2h-1zm2 0h1v3.2h-1zm23 0h1v3.2h-1zm2 0h1v3.2h-1zm-19-10h1v2.52h-1zm2 0h1v2.52h-1zm7 0h1v2.52h-1z"/>
<path fill="#6f6f6f" d="M491 294.02h1v3.2h-1zm6 0h1v3.2h-1zm-82-10.68h1v3.2h-1zm89 0h1v3.2h-1zm-90-10.68h1v3.2h-1zm5 0h1v3.2h-1zm70-10.68h1v3.2h-1zm-55-10.68h1v3.2h-1zm6 0h1v3.2h-1zm77 0h1v3.2h-1zm-88-10.68h1v3.2h-1zm13 0h1v3.2h-1zm6 0h1v3.2h-1zm2-10.68h1v3.2h-1zm63-10.68h1v3.2h-1zm2 0h1v3.2h-1zm4 0h1v3.2h-1zm-55-10.68h1v3.2h-1zm3 0h1v3.2h-1zm4 0h1v3.2h-1zm40 0h1v3.2h-1zm-74-10.68h1v3.2h-1zm11 0h1v3.2h-1zm10 0h1v3.2h-1zm21 0h1v3.2h-1zm2-10h1v2.52h-1zm6 0h1v2.52h-1zm9 0h1v2.52h-1z"/>
<path fill="#787878" d="M394 304.70h1v1.3h-1zm9 0h1v1.3h-1zm11 0h1v1.3h-1zm7 0h1v1.3h-1zm3 0h1v1.3h-1zm2 0h1v1.3h-1zm14 0h1v1.3h-1zm14 0h1v1.3h-1zm10 0h1v1.3h-1zm5 0h1v1.3h-1zm4 0h1v1.3h-1zm5 0h1v1.3h-1zm10 0h1v1.3h-1zm21 0h1v1.3h-1zm6 0h1v1.3h-1zm1 0h1v1.3h-1zm-118-10.68h1v3.2h-1zm8 0h1v3.2h-1zm2 0h1v3.2h-1zm4 0h1v3.2h-1zm18 0h1v3.2h-1zm5 0h1v3.2h-1zm7 0h1v3.2h-1zm1 0h1v3.2h-1zm2 0h1v3.2h-1zm7 0h1v3.2h-1zm35 0h1v3.2h-1zm3 0h1v3.2h-1zm16 0h1v3.2h-1zm8 0h1v3.2h-1zm1 0h1v3.2h-1zm2 0h1v3.2h-1zm-107-10.68h1v3.2h-1zm3 0h1v3.2h-1zm5 0h1v3.2h-1zm6 0h1v3.2h-1zm13 0h1v3.2h-1zm4 0h1v3.2h-1zm2 0h1v3.2h-1zm1 0h1v3.2h-1zm16 0h1v3.2h-1zm3 0h1v3.2h-1zm4 0h1v3.2h-1zm3 0h1v3.2h-1zm23 0h1v3.2h-1zm17 0h1v3.2h-1zm-114-10.68h1v3.2h-1zm2 0h1v3.2h-1zm18 0h1v3.2h-1zm9 0h1v3.2h-1zm8 0h1v3.2h-1zm8 0h1v3.2h-1zm1 0h1v3.2h-1zm2 0h1v3.2h-1zm7 0h1v3.2h-1zm1 0h1v3.2h-1zm3 0h1v3.2h-1zm2 0h1v3.2h-1zm10 0h1v3.2h-1zm9 0h1v3.2h-1zm18 0h1v3.2h-1zm11 0h1v3.2h-1zm2 0h1v3.2h-1zm9 0h1v3.2h-1zm-121-10.68h1v3.2h-1zm1 0h1v3.2h-1zm7 0h1v3.2h-1zm17 0h1v3.2h-1zm2 0h1v3.2h-1zm4 0h1v3.2h-1zm6 0h1v3.2h-1zm2 0h1v3.2h-1zm26 0h1v3.2h-1zm5 0h1v3.2h-1zm13 0h1v3.2h-1zm6 0h1v3.2h-1zm6 0h1v3.2h-1zm5 0h1v3.2h-1zm8 0h1v3.2h-1zm2 0h1v3.2h-1zm3 0h1v3.2h-1zm3 0h1v3.2h-1zm8 0h1v3.2h-1zm2 0h1v3.2h-1zm-114-10.68h1v3.2h-1zm16 0h1v3.2h-1zm2 0h1v3.2h-1zm2 0h1v3.2h-1zm2 0h1v3.2h-1zm37 0h1v3.2h-1zm1 0h1v3.2h-1zm40 0h1v3.2h-1zm6 0h1v3.2h-1zm-117-10.68h1v3.2h-1zm8 0h1v3.2h-1zm9 0h1v3.2h-1zm18 0h1v3.2h-1zm2 0h1v3.2h-1zm6 0h1v3.2h-1zm21 0h1v3.2h-1zm55 0h1v3.2h-1zm4 0h1v3.2h-1zm-116-10.68h1v3.2h-1zm1 0h1v3.2h-1zm3 0h1v3.2h-1zm4 0h1v3.2h-1zm3 0h1v3.2h-1zm7 0h1v3.2h-1zm1 0h1v3.2h-1zm11 0h1v3.2h-1zm14 0h1v3.2h-1zm1 0h1v3.2h-1zm8 0h1v3.2h-1zm9 0h1v3.2h-1zm12 0h1v3.2h-1zm4 0h1v3.2h-1zm5 0h1v3.2h-1zm11 0h1v3.2h-1zm1 0h1v3.2h-1zm5 0h1v3.2h-1zm2 0h1v3.2h-1zm4 0h1v3.2h-1zm8 0h1v3.2h-1zm2 0h1v3.2h-1zm2 0h1v3.2h-1zm-128-10.68h1v3.2h-1zm1 0h1v3.2h-1zm6 0h1v3.2h-1zm12 0h1v3.2h-1zm1 0h1v3.2h-1zm11 0h1v3.2h-1zm12 0h1v3.2h-1zm2 0h1v3.2h-1zm2 0h1v3.2h-1zm12 0h1v3.2h-1zm4 0h1v3.2h-1zm2 0h1v3.2h-1zm15 0h1v3.2h-1zm3 0h1v3.2h-1zm5 0h1v3.2h-1zm22 0h1v3.2h-1zm1 0h1v3.2h-1zm17 0h1v3.2h-1zm-124-10.68h1v3.2h-1zm6 0h1v3.2h-1zm2 0h1v3.2h-1zm11 0h1v3.2h-1zm26 0h1v3.2h-1zm2 0h1v3.2h-1zm11 0h1v3.2h-1zm18 0h1v3.2h-1zm3 0h1v3.2h-1zm3 0h1v3.2h-1zm12 0h1v3.2h-1zm14 0h1v3.2h-1zm10 0h1v3.2h-1zm4 0h1v3.2h-1zm-109-10.68h1v3.2h-1zm1 0h1v3.2h-1zm20 0h1v3.2h-1zm19 0h1v3.2h-1zm2 0h1v3.2h-1zm8 0h1v3.2h-1zm2 0h1v3.2h-1zm4 0h1v3.2h-1zm1 0h1v3.2h-1zm6 0h1v3.2h-1zm15 0h1v3.2h-1zm6 0h1v3.2h-1zm4 0h1v3.2h-1zm9 0h1v3.2h-1zm-109-10h1v2.52h-1zm3 0h1v2.52h-1zm4 0h1v2.52h-1zm2 0h1v2.52h-1zm2 0h1v2.52h-1zm14 0h1v2.52h-1zm5 0h1v2.52h-1zm6 0h1v2.52h-1zm20 0h1v2.52h-1zm2 0h1v2.52h-1zm1 0h1v2.52h-1zm1 0h1v2.52h-1zm3 0h1v2.52h-1zm16 0h1v2.52h-1zm2 0h1v2.52h-1zm11 0h1v2.52h-1zm12 0h1v2.52h-1zm1 0h1v2.52h-1zm1 0h1v2.52h-1zm13 0h1v2.52h-1zm4 0h1v2.52h-1z"/>
<path fill="#8a8a8a" d="M404 304.70h1v1.3h-1zm2 0h1v1.3h-1zm3 0h1v1.3h-1zm2 0h1v1.3h-1zm4 0h1v1.3h-1zm24 0h1v1.3h-1zm16 0h1v1.3h-1zm22 0h1v1.3h-1zm6 0h1v1.3h-1zm1 0h1v1.3h-1zm5 0h1v1.3h-1zm2 0h1v1.3h-1zm11 0h1v1.3h-1zm5 0h1v1.3h-1zm1 0h1v1.3h-1zm6 0h1v1.3h-1zm3 0h1v1.3h-1zm-122-10.68h1v3.2h-1zm2 0h1v3.2h-1zm2 0h1v3.2h-1zm8 0h1v3.2h-1zm2 0h1v3.2h-1zm2 0h1v3.2h-1zm5 0h1v3.2h-1zm1 0h1v3.2h-1zm11 0h1v3.2h-1zm8 0h1v3.2h-1zm8 0h1v3.2h-1zm5 0h1v3.2h-1zm35 0h1v3.2h-1zm14 0h1v3.2h-1zm9 0h1v3.2h-1zm5 0h1v3.2h-1zm6 0h1v3.2h-1zm-125-10.68h1v3.2h-1zm2 0h1v3.2h-1zm2 0h1v3.2h-1zm1 0h1v3.2h-1zm13 0h1v3.2h-1zm1 0h1v3.2h-1zm2 0h1v3.2h-1zm13 0h1v3.2h-1zm23 0h1v3.2h-1zm2 0h1v3.2h-1zm1 0h1v3.2h-1zm3 0h1v3.2h-1zm6 0h1v3.2h-1zm4 0h1v3.2h-1zm18 0h1v3.2h-1zm14 0h1v3.2h-1zm13 0h1v3.2h-1zm8 0h1v3.2h-1zm1 0h1v3.2h-1zm-126-10.68h1v3.2h-1zm8 0h1v3.2h-1zm13 0h1v3.2h-1zm2 0h1v3.2h-1zm1 0h1v3.2h-1zm12 0h1v3.2h-1zm1 0h1v3.2h-1zm1 0h1v3.2h-1zm21 0h1v3.2h-1zm3 0h1v3.2h-1zm2 0h1v3.2h-1zm1 0h1v3.2h-1zm14 0h1v3.2h-1zm5 0h1v3.2h-1zm23 0h1v3.2h-1zm2 0h1v3.2h-1zm-111-10.68h1v3.2h-1zm6 0h1v3.2h-1zm4 0h1v3.2h-1zm5 0h1v3.2h-1zm12 0h1v3.2h-1zm4 0h1v3.2h-1zm2 0h1v3.2h-1zm8 0h1v3.2h-1zm4 0h1v3.2h-1zm5 0h1v3.2h-1zm5 0h1v3.2h-1zm3 0h1v3.2h-1zm44 0h1v3.2h-1zm8 0h1v3.2h-1zm5 0h1v3.2h-1zm13 0h1v3.2h-1zm-127-10.68h1v3.2h-1zm5 0h1v3.2h-1zm2 0h1v3.2h-1zm11 0h1v3.2h-1zm1 0h1v3.2h-1zm12 0h1v3.2h-1zm2 0h1v3.2h-1zm2 0h1v3.2h-1zm2 0h1v3.2h-1zm17 0h1v3.2h-1zm2 0h1v3.2h-1zm8 0h1v3.2h-1zm8 0h1v3.2h-1zm28 0h1v3.2h-1zm5 0h1v3.2h-1zm2 0h1v3.2h-1zm6 0h1v3.2h-1zm3 0h1v3.2h-1zm-81-10.68h1v3.2h-1zm2 0h1v3.2h-1zm6 0h1v3.2h-1zm5 0h1v3.2h-1zm10 0h1v3.2h-1zm13 0h1v3.2h-1zm18 0h1v3.2h-1zm2 0h1v3.2h-1zm6 0h1v3.2h-1zm15 0h1v3.2h-1zm11 0h1v3.2h-1zm1 0h1v3.2h-1zm-123-10.68h1v3.2h-1zm3 0h1v3.2h-1zm3 0h1v3.2h-1zm2 0h1v3.2h-1zm14 0h1v3.2h-1zm18 0h1v3.2h-1zm11 0h1v3.2h-1zm4 0h1v3.2h-1zm8 0h1v3.2h-1zm2 0h1v3.2h-1zm17 0h1v3.2h-1zm2 0h1v3.2h-1zm4 0h1v3.2h-1zm6 0h1v3.2h-1zm2 0h1v3.2h-1zm1 0h1v3.2h-1zm8 0h1v3.2h-1zm5 0h1v3.2h-1zm16 0h1v3.2h-1zm-128-10.68h1v3.2h-1zm10 0h1v3.2h-1zm3 0h1v3.2h-1zm5 0h1v3.2h-1zm10 0h1v3.2h-1zm3 0h1v3.2h-1zm14 0h1v3.2h-1zm6 0h1v3.2h-1zm2 0h1v3.2h-1zm12 0h1v3.2h-1zm15 0h1v3.2h-1zm2 0h1v3.2h-1zm3 0h1v3.2h-1zm3 0h1v3.2h-1zm5 0h1v3.2h-1zm1 0h1v3.2h-1zm3 0h1v3.2h-1zm7 0h1v3.2h-1zm4 0h1v3.2h-1zm1 0h1v3.2h-1zm6 0h1v3.2h-1zm5 0h1v3.2h-1zm8 0h1v3.2h-1zm-122-10.68h1v3.2h-1zm22 0h1v3.2h-1zm5 0h1v3.2h-1zm2 0h1v3.2h-1zm14 0h1v3.2h-1zm2 0h1v3.2h-1zm13 0h1v3.2h-1zm16 0h1v3.2h-1zm9 0h1v3.2h-1zm1 0h1v3.2h-1zm1 0h1v3.2h-1zm1 0h1v3.2h-1zm4 0h1v3.2h-1zm5 0h1v3.2h-1zm2 0h1v3.2h-1zm2 0h1v3.2h-1zm15 0h1v3.2h-1zm5 0h1v3.2h-1zm-117-10.68h1v3.2h-1zm1 0h1v3.2h-1zm6 0h1v3.2h-1zm9 0h1v3.2h-1zm4 0h1v3.2h-1zm14 0h1v3.2h-1zm4 0h1v3.2h-1zm7 0h1v3.2h-1zm2 0h1v3.2h-1zm2 0h1v3.2h-1zm16 0h1v3.2h-1zm5 0h1v3.2h-1zm2 0h1v3.2h-1zm8 0h1v3.2h-1zm2 0h1v3.2h-1zm13 0h1v3.2h-1zm2 0h1v3.2h-1zm8 0h1v3.2h-1zm-113-10h1v2.52h-1zm3 0h1v2.52h-1zm1 0h1v2.52h-1zm3 0h1v2.52h-1zm4 0h1v2.52h-1zm3 0h1v2.52h-1zm2 0h1v2.52h-1zm14 0h1v2.52h-1zm9 0h1v2.52h-1zm1 0h1v2.52h-1zm4 0h1v2.52h-1zm19 0h1v2.52h-1zm4 0h1v2.52h-1zm29 0h1v2.52h-1zm1 0h1v2.52h-1zm8 0h1v2.52h-1zm10 0h1v2.52h-1zm4 0h1v2.52h-1zm2 0h1v2.52h-1z"/>
<path fill="#939393" d="M416 283.34h1v3.2h-1zm96 0h1v3.2h-1zm-107-10.68h1v3.2h-1zm17 0h1v3.2h-1zm2 0h1v3.2h-1zm65 0h1v3.2h-1zm28 0h1v3.2h-1zm-33-21.36h1v3.2h-1zm-66-10.68h1v3.2h-1zm29 0h1v3.2h-1zm-15-10.68h1v3.2h-1zm23 0h1v3.2h-1zm15-10.68h1v3.2h-1zm-39-10.68h1v3.2h-1zm32 0h1v3.2h-1zm2 0h1v3.2h-1zm1 0h1v3.2h-1zm4 0h1v3.2h-1zm36 0h1v3.2h-1zm4 0h1v3.2h-1zm-74-10.68h1v3.2h-1zm23 0h1v3.2h-1zm40 0h1v3.2h-1zm4 0h1v3.2h-1zm-21-10h1v2.52h-1zm4 0h1v2.52h-1zm5 0h1v2.52h-1zm4 0h1v2.52h-1z"/>
<path fill="#9b9b9b" d="M503 304.70h1v1.3h-1zm2 0h1v1.3h-1zm3-10.68h1v3.2h-1zm-107-10.68h1v3.2h-1zm93 0h1v3.2h-1zm22 0h1v3.2h-1zm-96-10.68h1v3.2h-1zm71 0h1v3.2h-1zm2 0h1v3.2h-1zm28 0h1v3.2h-1zm-94-10.68h1v3.2h-1zm2 0h1v3.2h-1zm2 0h1v3.2h-1zm-17-10.68h1v3.2h-1zm21 0h1v3.2h-1zm2 0h1v3.2h-1zm2 0h1v3.2h-1zm41 0h1v3.2h-1zm-37-10.68h1v3.2h-1zm2 0h1v3.2h-1zm34 0h1v3.2h-1zm-56-10.68h1v3.2h-1zm28 0h1v3.2h-1zm2 0h1v3.2h-1zm-26-10.68h1v3.2h-1zm32 0h1v3.2h-1zm9 0h1v3.2h-1zm46 0h1v3.2h-1zm2 0h1v3.2h-1zm2 0h1v3.2h-1zm-10-10.68h1v3.2h-1zm-34-10.68h1v3.2h-1zm4 0h1v3.2h-1zm23 0h1v3.2h-1zm-8-10h1v2.52h-1z"/>
<path fill="#a4a4a4" d="M510 294.02h1v3.2h-1zm-14-10.68h1v3.2h-1zm18 0h1v3.2h-1zm-107-10.68h1v3.2h-1zm112 0h1v3.2h-1zm-109-10.68h1v3.2h-1zm76 0h1v3.2h-1zm2 0h1v3.2h-1zm-6-10.68h1v3.2h-1zm-5-10.68h1v3.2h-1zm-6-10.68h1v3.2h-1zm2 0h1v3.2h-1zm-5-21.36h1v3.2h-1zm8-10.68h1v3.2h-1zm8-10h1v2.52h-1z"/>
<path fill="#adadad" d="M405 294.02h1v3.2h-1zm-2-10.68h1v3.2h-1zm13-32.04h1v3.2h-1zm4-10.68h1v3.2h-1zm5-10.68h1v3.2h-1zm8-21.36h1v3.2h-1z"/>
<path fill="#b6b6b6" d="M509 272.66h1v3.2h-1zm-97-10.68h1v3.2h-1zm1 0h1v3.2h-1zm105 0h1v3.2h-1zm-48-21.36h1v3.2h-1zm-44-10.68h1v3.2h-1zm3-10.68h1v3.2h-1zm10-21.36h1v3.2h-1z"/>
<path fill="#bfbfbf" d="M496 304.70h1v1.3h-1zm9-10.68h1v3.2h-1zm-22-21.36h1v3.2h-1zm-4-21.36h1v3.2h-1zm-13-32.04h1v3.2h-1zm-9-10.68h1v3.2h-1zm-9-20.68h1v2.52h-1z"/>
<path fill="#c7c7c7" d="M396 304.70h1v1.3h-1zm13-21.36h1v3.2h-1zm83 0h1v3.2h-1zm-83-10.68h1v3.2h-1zm13-21.36h1v3.2h-1zm0-10.68h1v3.2h-1zm13-21.36h1v3.2h-1zm0-10.68h1v3.2h-1zm18-20.68h1v2.52h-1z"/>
<path fill="#d0d0d0" d="M492 294.02h1v3.2h-1zm4 0h1v3.2h-1zm-91-10.68h1v3.2h-1zm100 0h1v3.2h-1zm4 0h1v3.2h-1zm-94-21.36h1v3.2h-1zm2 0h1v3.2h-1zm62 0h1v3.2h-1zm39-10.68h1v3.2h-1zm-92-10.68h1v3.2h-1zm48 0h1v3.2h-1zm-41-21.36h1v3.2h-1zm20-21.36h1v3.2h-1zm4 0h1v3.2h-1z"/>
<path fill="#d9d9d9" d="M398 304.70h1v1.3h-1zm2 0h1v1.3h-1zm98 0h1v1.3h-1zm2 0h1v1.3h-1zm-99-10.68h1v3.2h-1zm93 0h1v3.2h-1zm7 0h1v3.2h-1zm2 0h1v3.2h-1zm-96-10.68h1v3.2h-1zm81 0h1v3.2h-1zm2 0h1v3.2h-1zm17 0h1v3.2h-1zm-96-10.68h1v3.2h-1zm74 0h1v3.2h-1zm2 0h1v3.2h-1zm26 0h1v3.2h-1zm-32-10.68h1v3.2h-1zm2 0h1v3.2h-1zm31 0h1v3.2h-1zm2 0h1v3.2h-1zm-98-10.68h1v3.2h-1zm2 0h1v3.2h-1zm55 0h1v3.2h-1zm45 0h1v3.2h-1zm-48-10.68h1v3.2h-1zm-44-10.68h1v3.2h-1zm2 0h1v3.2h-1zm36 0h1v3.2h-1zm4 0h1v3.2h-1zm-39-10.68h1v3.2h-1zm31 0h1v3.2h-1zm-25-10.68h1v3.2h-1zm2 0h1v3.2h-1zm20 0h1v3.2h-1zm2 0h1v3.2h-1zm-20-10.68h1v3.2h-1zm2 0h1v3.2h-1zm1-10h1v2.52h-1zm7 0h1v2.52h-1z"/>
<path fill="#e2e2e2" d="M403 294.02h1v3.2h-1zm10-21.36h1v3.2h-1zm98 0h1v3.2h-1zm-34-21.36h1v3.2h-1zm-53-10.68h1v3.2h-1zm44-10.68h1v3.2h-1zm-4-10.68h1v3.2h-1zm-9-21.36h1v3.2h-1zm-9-10h1v2.52h-1zm3 0h1v2.52h-1z"/>
</g></g>
<rect x="392.8" y="305.20" width="128.40" height="1.1" fill="#6c6c6c" fill-opacity="0.8"/>
<defs><linearGradient id="cbd" x1="0" y1="0" x2="0" y2="1"><stop offset="0" stop-color="#ffffff"/><stop offset="1" stop-color="#000000"/></linearGradient></defs>
<rect x="527.75" y="187.85" width="3.40" height="118.40" fill="url(#cbd)" stroke="#a8a8a8" stroke-width="0.5"/>
<path stroke="#333" stroke-width="0.5" d="M530.30 202.46h1.1M530.30 217.32h1.1M530.30 232.19h1.1M530.30 247.05h1.1M530.30 261.91h1.1M530.30 276.77h1.1M530.30 291.64h1.1"/>
<text x="391.00" y="309.10" text-anchor="end" font-family="Liberation Sans, sans-serif" font-size="7.8" fill="#303030" stroke="#303030" stroke-width="0.12">0</text>
<text x="391.00" y="284.37" text-anchor="end" font-family="Liberation Sans, sans-serif" font-size="7.8" fill="#303030" stroke="#303030" stroke-width="0.12">20</text>
<text x="391.00" y="259.64" text-anchor="end" font-family="Liberation Sans, sans-serif" font-size="7.8" fill="#303030" stroke="#303030" stroke-width="0.12">40</text>
<text x="391.00" y="234.91" text-anchor="end" font-family="Liberation Sans, sans-serif" font-size="7.8" fill="#303030" stroke="#303030" stroke-width="0.12">60</text>
<text x="391.00" y="210.18" text-anchor="end" font-family="Liberation Sans, sans-serif" font-size="7.8" fill="#303030" stroke="#303030" stroke-width="0.12">80</text>
<text x="414.20" y="316.50" text-anchor="middle" font-family="Liberation Sans, sans-serif" font-size="7.8" fill="#303030" stroke="#303030" stroke-width="0.12">2</text>
<text x="435.60" y="316.50" text-anchor="middle" font-family="Liberation Sans, sans-serif" font-size="7.8" fill="#303030" stroke="#303030" stroke-width="0.12">4</text>
<text x="457.00" y="316.50" text-anchor="middle" font-family="Liberation Sans, sans-serif" font-size="7.8" fill="#303030" stroke="#303030" stroke-width="0.12">6</text>
<text x="478.40" y="316.50" text-anchor="middle" font-family="Liberation Sans, sans-serif" font-size="7.8" fill="#303030" stroke="#303030" stroke-width="0.12">8</text>
<text x="499.80" y="316.50" text-anchor="middle" font-family="Liberation Sans, sans-serif" font-size="7.8" fill="#303030" stroke="#303030" stroke-width="0.12">10</text>
<text x="521.20" y="316.50" text-anchor="middle" font-family="Liberation Sans, sans-serif" font-size="7.8" fill="#303030" stroke="#303030" stroke-width="0.12">12</text>
<text x="533.20" y="190.40" font-family="Liberation Sans, sans-serif" font-size="7.8" fill="#303030" stroke="#303030" stroke-width="0.12">8</text>
<text x="533.20" y="205.26" font-family="Liberation Sans, sans-serif" font-size="7.8" fill="#303030" stroke="#303030" stroke-width="0.12">6</text>
<text x="533.20" y="220.12" font-family="Liberation Sans, sans-serif" font-size="7.8" fill="#303030" stroke="#303030" stroke-width="0.12">4</text>
<text x="533.20" y="234.99" font-family="Liberation Sans, sans-serif" font-size="7.8" fill="#303030" stroke="#303030" stroke-width="0.12">2</text>
<text x="533.20" y="249.85" font-family="Liberation Sans, sans-serif" font-size="7.8" fill="#303030" stroke="#303030" stroke-width="0.12">0</text>
<text x="533.20" y="264.71" font-family="Liberation Sans, sans-serif" font-size="7.8" fill="#303030" stroke="#303030" stroke-width="0.12">-2</text>
<text x="533.20" y="279.57" font-family="Liberation Sans, sans-serif" font-size="7.8" fill="#303030" stroke="#303030" stroke-width="0.12">-4</text>
<text x="533.20" y="294.44" font-family="Liberation Sans, sans-serif" font-size="7.8" fill="#303030" stroke="#303030" stroke-width="0.12">-6</text>
<text x="533.20" y="309.30" font-family="Liberation Sans, sans-serif" font-size="7.8" fill="#303030" stroke="#303030" stroke-width="0.12">-8</text>
<text x="457.00" y="325.70" text-anchor="middle" font-family="Liberation Sans, sans-serif" font-size="8" fill="#303030" stroke="#303030" stroke-width="0.12">Time(s)</text>
<text transform="translate(380.00,246.15) rotate(-90)" text-anchor="middle" font-family="Liberation Sans, sans-serif" font-size="8.25" fill="#303030" stroke="#303030" stroke-width="0.12">Location(inch)</text>
<text x="531.70" y="185.20" font-family="Liberation Sans, sans-serif" font-size="8" fill="#303030" stroke="#303030" stroke-width="0.12">×10<tspan font-size="5.5" dy="-4.1">'</tspan></text>
<text x="503.10" y="328.00" font-family="Liberation Sans, sans-serif" font-size="8" fill="#303030" stroke="#303030" stroke-width="0.12">×10<tspan font-size="5.5" dy="-4.1">-4</tspan></text>
<text x="455.60" y="344.20" text-anchor="middle" font-family="Liberation Serif, serif" font-weight="bold" font-size="13.5" fill="#111">(d)</text>
</svg>
</body></html>
